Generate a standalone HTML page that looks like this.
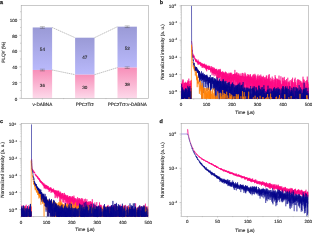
<!DOCTYPE html>
<html><head><meta charset="utf-8"><style>
html,body{margin:0;padding:0;background:#fff;width:312px;height:233px;overflow:hidden}
svg{display:block;will-change:transform}
text{font-family:"Liberation Sans",sans-serif;text-rendering:geometricPrecision;fill:#262626;stroke:#262626;stroke-width:0.12px}
</style></head><body>
<svg width="312" height="233" viewBox="0 0 312 233">
<defs><linearGradient id="gb" x1="0" y1="0" x2="0" y2="1"><stop offset="0" stop-color="#9a9ad6"/><stop offset="1" stop-color="#b9b9fb"/></linearGradient><linearGradient id="gp" x1="0" y1="0" x2="0" y2="1"><stop offset="0" stop-color="#f78fb9"/><stop offset="1" stop-color="#fdd9ea"/></linearGradient></defs>
<rect x="32.70" y="27.47" width="19.4" height="42.50" fill="url(#gb)"/>
<rect x="32.70" y="69.97" width="19.4" height="28.33" fill="url(#gp)"/>
<text x="42.40" y="51.22" font-size="4.6" text-anchor="middle" >54</text>
<text x="42.40" y="86.93" font-size="4.6" text-anchor="middle" >36</text>
<text x="42.40" y="106.30" font-size="4.6" text-anchor="middle" >v-DABNA</text>
<line x1="39.90" y1="26.67" x2="44.90" y2="26.67" stroke="#666" stroke-width="0.4"/>
<line x1="39.90" y1="28.37" x2="44.90" y2="28.37" stroke="#555" stroke-width="0.45"/>
<line x1="42.40" y1="26.67" x2="42.40" y2="28.37" stroke="#666" stroke-width="0.4"/>
<line x1="39.90" y1="69.17" x2="44.90" y2="69.17" stroke="#666" stroke-width="0.4"/>
<line x1="39.90" y1="70.87" x2="44.90" y2="70.87" stroke="#555" stroke-width="0.45"/>
<line x1="42.40" y1="69.17" x2="42.40" y2="70.87" stroke="#666" stroke-width="0.4"/>
<rect x="75.10" y="37.70" width="19.4" height="36.99" fill="url(#gb)"/>
<rect x="75.10" y="74.69" width="19.4" height="23.61" fill="url(#gp)"/>
<text x="84.80" y="58.70" font-size="4.6" text-anchor="middle" >47</text>
<text x="84.80" y="89.30" font-size="4.6" text-anchor="middle" >30</text>
<text x="84.80" y="106.30" font-size="4.6" text-anchor="middle" >PPCzTrz</text>
<rect x="117.50" y="26.68" width="19.4" height="40.92" fill="url(#gb)"/>
<rect x="117.50" y="67.61" width="19.4" height="30.69" fill="url(#gp)"/>
<text x="127.20" y="49.64" font-size="4.6" text-anchor="middle" >52</text>
<text x="127.20" y="85.75" font-size="4.6" text-anchor="middle" >39</text>
<text x="127.20" y="106.30" font-size="4.6" text-anchor="middle" >PPCzTrz:v-DABNA</text>
<line x1="124.70" y1="25.88" x2="129.70" y2="25.88" stroke="#666" stroke-width="0.4"/>
<line x1="124.70" y1="27.58" x2="129.70" y2="27.58" stroke="#555" stroke-width="0.45"/>
<line x1="127.20" y1="25.88" x2="127.20" y2="27.58" stroke="#666" stroke-width="0.4"/>
<line x1="124.70" y1="66.81" x2="129.70" y2="66.81" stroke="#666" stroke-width="0.4"/>
<line x1="124.70" y1="68.51" x2="129.70" y2="68.51" stroke="#555" stroke-width="0.45"/>
<line x1="127.20" y1="66.81" x2="127.20" y2="68.51" stroke="#666" stroke-width="0.4"/>
<path d="M52.10 27.47L75.10 37.70M52.10 69.97L75.10 74.69" stroke="#5a5a5a" stroke-width="0.38" stroke-dasharray="1.5 0.6" fill="none"/>
<path d="M94.50 37.70L117.50 26.68M94.50 74.69L117.50 67.61" stroke="#5a5a5a" stroke-width="0.38" stroke-dasharray="1.5 0.6" fill="none"/>
<rect x="21.2" y="5.5" width="127.30" height="92.80" fill="none" stroke="#a6a6a6" stroke-width="0.6"/>
<line x1="19.40" y1="98.30" x2="21.20" y2="98.30" stroke="#a6a6a6" stroke-width="0.6"/>
<text x="17.20" y="100.50" font-size="4.5" text-anchor="end" >0</text>
<line x1="20.20" y1="90.43" x2="21.20" y2="90.43" stroke="#a6a6a6" stroke-width="0.6"/>
<line x1="19.40" y1="82.56" x2="21.20" y2="82.56" stroke="#a6a6a6" stroke-width="0.6"/>
<text x="17.20" y="84.76" font-size="4.5" text-anchor="end" >20</text>
<line x1="20.20" y1="74.69" x2="21.20" y2="74.69" stroke="#a6a6a6" stroke-width="0.6"/>
<line x1="19.40" y1="66.82" x2="21.20" y2="66.82" stroke="#a6a6a6" stroke-width="0.6"/>
<text x="17.20" y="69.02" font-size="4.5" text-anchor="end" >40</text>
<line x1="20.20" y1="58.95" x2="21.20" y2="58.95" stroke="#a6a6a6" stroke-width="0.6"/>
<line x1="19.40" y1="51.08" x2="21.20" y2="51.08" stroke="#a6a6a6" stroke-width="0.6"/>
<text x="17.20" y="53.28" font-size="4.5" text-anchor="end" >60</text>
<line x1="20.20" y1="43.21" x2="21.20" y2="43.21" stroke="#a6a6a6" stroke-width="0.6"/>
<line x1="19.40" y1="35.34" x2="21.20" y2="35.34" stroke="#a6a6a6" stroke-width="0.6"/>
<text x="17.20" y="37.54" font-size="4.5" text-anchor="end" >80</text>
<line x1="20.20" y1="27.47" x2="21.20" y2="27.47" stroke="#a6a6a6" stroke-width="0.6"/>
<line x1="19.40" y1="19.60" x2="21.20" y2="19.60" stroke="#a6a6a6" stroke-width="0.6"/>
<text x="17.20" y="21.80" font-size="4.5" text-anchor="end" >100</text>
<line x1="20.20" y1="11.73" x2="21.20" y2="11.73" stroke="#a6a6a6" stroke-width="0.6"/>
<line x1="42.40" y1="98.30" x2="42.40" y2="99.50" stroke="#a6a6a6" stroke-width="0.6"/>
<line x1="84.80" y1="98.30" x2="84.80" y2="99.50" stroke="#a6a6a6" stroke-width="0.6"/>
<line x1="127.20" y1="98.30" x2="127.20" y2="99.50" stroke="#a6a6a6" stroke-width="0.6"/>
<line x1="63.60" y1="98.30" x2="63.60" y2="99.10" stroke="#a6a6a6" stroke-width="0.6"/>
<line x1="106.00" y1="98.30" x2="106.00" y2="99.10" stroke="#a6a6a6" stroke-width="0.6"/>
<text transform="translate(4.6,52.3) rotate(-90)" font-size="4.7" text-anchor="middle">PLQY (%)</text>
<text x="0" y="3.9" font-size="5.4" font-weight="bold" style="stroke-width:0.25px">a</text>
<rect x="181.2" y="5.6" width="127.40" height="93.20" fill="none" stroke="#a6a6a6" stroke-width="0.6"/>
<line x1="180.40" y1="98.64" x2="181.20" y2="98.64" stroke="#a6a6a6" stroke-width="0.4"/>
<line x1="180.40" y1="96.98" x2="181.20" y2="96.98" stroke="#a6a6a6" stroke-width="0.4"/>
<line x1="180.40" y1="95.62" x2="181.20" y2="95.62" stroke="#a6a6a6" stroke-width="0.4"/>
<line x1="180.40" y1="94.46" x2="181.20" y2="94.46" stroke="#a6a6a6" stroke-width="0.4"/>
<line x1="180.40" y1="93.47" x2="181.20" y2="93.47" stroke="#a6a6a6" stroke-width="0.4"/>
<line x1="180.40" y1="92.59" x2="181.20" y2="92.59" stroke="#a6a6a6" stroke-width="0.4"/>
<line x1="179.60" y1="91.80" x2="181.20" y2="91.80" stroke="#a6a6a6" stroke-width="0.6"/>
<text x="174.20" y="93.80" font-size="4.8" text-anchor="end" >10</text>
<text x="174.40" y="92.00" font-size="3.0" text-anchor="start" >-5</text>
<line x1="180.40" y1="86.62" x2="181.20" y2="86.62" stroke="#a6a6a6" stroke-width="0.4"/>
<line x1="180.40" y1="83.59" x2="181.20" y2="83.59" stroke="#a6a6a6" stroke-width="0.4"/>
<line x1="180.40" y1="81.44" x2="181.20" y2="81.44" stroke="#a6a6a6" stroke-width="0.4"/>
<line x1="180.40" y1="79.78" x2="181.20" y2="79.78" stroke="#a6a6a6" stroke-width="0.4"/>
<line x1="180.40" y1="78.42" x2="181.20" y2="78.42" stroke="#a6a6a6" stroke-width="0.4"/>
<line x1="180.40" y1="77.26" x2="181.20" y2="77.26" stroke="#a6a6a6" stroke-width="0.4"/>
<line x1="180.40" y1="76.27" x2="181.20" y2="76.27" stroke="#a6a6a6" stroke-width="0.4"/>
<line x1="180.40" y1="75.39" x2="181.20" y2="75.39" stroke="#a6a6a6" stroke-width="0.4"/>
<line x1="179.60" y1="74.60" x2="181.20" y2="74.60" stroke="#a6a6a6" stroke-width="0.6"/>
<text x="174.20" y="76.60" font-size="4.8" text-anchor="end" >10</text>
<text x="174.40" y="74.80" font-size="3.0" text-anchor="start" >-4</text>
<line x1="180.40" y1="69.42" x2="181.20" y2="69.42" stroke="#a6a6a6" stroke-width="0.4"/>
<line x1="180.40" y1="66.39" x2="181.20" y2="66.39" stroke="#a6a6a6" stroke-width="0.4"/>
<line x1="180.40" y1="64.24" x2="181.20" y2="64.24" stroke="#a6a6a6" stroke-width="0.4"/>
<line x1="180.40" y1="62.58" x2="181.20" y2="62.58" stroke="#a6a6a6" stroke-width="0.4"/>
<line x1="180.40" y1="61.22" x2="181.20" y2="61.22" stroke="#a6a6a6" stroke-width="0.4"/>
<line x1="180.40" y1="60.06" x2="181.20" y2="60.06" stroke="#a6a6a6" stroke-width="0.4"/>
<line x1="180.40" y1="59.07" x2="181.20" y2="59.07" stroke="#a6a6a6" stroke-width="0.4"/>
<line x1="180.40" y1="58.19" x2="181.20" y2="58.19" stroke="#a6a6a6" stroke-width="0.4"/>
<line x1="179.60" y1="57.40" x2="181.20" y2="57.40" stroke="#a6a6a6" stroke-width="0.6"/>
<text x="174.20" y="59.40" font-size="4.8" text-anchor="end" >10</text>
<text x="174.40" y="57.60" font-size="3.0" text-anchor="start" >-3</text>
<line x1="180.40" y1="52.22" x2="181.20" y2="52.22" stroke="#a6a6a6" stroke-width="0.4"/>
<line x1="180.40" y1="49.19" x2="181.20" y2="49.19" stroke="#a6a6a6" stroke-width="0.4"/>
<line x1="180.40" y1="47.04" x2="181.20" y2="47.04" stroke="#a6a6a6" stroke-width="0.4"/>
<line x1="180.40" y1="45.38" x2="181.20" y2="45.38" stroke="#a6a6a6" stroke-width="0.4"/>
<line x1="180.40" y1="44.02" x2="181.20" y2="44.02" stroke="#a6a6a6" stroke-width="0.4"/>
<line x1="180.40" y1="42.86" x2="181.20" y2="42.86" stroke="#a6a6a6" stroke-width="0.4"/>
<line x1="180.40" y1="41.87" x2="181.20" y2="41.87" stroke="#a6a6a6" stroke-width="0.4"/>
<line x1="180.40" y1="40.99" x2="181.20" y2="40.99" stroke="#a6a6a6" stroke-width="0.4"/>
<line x1="179.60" y1="40.20" x2="181.20" y2="40.20" stroke="#a6a6a6" stroke-width="0.6"/>
<text x="174.20" y="42.20" font-size="4.8" text-anchor="end" >10</text>
<text x="174.40" y="40.40" font-size="3.0" text-anchor="start" >-2</text>
<line x1="180.40" y1="35.02" x2="181.20" y2="35.02" stroke="#a6a6a6" stroke-width="0.4"/>
<line x1="180.40" y1="31.99" x2="181.20" y2="31.99" stroke="#a6a6a6" stroke-width="0.4"/>
<line x1="180.40" y1="29.84" x2="181.20" y2="29.84" stroke="#a6a6a6" stroke-width="0.4"/>
<line x1="180.40" y1="28.18" x2="181.20" y2="28.18" stroke="#a6a6a6" stroke-width="0.4"/>
<line x1="180.40" y1="26.82" x2="181.20" y2="26.82" stroke="#a6a6a6" stroke-width="0.4"/>
<line x1="180.40" y1="25.66" x2="181.20" y2="25.66" stroke="#a6a6a6" stroke-width="0.4"/>
<line x1="180.40" y1="24.67" x2="181.20" y2="24.67" stroke="#a6a6a6" stroke-width="0.4"/>
<line x1="180.40" y1="23.79" x2="181.20" y2="23.79" stroke="#a6a6a6" stroke-width="0.4"/>
<line x1="179.60" y1="23.00" x2="181.20" y2="23.00" stroke="#a6a6a6" stroke-width="0.6"/>
<text x="174.20" y="25.00" font-size="4.8" text-anchor="end" >10</text>
<text x="174.40" y="23.20" font-size="3.0" text-anchor="start" >-1</text>
<line x1="180.40" y1="17.82" x2="181.20" y2="17.82" stroke="#a6a6a6" stroke-width="0.4"/>
<line x1="180.40" y1="14.79" x2="181.20" y2="14.79" stroke="#a6a6a6" stroke-width="0.4"/>
<line x1="180.40" y1="12.64" x2="181.20" y2="12.64" stroke="#a6a6a6" stroke-width="0.4"/>
<line x1="180.40" y1="10.98" x2="181.20" y2="10.98" stroke="#a6a6a6" stroke-width="0.4"/>
<line x1="180.40" y1="9.62" x2="181.20" y2="9.62" stroke="#a6a6a6" stroke-width="0.4"/>
<line x1="180.40" y1="8.46" x2="181.20" y2="8.46" stroke="#a6a6a6" stroke-width="0.4"/>
<line x1="180.40" y1="7.47" x2="181.20" y2="7.47" stroke="#a6a6a6" stroke-width="0.4"/>
<line x1="180.40" y1="6.59" x2="181.20" y2="6.59" stroke="#a6a6a6" stroke-width="0.4"/>
<line x1="179.60" y1="5.80" x2="181.20" y2="5.80" stroke="#a6a6a6" stroke-width="0.6"/>
<text x="174.20" y="7.80" font-size="4.8" text-anchor="end" >10</text>
<text x="174.40" y="6.00" font-size="3.0" text-anchor="start" >0</text>
<line x1="181.00" y1="98.80" x2="181.00" y2="100.00" stroke="#a6a6a6" stroke-width="0.6"/>
<text x="181.00" y="105.90" font-size="4.5" text-anchor="middle" >0</text>
<line x1="206.52" y1="98.80" x2="206.52" y2="100.00" stroke="#a6a6a6" stroke-width="0.6"/>
<text x="206.52" y="105.90" font-size="4.5" text-anchor="middle" >100</text>
<line x1="232.04" y1="98.80" x2="232.04" y2="100.00" stroke="#a6a6a6" stroke-width="0.6"/>
<text x="232.04" y="105.90" font-size="4.5" text-anchor="middle" >200</text>
<line x1="257.56" y1="98.80" x2="257.56" y2="100.00" stroke="#a6a6a6" stroke-width="0.6"/>
<text x="257.56" y="105.90" font-size="4.5" text-anchor="middle" >300</text>
<line x1="283.08" y1="98.80" x2="283.08" y2="100.00" stroke="#a6a6a6" stroke-width="0.6"/>
<text x="283.08" y="105.90" font-size="4.5" text-anchor="middle" >400</text>
<line x1="308.60" y1="98.80" x2="308.60" y2="100.00" stroke="#a6a6a6" stroke-width="0.6"/>
<text x="308.60" y="105.90" font-size="4.5" text-anchor="middle" >500</text>
<line x1="193.76" y1="98.80" x2="193.76" y2="99.60" stroke="#a6a6a6" stroke-width="0.6"/>
<line x1="219.28" y1="98.80" x2="219.28" y2="99.60" stroke="#a6a6a6" stroke-width="0.6"/>
<line x1="244.80" y1="98.80" x2="244.80" y2="99.60" stroke="#a6a6a6" stroke-width="0.6"/>
<line x1="270.32" y1="98.80" x2="270.32" y2="99.60" stroke="#a6a6a6" stroke-width="0.6"/>
<line x1="295.84" y1="98.80" x2="295.84" y2="99.60" stroke="#a6a6a6" stroke-width="0.6"/>
<text transform="translate(164.4,51.95) rotate(-90)" font-size="4.7" text-anchor="middle">Normalized intensity (a. u.)</text>
<text x="245.00" y="113.80" font-size="4.6" text-anchor="middle" >Time (&#956;s)</text>
<text x="159.8" y="3.9" font-size="5.4" font-weight="bold" style="stroke-width:0.25px">b</text>
<clipPath id="k1"><rect x="181.2" y="5.6" width="127.40" height="93.20"/></clipPath>
<path clip-path="url(#k1)" d="M181.0 85.1 181.1 83.2 181.1 85.2 181.2 101.8 181.3 82.9 181.3 84.7 181.4 91.2 181.4 84.1 181.5 85.1 181.6 85.4 181.6 86.8 181.7 84.2 181.8 93.8 181.8 88.0 181.9 90.7 181.9 84.0 182.0 86.7 182.1 89.0 182.1 94.5 182.2 88.7 182.3 86.9 182.3 88.9 182.4 81.6 182.4 82.5 182.5 101.8 182.6 101.8 182.6 88.1 182.7 90.1 182.8 85.8 182.8 85.8 182.9 79.5 182.9 101.8 183.0 89.7 183.1 79.7 183.1 83.8 183.2 83.8 183.3 91.0 183.3 101.8 183.4 86.0 183.4 86.4 183.5 101.8 183.6 93.0 183.6 87.4 183.7 97.8 183.8 87.6 183.8 86.4 183.9 86.8 183.9 90.9 184.0 84.1 184.1 82.9 184.1 85.3 184.2 95.1 184.3 83.5 184.3 90.9 184.4 83.0 184.4 101.8 184.5 82.8 184.6 87.1 184.6 101.8 184.7 89.2 184.8 86.7 184.8 85.5 184.9 98.8 184.9 101.8 185.0 85.9 185.1 90.5 185.1 85.7 185.2 83.4 185.3 101.8 185.3 85.6 185.4 81.8 185.4 89.0 185.5 95.0 185.6 83.4 185.6 85.6 185.7 82.9 185.8 89.4 185.8 101.8 185.9 87.7 185.9 90.3 186.0 83.3 186.1 85.9 186.1 101.8 186.2 101.8 186.3 83.0 186.3 83.7 186.4 92.4 186.4 87.0 186.5 84.7 186.6 84.6 186.6 83.0 186.7 85.6 186.8 87.6 186.8 88.7 186.9 82.4 187.0 101.8 187.0 87.9 187.1 86.8 187.1 101.8 187.2 85.2 187.3 92.6 187.3 83.0 187.4 87.8 187.5 83.7 187.5 81.9 187.6 85.0 187.6 96.2 187.7 101.8 187.8 80.4 187.8 87.7 187.9 93.1 188.0 86.2 188.0 88.2 188.1 83.1 188.1 86.8 188.2 86.9 188.3 93.4 188.3 84.6 188.4 100.5 188.5 83.8 188.5 81.0 188.6 101.8 188.6 101.8 188.7 84.0 188.8 78.6 188.8 99.4 188.9 101.8 189.0 84.1 189.0 95.5 189.1 90.9 189.1 89.5 189.2 84.3 189.3 90.0 189.3 85.5 189.4 88.1 189.5 95.6 189.5 89.2 189.6 97.9 189.6 86.9 189.7 101.8 189.8 101.8 189.8 81.2 189.9 87.3 190.0 87.3 190.0 84.4 190.1 90.1 190.1 88.5 190.2 84.8 190.3 85.4 190.3 101.8 190.4 83.1 190.5 91.8 190.5 101.4 190.6 96.7 190.6 89.8 190.7 80.7 190.8 101.8 190.8 86.1 190.9 101.8 191.0 87.0 191.0 82.9 191.1 88.6 191.1 92.3 191.2 85.7 191.3 83.6 191.3 83.8 191.4 79.9 191.5 85.8 191.5 91.9 M191.6 40.8 191.6 41.7 191.7 42.5 191.8 43.3 191.8 44.1 191.9 45.5 192.0 45.6 192.0 46.9 192.1 48.0 192.2 48.2 192.2 48.8 192.3 49.9 192.3 50.7 192.4 51.5 192.5 50.4 192.5 51.6 192.6 52.9 192.7 53.2 192.7 53.1 192.8 54.4 192.8 53.9 192.9 54.6 193.0 54.2 193.0 54.5 193.1 56.9 193.2 55.3 193.2 56.4 193.3 54.9 193.3 55.5 193.4 55.4 193.5 56.5 193.5 54.9 193.6 54.9 193.7 56.8 193.7 56.1 193.8 56.8 193.8 56.5 193.9 57.5 194.0 55.6 194.0 57.5 194.1 57.1 194.2 56.7 194.2 57.6 194.3 57.4 194.3 57.8 194.4 57.6 194.5 58.5 194.5 58.0 194.6 58.0 194.7 58.2 194.7 58.0 194.8 58.4 194.8 57.8 194.9 58.6 195.0 58.6 195.0 59.1 195.1 59.1 195.2 59.8 195.2 58.6 195.3 60.0 195.3 59.8 195.4 59.0 195.5 59.1 195.5 59.8 195.6 61.4 195.7 59.4 195.7 59.6 195.8 61.2 195.8 59.5 195.9 60.8 196.0 61.3 196.0 60.3 196.1 60.6 196.2 60.4 196.2 62.1 196.3 59.2 196.3 61.2 196.4 62.2 196.5 60.3 196.5 61.1 196.6 60.6 196.7 61.2 196.7 61.0 196.8 60.8 196.8 61.8 196.9 60.6 197.0 61.6 197.0 62.0 197.1 61.2 197.2 61.0 197.2 61.6 197.3 62.3 197.3 61.0 197.4 63.3 197.5 62.6 197.5 61.6 197.6 63.1 197.7 61.7 197.7 61.8 197.8 61.1 197.9 62.8 197.9 62.6 198.0 61.7 198.0 64.8 198.1 59.6 198.2 62.8 198.2 62.9 198.3 61.5 198.4 62.3 198.4 64.3 198.5 61.8 198.5 61.7 198.6 63.0 198.7 62.8 198.7 62.2 198.8 63.6 198.9 62.3 198.9 62.6 199.0 63.5 199.0 64.4 199.1 63.1 199.2 63.9 199.2 62.1 199.3 62.9 199.4 62.4 199.4 63.0 199.5 63.0 199.5 64.1 199.6 62.7 199.7 61.7 199.7 63.8 199.8 64.1 199.9 63.7 199.9 64.1 200.0 64.4 200.0 63.5 200.1 64.0 200.2 62.3 200.2 63.7 200.3 63.4 200.4 62.8 200.4 64.2 200.5 62.5 200.5 64.6 200.6 64.8 200.7 64.4 200.7 64.1 200.8 65.7 200.9 64.1 200.9 66.2 201.0 62.7 201.0 64.2 201.1 64.9 201.2 65.3 201.2 64.7 201.3 64.5 201.4 65.6 201.4 65.4 201.5 64.6 201.5 65.0 201.6 63.4 201.7 63.3 201.7 64.5 201.8 64.0 201.9 66.3 201.9 63.9 202.0 64.7 202.0 64.1 202.1 63.0 202.2 68.0 202.2 64.5 202.3 66.2 202.4 64.2 202.4 66.6 202.5 65.5 202.5 64.7 202.6 64.3 202.7 64.9 202.7 66.0 202.8 65.7 202.9 64.1 202.9 65.1 203.0 67.5 203.0 64.2 203.1 64.7 203.2 64.2 203.2 65.7 203.3 64.4 203.4 66.7 203.4 64.7 203.5 66.0 203.6 64.6 203.6 64.3 203.7 66.4 203.7 65.6 203.8 65.5 203.9 64.2 203.9 64.8 204.0 67.3 204.1 65.1 204.1 64.8 204.2 63.5 204.2 68.2 204.3 66.5 204.4 64.3 204.4 67.8 204.5 67.6 204.6 65.3 204.6 64.8 204.7 66.9 204.7 65.4 204.8 65.9 204.9 64.4 204.9 66.1 205.0 65.0 205.1 67.5 205.1 66.5 205.2 66.4 205.2 64.9 205.3 65.6 205.4 67.4 205.4 65.6 205.5 65.5 205.6 66.6 205.6 66.9 205.7 66.8 205.7 69.3 205.8 66.4 205.9 66.3 205.9 68.0 206.0 65.8 206.1 68.9 206.1 67.6 206.2 67.5 206.2 64.5 206.3 69.5 206.4 66.2 206.4 65.8 206.5 66.5 206.6 65.5 206.6 68.6 206.7 71.3 206.7 66.1 206.8 69.1 206.9 67.7 206.9 69.1 207.0 65.9 207.1 66.2 207.1 68.5 207.2 66.2 207.2 67.2 207.3 67.7 207.4 67.4 207.4 67.8 207.5 66.7 207.6 67.2 207.6 68.2 207.7 66.3 207.7 68.7 207.8 67.3 207.9 67.2 207.9 65.9 208.0 68.6 208.1 65.6 208.1 67.6 208.2 68.2 208.2 69.1 208.3 67.2 208.4 68.0 208.4 70.0 208.5 70.1 208.6 69.1 208.6 69.3 208.7 66.7 208.8 66.4 208.8 67.1 208.9 67.8 208.9 69.1 209.0 68.3 209.1 67.2 209.1 65.7 209.2 67.2 209.3 69.0 209.3 68.5 209.4 69.4 209.4 70.0 209.5 69.0 209.6 68.4 209.6 66.3 209.7 68.7 209.8 66.9 209.8 66.4 209.9 68.8 209.9 66.7 210.0 67.9 210.1 69.7 210.1 68.6 210.2 69.0 210.3 69.5 210.3 69.4 210.4 68.9 210.4 68.5 210.5 70.8 210.6 69.2 210.6 72.4 210.7 68.8 210.8 68.3 210.8 69.1 210.9 68.9 210.9 68.4 211.0 70.6 211.1 69.9 211.1 68.6 211.2 68.0 211.3 68.9 211.3 66.1 211.4 69.8 211.4 68.1 211.5 67.7 211.6 69.9 211.6 71.3 211.7 72.2 211.8 69.5 211.8 68.1 211.9 69.4 211.9 69.6 212.0 70.6 212.1 69.0 212.1 75.3 212.2 69.6 212.3 70.0 212.3 73.0 212.4 66.9 212.4 73.1 212.5 72.4 212.6 72.7 212.6 68.4 212.7 72.0 212.8 69.1 212.8 69.3 212.9 69.8 212.9 73.2 213.0 71.6 213.1 67.8 213.1 73.3 213.2 72.2 213.3 70.8 213.3 69.1 213.4 70.1 213.4 69.3 213.5 72.9 213.6 69.0 213.6 69.6 213.7 74.6 213.8 68.2 213.8 67.3 213.9 72.4 213.9 70.7 214.0 68.5 214.1 74.5 214.1 76.3 214.2 74.0 214.3 72.1 214.3 72.2 214.4 69.9 214.5 70.5 214.5 74.0 214.6 70.1 214.6 68.1 214.7 69.1 214.8 69.4 214.8 71.2 214.9 69.5 215.0 73.5 215.0 69.9 215.1 71.5 215.1 69.4 215.2 70.5 215.3 74.0 215.3 71.2 215.4 69.3 215.5 74.3 215.5 72.8 215.6 73.3 215.6 75.6 215.7 69.9 215.8 69.3 215.8 70.2 215.9 71.2 216.0 71.8 216.0 71.3 216.1 73.5 216.1 70.1 216.2 69.9 216.3 70.1 216.3 73.1 216.4 71.8 216.5 72.3 216.5 68.9 216.6 71.6 216.6 77.9 216.7 71.3 216.8 68.9 216.8 70.8 216.9 70.5 217.0 72.1 217.0 78.7 217.1 77.9 217.1 75.7 217.2 72.6 217.3 71.7 217.3 71.0 217.4 73.2 217.5 70.5 217.5 73.1 217.6 74.3 217.6 70.8 217.7 74.9 217.8 85.6 217.8 75.5 217.9 72.4 218.0 93.5 218.0 73.5 218.1 73.5 218.1 77.0 218.2 77.3 218.3 73.9 218.3 74.2 218.4 70.4 218.5 72.1 218.5 78.0 218.6 75.3 218.6 71.5 218.7 69.5 218.8 72.2 218.8 72.3 218.9 69.6 219.0 73.2 219.0 73.9 219.1 77.7 219.1 74.5 219.2 69.3 219.3 77.8 219.3 73.3 219.4 77.9 219.5 73.0 219.5 71.5 219.6 74.0 219.6 71.8 219.7 71.9 219.8 72.5 219.8 70.2 219.9 71.8 220.0 74.4 220.0 75.5 220.1 76.1 220.2 72.6 220.2 74.6 220.3 68.9 220.3 70.1 220.4 74.4 220.5 74.7 220.5 70.5 220.6 81.7 220.7 75.2 220.7 71.9 220.8 76.9 220.8 75.4 220.9 75.1 221.0 72.6 221.0 73.8 221.1 73.2 221.2 72.8 221.2 74.2 221.3 71.8 221.3 76.6 221.4 79.8 221.5 82.1 221.5 81.1 221.6 76.2 221.7 72.2 221.7 74.1 221.8 76.5 221.8 78.4 221.9 76.3 222.0 75.9 222.0 76.5 222.1 80.5 222.2 76.3 222.2 72.4 222.3 87.8 222.3 75.6 222.4 87.3 222.5 74.5 222.5 77.6 222.6 87.2 222.7 74.8 222.7 71.2 222.8 74.9 222.8 72.4 222.9 75.5 223.0 89.4 223.0 74.0 223.1 76.7 223.2 81.9 223.2 73.4 223.3 74.7 223.3 77.3 223.4 73.3 223.5 78.8 223.5 73.9 223.6 79.3 223.7 74.2 223.7 80.2 223.8 72.2 223.8 75.1 223.9 72.4 224.0 79.0 224.0 77.6 224.1 73.7 224.2 101.8 224.2 80.5 224.3 73.3 224.3 74.7 224.4 73.5 224.5 77.2 224.5 74.5 224.6 79.0 224.7 82.8 224.7 85.9 224.8 78.2 224.8 78.2 224.9 78.6 225.0 101.8 225.0 91.1 225.1 78.2 225.2 75.4 225.2 78.4 225.3 79.9 225.3 101.8 225.4 71.6 225.5 81.2 225.5 72.2 225.6 72.4 225.7 75.5 225.7 78.5 225.8 75.9 225.9 81.6 225.9 75.6 226.0 76.4 226.0 74.8 226.1 73.8 226.2 72.2 226.2 77.8 226.3 73.6 226.4 79.7 226.4 80.2 226.5 78.9 226.5 80.8 226.6 73.8 226.7 73.9 226.7 73.2 226.8 76.6 226.9 75.7 226.9 78.8 227.0 82.0 227.0 75.2 227.1 75.7 227.2 81.7 227.2 74.9 227.3 88.0 227.4 77.3 227.4 79.1 227.5 78.7 227.5 81.7 227.6 74.0 227.7 75.0 227.7 73.5 227.8 76.3 227.9 83.4 227.9 78.1 228.0 82.6 228.0 75.4 228.1 73.5 228.2 75.8 228.2 79.2 228.3 78.2 228.4 76.2 228.4 85.1 228.5 76.4 228.5 76.2 228.6 79.1 228.7 78.5 228.7 76.4 228.8 80.5 228.9 80.6 228.9 74.6 229.0 76.2 229.0 72.7 229.1 81.6 229.2 90.5 229.2 74.3 229.3 74.3 229.4 80.3 229.4 85.9 229.5 77.3 229.5 90.3 229.6 78.4 229.7 101.8 229.7 78.0 229.8 101.8 229.9 78.1 229.9 73.1 230.0 78.2 230.0 74.9 230.1 80.0 230.2 81.4 230.2 86.8 230.3 74.2 230.4 77.5 230.4 73.0 230.5 83.7 230.5 78.2 230.6 77.1 230.7 73.4 230.7 72.6 230.8 80.2 230.9 83.5 230.9 91.7 231.0 73.7 231.1 77.8 231.1 80.3 231.2 77.7 231.2 101.8 231.3 91.9 231.4 74.7 231.4 76.2 231.5 77.0 231.6 82.7 231.6 75.6 231.7 72.8 231.7 84.6 231.8 77.5 231.9 79.4 231.9 76.4 232.0 77.6 232.1 78.2 232.1 82.0 232.2 77.7 232.2 80.4 232.3 78.3 232.4 77.9 232.4 75.6 232.5 80.3 232.6 79.1 232.6 74.5 232.7 78.6 232.7 78.8 232.8 75.0 232.9 76.8 232.9 77.4 233.0 77.0 233.1 85.3 233.1 76.2 233.2 74.0 233.2 75.9 233.3 89.8 233.4 76.8 233.4 82.5 233.5 78.8 233.6 77.4 233.6 85.0 233.7 74.0 233.7 78.2 233.8 75.3 233.9 75.8 233.9 74.0 234.0 74.3 234.1 88.7 234.1 77.8 234.2 101.8 234.2 79.9 234.3 75.6 234.4 75.1 234.4 74.1 234.5 79.6 234.6 76.8 234.6 77.6 234.7 74.2 234.7 73.5 234.8 79.6 234.9 69.9 234.9 78.1 235.0 79.7 235.1 76.0 235.1 75.6 235.2 76.2 235.2 81.2 235.3 73.8 235.4 77.9 235.4 73.7 235.5 74.0 235.6 86.5 235.6 83.6 235.7 83.8 235.7 77.2 235.8 78.0 235.9 77.2 235.9 82.4 236.0 76.7 236.1 74.0 236.1 87.5 236.2 79.0 236.2 77.3 236.3 78.8 236.4 79.1 236.4 73.3 236.5 74.4 236.6 75.5 236.6 82.2 236.7 72.4 236.8 77.0 236.8 81.1 236.9 79.8 236.9 80.6 237.0 72.6 237.1 77.6 237.1 78.1 237.2 101.8 237.3 75.9 237.3 84.8 237.4 85.5 237.4 76.3 237.5 83.2 237.6 75.6 237.6 74.9 237.7 101.8 237.8 79.0 237.8 93.2 237.9 78.7 237.9 75.5 238.0 88.8 238.1 73.4 238.1 79.9 238.2 86.4 238.3 79.1 238.3 75.9 238.4 89.3 238.4 78.6 238.5 89.3 238.6 74.8 238.6 78.0 238.7 80.7 238.8 75.3 238.8 88.2 238.9 80.5 238.9 73.4 239.0 79.2 239.1 74.5 239.1 78.0 239.2 82.5 239.3 79.9 239.3 78.4 239.4 80.7 239.4 83.5 239.5 83.2 239.6 92.6 239.6 78.4 239.7 77.3 239.8 76.2 239.8 101.8 239.9 76.0 239.9 79.0 240.0 91.6 240.1 78.5 240.1 76.1 240.2 77.0 240.3 76.3 240.3 75.7 240.4 75.8 240.4 79.1 240.5 101.8 240.6 83.3 240.6 77.6 240.7 81.4 240.8 76.5 240.8 76.2 240.9 78.8 240.9 73.5 241.0 85.3 241.1 75.8 241.1 81.5 241.2 83.6 241.3 76.9 241.3 82.5 241.4 76.1 241.4 87.8 241.5 79.0 241.6 84.3 241.6 80.3 241.7 81.0 241.8 87.4 241.8 76.8 241.9 89.2 241.9 85.7 242.0 76.1 242.1 75.8 242.1 76.8 242.2 77.9 242.3 72.9 242.3 88.8 242.4 83.7 242.5 86.0 242.5 76.1 242.6 78.1 242.6 75.5 242.7 75.9 242.8 80.4 242.8 84.4 242.9 86.2 243.0 73.1 243.0 76.0 243.1 77.1 243.1 81.1 243.2 80.4 243.3 81.2 243.3 81.1 243.4 101.8 243.5 79.7 243.5 81.5 243.6 78.3 243.6 78.6 243.7 76.4 243.8 79.6 243.8 76.6 243.9 101.8 244.0 88.0 244.0 74.2 244.1 89.9 244.1 81.0 244.2 76.9 244.3 85.5 244.3 76.9 244.4 95.7 244.5 101.8 244.5 92.6 244.6 101.8 244.6 79.7 244.7 81.3 244.8 78.3 244.8 87.5 244.9 72.6 245.0 80.2 245.0 79.9 245.1 77.9 245.1 81.0 245.2 83.5 245.3 79.4 245.3 76.4 245.4 77.2 245.5 76.3 245.5 83.1 245.6 84.9 245.6 73.7 245.7 81.1 245.8 77.9 245.8 77.0 245.9 75.1 246.0 94.6 246.0 82.6 246.1 82.3 246.1 81.5 246.2 101.8 246.3 80.4 246.3 101.8 246.4 78.6 246.5 77.7 246.5 77.5 246.6 91.1 246.6 76.4 246.7 86.1 246.8 91.7 246.8 87.5 246.9 86.0 247.0 79.2 247.0 76.9 247.1 101.8 247.1 83.3 247.2 76.6 247.3 79.2 247.3 78.0 247.4 101.8 247.5 76.5 247.5 101.8 247.6 79.2 247.7 75.4 247.7 74.1 247.8 78.0 247.8 76.7 247.9 83.9 248.0 83.0 248.0 75.9 248.1 80.2 248.2 80.9 248.2 100.0 248.3 79.5 248.3 77.6 248.4 85.8 248.5 83.3 248.5 74.9 248.6 79.4 248.7 81.9 248.7 90.8 248.8 84.3 248.8 81.7 248.9 75.5 249.0 84.3 249.0 74.5 249.1 87.6 249.2 82.4 249.2 77.0 249.3 81.7 249.3 86.5 249.4 81.1 249.5 78.5 249.5 101.8 249.6 81.8 249.7 81.0 249.7 82.9 249.8 77.5 249.8 84.1 249.9 82.6 250.0 80.3 250.0 77.5 250.1 81.8 250.2 75.3 250.2 87.9 250.3 75.9 250.3 87.3 250.4 81.6 250.5 79.0 250.5 74.1 250.6 77.1 250.7 83.2 250.7 75.9 250.8 82.0 250.8 86.9 250.9 78.8 251.0 80.4 251.0 77.0 251.1 84.6 251.2 79.1 251.2 78.1 251.3 79.6 251.3 81.1 251.4 86.2 251.5 77.3 251.5 80.3 251.6 78.7 251.7 83.2 251.7 81.0 251.8 91.6 251.8 80.7 251.9 77.8 252.0 80.7 252.0 77.5 252.1 79.6 252.2 76.0 252.2 82.4 252.3 101.8 252.3 79.2 252.4 82.3 252.5 91.0 252.5 78.4 252.6 80.0 252.7 79.2 252.7 83.5 252.8 80.4 252.8 80.1 252.9 75.1 253.0 86.9 253.0 81.5 253.1 79.7 253.2 101.8 253.2 101.8 253.3 74.3 253.4 101.8 253.4 78.9 253.5 89.6 253.5 88.3 253.6 101.8 253.7 90.7 253.7 78.1 253.8 101.8 253.9 78.9 253.9 80.1 254.0 74.7 254.0 85.3 254.1 76.7 254.2 77.9 254.2 83.8 254.3 101.8 254.4 76.0 254.4 101.8 254.5 85.5 254.5 78.0 254.6 77.2 254.7 90.5 254.7 82.2 254.8 83.8 254.9 77.0 254.9 73.8 255.0 101.8 255.0 77.9 255.1 101.8 255.2 82.1 255.2 100.2 255.3 74.9 255.4 81.3 255.4 89.2 255.5 86.2 255.5 87.1 255.6 81.2 255.7 83.4 255.7 79.1 255.8 76.2 255.9 78.9 255.9 101.8 256.0 101.8 256.0 90.0 256.1 77.7 256.2 85.0 256.2 88.8 256.3 81.7 256.4 101.8 256.4 101.8 256.5 79.9 256.5 84.8 256.6 86.3 256.7 80.8 256.7 87.9 256.8 89.4 256.9 86.5 256.9 79.5 257.0 82.3 257.0 101.8 257.1 85.1 257.2 79.4 257.2 75.5 257.3 101.8 257.4 80.9 257.4 84.8 257.5 78.8 257.5 80.4 257.6 76.6 257.7 80.1 257.7 88.0 257.8 87.9 257.9 80.7 257.9 80.7 258.0 74.4 258.0 76.1 258.1 101.8 258.2 81.0 258.2 101.8 258.3 101.8 258.4 79.3 258.4 80.1 258.5 101.8 258.5 76.3 258.6 101.0 258.7 101.8 258.7 79.7 258.8 81.9 258.9 84.5 258.9 83.8 259.0 81.9 259.1 84.4 259.1 84.7 259.2 101.8 259.2 101.8 259.3 80.0 259.4 91.8 259.4 80.4 259.5 77.7 259.6 86.6 259.6 81.7 259.7 75.4 259.7 79.7 259.8 76.0 259.9 76.8 259.9 79.5 260.0 84.5 260.1 96.6 260.1 101.8 260.2 80.8 260.2 80.9 260.3 85.2 260.4 79.2 260.4 90.6 260.5 78.3 260.6 83.6 260.6 84.1 260.7 83.9 260.7 84.7 260.8 74.6 260.9 101.8 260.9 82.7 261.0 77.9 261.1 79.9 261.1 86.8 261.2 76.4 261.2 101.8 261.3 101.8 261.4 80.7 261.4 101.8 261.5 101.8 261.6 79.3 261.6 79.9 261.7 80.0 261.7 89.6 261.8 83.0 261.9 101.8 261.9 76.6 262.0 79.8 262.1 80.0 262.1 101.8 262.2 79.8 262.2 77.3 262.3 78.2 262.4 79.9 262.4 84.5 262.5 88.0 262.6 80.8 262.6 82.0 262.7 82.9 262.7 87.7 262.8 76.8 262.9 101.8 262.9 84.9 263.0 92.3 263.1 79.0 263.1 77.6 263.2 78.3 263.2 80.2 263.3 101.8 263.4 75.8 263.4 81.4 263.5 85.8 263.6 84.7 263.6 88.5 263.7 82.0 263.7 82.7 263.8 88.9 263.9 101.8 263.9 85.3 264.0 81.8 264.1 81.5 264.1 86.5 264.2 82.0 264.3 79.3 264.3 91.1 264.4 77.7 264.4 101.8 264.5 101.8 264.6 101.8 264.6 101.8 264.7 101.8 264.8 78.5 264.8 78.6 264.9 84.5 264.9 77.0 265.0 83.5 265.1 92.2 265.1 83.5 265.2 86.8 265.3 80.7 265.3 101.8 265.4 79.6 265.4 91.7 265.5 80.2 265.6 101.8 265.6 91.0 265.7 84.9 265.8 80.1 265.8 101.8 265.9 77.3 265.9 82.2 266.0 93.7 266.1 78.8 266.1 84.9 266.2 79.1 266.3 75.6 266.3 80.8 266.4 94.1 266.4 91.7 266.5 81.8 266.6 83.6 266.6 101.8 266.7 100.5 266.8 81.4 266.8 75.6 266.9 101.8 266.9 81.1 267.0 88.5 267.1 80.9 267.1 80.5 267.2 85.6 267.3 101.8 267.3 101.8 267.4 101.8 267.4 79.0 267.5 88.7 267.6 95.8 267.6 89.8 267.7 101.8 267.8 83.8 267.8 78.7 267.9 79.4 267.9 101.8 268.0 78.6 268.1 101.8 268.1 101.8 268.2 101.8 268.3 101.8 268.3 86.6 268.4 101.8 268.4 101.8 268.5 90.0 268.6 76.9 268.6 101.8 268.7 82.9 268.8 85.9 268.8 75.1 268.9 101.8 268.9 79.8 269.0 101.8 269.1 100.5 269.1 87.9 269.2 74.1 269.3 101.8 269.3 101.8 269.4 79.0 269.4 101.8 269.5 90.2 269.6 87.2 269.6 86.0 269.7 89.1 269.8 84.6 269.8 83.7 269.9 81.0 270.0 94.5 270.0 101.8 270.1 101.8 270.1 82.5 270.2 87.7 270.3 82.7 270.3 82.8 270.4 77.8 270.5 85.2 270.5 81.6 270.6 101.8 270.6 101.8 270.7 92.1 270.8 101.8 270.8 82.0 270.9 101.8 271.0 86.7 271.0 101.8 271.1 101.8 271.1 93.1 271.2 91.4 271.3 101.8 271.3 86.4 271.4 80.7 271.5 82.4 271.5 101.8 271.6 101.8 271.6 101.8 271.7 82.5 271.8 78.8 271.8 101.3 271.9 101.8 272.0 85.7 272.0 82.1 272.1 101.8 272.1 86.4 272.2 76.6 272.3 81.6 272.3 83.1 272.4 84.2 272.5 80.4 272.5 101.8 272.6 101.8 272.6 84.2 272.7 101.8 272.8 85.4 272.8 101.8 272.9 82.0 273.0 81.6 273.0 87.6 273.1 86.4 273.1 78.4 273.2 101.8 273.3 101.8 273.3 101.8 273.4 97.9 273.5 101.8 273.5 87.9 273.6 101.8 273.6 101.8 273.7 101.8 273.8 80.0 273.8 89.4 273.9 92.2 274.0 88.1 274.0 89.7 274.1 82.2 274.1 83.4 274.2 101.8 274.3 101.8 274.3 101.8 274.4 101.8 274.5 79.3 274.5 101.8 274.6 101.8 274.6 101.8 274.7 101.8 274.8 85.3 274.8 101.8 274.9 83.7 275.0 84.8 275.0 79.9 275.1 76.9 275.1 75.2 275.2 79.6 275.3 101.8 275.3 99.2 275.4 86.2 275.5 77.2 275.5 82.9 275.6 80.2 275.7 92.0 275.7 83.5 275.8 82.7 275.8 101.8 275.9 82.4 276.0 80.9 276.0 91.9 276.1 81.2 276.2 78.6 276.2 88.4 276.3 89.3 276.3 96.1 276.4 101.8 276.5 87.4 276.5 101.4 276.6 96.4 276.7 101.8 276.7 101.8 276.8 101.8 276.8 85.7 276.9 101.8 277.0 101.8 277.0 78.7 277.1 80.8 277.2 101.8 277.2 83.7 277.3 101.8 277.3 78.8 277.4 101.8 277.5 88.6 277.5 79.7 277.6 101.8 277.7 80.1 277.7 101.8 277.8 86.8 277.8 96.8 277.9 91.4 278.0 87.7 278.0 91.1 278.1 101.8 278.2 82.2 278.2 83.1 278.3 80.2 278.3 79.8 278.4 101.8 278.5 80.2 278.5 80.2 278.6 101.8 278.7 81.4 278.7 79.5 278.8 101.8 278.8 101.8 278.9 101.4 279.0 75.6 279.0 87.1 279.1 101.8 279.2 96.3 279.2 101.8 279.3 101.8 279.3 88.9 279.4 101.8 279.5 86.0 279.5 79.8 279.6 94.7 279.7 101.8 279.7 81.2 279.8 101.8 279.8 101.8 279.9 101.8 280.0 93.8 280.0 85.8 280.1 92.3 280.2 84.6 280.2 82.7 280.3 85.0 280.3 101.8 280.4 97.9 280.5 80.6 280.5 101.8 280.6 97.4 280.7 101.8 280.7 94.9 280.8 101.8 280.8 101.8 280.9 76.3 281.0 82.1 281.0 101.8 281.1 92.1 281.2 83.8 281.2 101.8 281.3 84.3 281.4 101.8 281.4 101.8 281.5 92.8 281.5 101.8 281.6 101.8 281.7 90.8 281.7 87.5 281.8 85.4 281.9 101.8 281.9 86.7 282.0 88.1 282.0 101.8 282.1 101.8 282.2 85.5 282.2 101.8 282.3 82.0 282.4 77.6 282.4 101.8 282.5 101.8 282.5 91.7 282.6 84.0 282.7 101.8 282.7 80.8 282.8 82.1 282.9 84.2 282.9 101.8 283.0 82.6 283.0 82.9 283.1 101.8 283.2 77.8 283.2 101.8 283.3 86.9 283.4 101.8 283.4 86.8 283.5 81.5 283.5 101.8 283.6 101.8 283.7 101.8 283.7 101.8 283.8 101.8 283.9 97.0 283.9 95.1 284.0 81.1 284.0 101.8 284.1 87.9 284.2 101.8 284.2 80.9 284.3 76.9 284.4 88.7 284.4 79.7 284.5 101.8 284.5 101.8 284.6 101.8 284.7 101.8 284.7 101.8 284.8 101.8 284.9 82.2 284.9 85.2 285.0 87.4 285.0 101.8 285.1 101.8 285.2 94.8 285.2 92.4 285.3 90.3 285.4 88.7 285.4 101.8 285.5 101.8 285.5 101.8 285.6 101.8 285.7 80.0 285.7 101.8 285.8 85.8 285.9 81.0 285.9 89.7 286.0 101.8 286.0 101.8 286.1 101.8 286.2 90.3 286.2 82.8 286.3 87.1 286.4 85.3 286.4 85.7 286.5 79.0 286.6 101.8 286.6 93.5 286.7 86.0 286.7 82.3 286.8 101.8 286.9 101.8 286.9 101.8 287.0 101.8 287.1 84.9 287.1 92.6 287.2 101.8 287.2 101.8 287.3 101.8 287.4 101.8 287.4 88.9 287.5 101.8 287.6 101.8 287.6 101.8 287.7 101.8 287.7 80.5 287.8 77.7 287.9 101.8 287.9 84.5 288.0 81.8 288.1 82.4 288.1 101.8 288.2 101.8 288.2 101.8 288.3 101.8 288.4 93.0 288.4 85.9 288.5 101.8 288.6 101.8 288.6 92.0 288.7 82.7 288.7 82.0 288.8 85.8 288.9 101.8 288.9 101.8 289.0 83.0 289.1 101.8 289.1 101.8 289.2 81.2 289.2 96.8 289.3 101.8 289.4 101.8 289.4 87.4 289.5 101.8 289.6 83.3 289.6 82.6 289.7 101.8 289.7 101.8 289.8 101.8 289.9 101.8 289.9 91.0 290.0 101.8 290.1 86.1 290.1 101.8 290.2 101.8 290.2 80.1 290.3 101.8 290.4 101.8 290.4 101.8 290.5 101.8 290.6 101.8 290.6 101.8 290.7 101.8 290.7 101.8 290.8 91.5 290.9 87.0 290.9 89.9 291.0 101.8 291.1 91.0 291.1 101.8 291.2 101.8 291.2 101.8 291.3 87.4 291.4 101.8 291.4 80.7 291.5 87.8 291.6 101.8 291.6 101.8 291.7 83.6 291.7 101.8 291.8 87.3 291.9 101.8 291.9 79.2 292.0 101.0 292.1 81.6 292.1 82.6 292.2 101.8 292.3 101.8 292.3 81.8 292.4 101.8 292.4 101.8 292.5 83.3 292.6 77.7 292.6 101.8 292.7 82.2 292.8 101.8 292.8 82.4 292.9 101.8 292.9 82.5 293.0 88.7 293.1 101.8 293.1 93.9 293.2 101.8 293.3 101.8 293.3 101.8 293.4 101.8 293.4 101.8 293.5 89.9 293.6 88.6 293.6 89.4 293.7 101.8 293.8 99.6 293.8 101.8 293.9 82.4 293.9 101.8 294.0 101.8 294.1 101.8 294.1 101.8 294.2 101.8 294.3 101.8 294.3 84.2 294.4 101.8 294.4 84.9 294.5 79.3 294.6 82.6 294.6 101.8 294.7 86.0 294.8 89.2 294.8 88.4 294.9 101.8 294.9 86.2 295.0 101.8 295.1 82.5 295.1 83.9 295.2 77.7 295.3 101.8 295.3 101.8 295.4 84.0 295.4 85.3 295.5 101.8 295.6 82.2 295.6 86.9 295.7 101.8 295.8 101.8 295.8 101.8 295.9 101.8 295.9 94.8 296.0 101.8 296.1 101.8 296.1 88.0 296.2 101.8 296.3 101.8 296.3 101.8 296.4 101.8 296.4 101.8 296.5 95.9 296.6 101.8 296.6 97.9 296.7 101.8 296.8 85.0 296.8 93.8 296.9 101.8 296.9 93.8 297.0 101.8 297.1 80.3 297.1 89.3 297.2 101.8 297.3 94.1 297.3 101.8 297.4 83.2 297.4 91.3 297.5 88.9 297.6 101.8 297.6 86.0 297.7 79.2 297.8 87.5 297.8 101.8 297.9 95.7 298.0 101.8 298.0 95.0 298.1 101.8 298.1 100.9 298.2 101.8 298.3 101.8 298.3 88.1 298.4 101.8 298.5 101.8 298.5 101.8 298.6 80.1 298.6 79.6 298.7 85.6 298.8 79.9 298.8 88.0 298.9 88.6 299.0 101.8 299.0 101.8 299.1 96.9 299.1 101.8 299.2 101.8 299.3 86.6 299.3 101.8 299.4 101.8 299.5 101.8 299.5 101.8 299.6 101.8 299.6 101.8 299.7 83.2 299.8 79.9 299.8 101.8 299.9 87.4 300.0 88.0 300.0 101.8 300.1 98.2 300.1 82.0 300.2 85.6 300.3 81.0 300.3 101.8 300.4 101.8 300.5 92.7 300.5 91.5 300.6 101.8 300.6 101.8 300.7 101.8 300.8 101.8 300.8 90.0 300.9 101.8 301.0 81.2 301.0 101.8 301.1 101.8 301.1 88.8 301.2 101.8 301.3 91.1 301.3 101.8 301.4 88.3 301.5 86.3 301.5 82.8 301.6 101.8 301.6 101.8 301.7 101.8 301.8 101.8 301.8 88.3 301.9 98.1 302.0 101.8 302.0 83.3 302.1 82.4 302.1 101.8 302.2 88.6 302.3 83.1 302.3 85.9 302.4 101.8 302.5 101.8 302.5 101.8 302.6 101.8 302.6 101.8 302.7 101.8 302.8 89.3 302.8 101.8 302.9 101.8 303.0 76.7 303.0 101.8 303.1 86.9 303.2 93.5 303.2 95.4 303.3 101.8 303.3 89.3 303.4 101.8 303.5 86.2 303.5 79.5 303.6 96.6 303.7 86.7 303.7 101.8 303.8 99.5 303.8 81.6 303.9 101.8 304.0 101.8 304.0 95.9 304.1 101.8 304.2 101.8 304.2 101.8 304.3 79.7 304.3 101.8 304.4 101.8 304.5 101.8 304.5 83.2 304.6 101.8 304.7 82.8 304.7 97.4 304.8 101.8 304.8 101.8 304.9 83.4 305.0 89.2 305.0 91.3 305.1 101.8 305.2 101.8 305.2 101.8 305.3 85.2 305.3 94.2 305.4 101.8 305.5 101.8 305.5 99.7 305.6 101.8 305.7 81.1 305.7 86.7 305.8 101.8 305.8 101.8 305.9 101.8 306.0 101.8 306.0 101.8 306.1 91.3 306.2 88.1 306.2 91.1 306.3 101.8 306.3 88.5 306.4 101.8 306.5 101.8 306.5 86.3 306.6 93.6 306.7 101.8 306.7 101.8 306.8 101.8 306.8 80.4 306.9 101.8 307.0 101.8 307.0 80.3 307.1 84.2 307.2 82.7 307.2 101.8 307.3 86.9 307.3 76.6 307.4 101.8 307.5 91.0 307.5 101.8 307.6 101.8 307.7 91.6 307.7 82.3 307.8 101.8 307.8 101.8 307.9 101.8 308.0 95.6 308.0 82.2 308.1 87.1 308.2 101.8 308.2 88.7 308.3 83.9 308.3 93.4 308.4 101.8 308.5 87.5 308.5 101.8 308.6 101.8" fill="none" stroke="#ff0a84" stroke-width="0.6" stroke-linejoin="bevel"/>
<clipPath id="k2"><rect x="181.2" y="5.6" width="127.40" height="93.20"/></clipPath>
<path clip-path="url(#k2)" d="M181.0 87.1 181.1 101.8 181.1 94.1 181.2 101.8 181.3 101.8 181.3 100.9 181.4 101.8 181.4 101.2 181.5 101.8 181.6 84.2 181.6 95.6 181.7 101.8 181.8 101.8 181.8 101.8 181.9 101.8 181.9 101.8 182.0 93.6 182.1 101.3 182.1 91.0 182.2 100.6 182.3 97.5 182.3 88.7 182.4 93.2 182.4 101.8 182.5 100.3 182.6 93.3 182.6 87.4 182.7 101.8 182.8 101.4 182.8 90.8 182.9 101.8 182.9 101.8 183.0 91.4 183.1 93.0 183.1 96.8 183.2 92.5 183.3 101.8 183.3 90.7 183.4 101.8 183.4 101.8 183.5 95.1 183.6 92.3 183.6 101.8 183.7 101.8 183.8 97.5 183.8 98.5 183.9 89.2 183.9 92.1 184.0 95.9 184.1 90.3 184.1 100.7 184.2 101.8 184.3 93.0 184.3 93.0 184.4 100.9 184.4 101.8 184.5 95.5 184.6 101.8 184.6 92.4 184.7 93.6 184.8 101.8 184.8 97.1 184.9 101.8 184.9 92.0 185.0 101.8 185.1 101.8 185.1 92.3 185.2 90.1 185.3 101.8 185.3 101.8 185.4 94.7 185.4 101.8 185.5 88.5 185.6 101.8 185.6 94.5 185.7 101.8 185.8 89.2 185.8 98.1 185.9 101.8 185.9 101.8 186.0 88.2 186.1 92.0 186.1 92.0 186.2 90.2 186.3 94.6 186.3 101.8 186.4 101.8 186.4 101.8 186.5 89.3 186.6 101.8 186.6 101.8 186.7 101.8 186.8 95.6 186.8 93.0 186.9 101.8 187.0 101.8 187.0 97.9 187.1 89.9 187.1 92.0 187.2 95.7 187.3 101.8 187.3 95.0 187.4 101.4 187.5 91.7 187.5 101.8 187.6 96.4 187.6 99.2 187.7 93.2 187.8 95.6 187.8 85.8 187.9 88.8 188.0 88.8 188.0 101.8 188.1 101.8 188.1 101.8 188.2 93.3 188.3 101.8 188.3 90.1 188.4 90.5 188.5 101.8 188.5 101.8 188.6 101.8 188.6 97.3 188.7 92.7 188.8 87.1 188.8 100.6 188.9 91.9 189.0 96.2 189.0 88.0 189.1 92.1 189.1 89.3 189.2 101.8 189.3 100.5 189.3 101.8 189.4 88.8 189.5 92.6 189.5 101.8 189.6 101.8 189.6 93.6 189.7 101.8 189.8 101.8 189.8 93.6 189.9 86.0 190.0 101.4 190.0 101.8 190.1 101.8 190.1 101.8 190.2 93.4 190.3 91.5 190.3 97.7 190.4 94.7 190.5 96.6 190.5 96.4 190.6 101.8 190.6 101.8 190.7 96.6 190.8 101.8 190.8 101.8 190.9 101.8 191.0 101.8 191.0 91.5 191.1 101.8 191.1 99.9 191.2 91.7 191.3 92.6 191.3 88.2 191.4 101.8 191.5 91.5 191.5 101.8 M191.5 5.8 191.6 40.8 191.6 41.9 191.7 43.0 191.8 44.3 191.8 45.1 191.9 46.7 192.0 47.8 192.0 48.6 192.1 50.2 192.2 50.3 192.2 51.8 192.3 52.4 192.3 54.2 192.4 54.8 192.5 54.9 192.5 55.0 192.6 56.1 192.7 56.0 192.7 56.6 192.8 56.1 192.8 57.9 192.9 57.2 193.0 58.7 193.0 59.4 193.1 59.6 193.2 60.4 193.2 59.8 193.3 59.5 193.3 60.6 193.4 60.6 193.5 60.2 193.5 61.7 193.6 62.1 193.7 63.0 193.7 64.8 193.8 62.8 193.8 65.6 193.9 63.3 194.0 64.1 194.0 63.3 194.1 64.6 194.2 65.7 194.2 64.6 194.3 65.8 194.3 65.6 194.4 65.5 194.5 66.0 194.5 66.2 194.6 67.3 194.7 66.7 194.7 69.8 194.8 67.1 194.8 68.7 194.9 66.0 195.0 66.0 195.0 70.8 195.1 67.6 195.2 68.1 195.2 69.5 195.3 67.4 195.3 68.8 195.4 71.1 195.5 68.7 195.5 68.7 195.6 68.4 195.7 70.6 195.7 67.9 195.8 67.9 195.8 70.8 195.9 70.0 196.0 69.3 196.0 70.1 196.1 67.2 196.2 69.1 196.2 71.2 196.3 70.9 196.3 69.8 196.4 67.0 196.5 70.2 196.5 69.8 196.6 69.3 196.7 70.2 196.7 67.4 196.8 71.2 196.8 69.4 196.9 70.3 197.0 69.7 197.0 72.9 197.1 68.4 197.2 71.1 197.2 71.0 197.3 72.8 197.3 72.5 197.4 70.4 197.5 69.9 197.5 70.3 197.6 69.8 197.7 70.6 197.7 71.7 197.8 70.6 197.9 71.0 197.9 72.3 198.0 71.0 198.0 70.3 198.1 72.0 198.2 73.1 198.2 71.4 198.3 69.8 198.4 73.1 198.4 73.0 198.5 73.2 198.5 71.0 198.6 77.8 198.7 72.6 198.7 71.3 198.8 75.2 198.9 71.1 198.9 72.6 199.0 74.9 199.0 73.4 199.1 77.8 199.2 75.2 199.2 71.1 199.3 76.3 199.4 71.2 199.4 74.5 199.5 72.6 199.5 74.5 199.6 82.1 199.7 76.1 199.7 74.4 199.8 77.9 199.9 78.7 199.9 74.4 200.0 76.8 200.0 80.5 200.1 77.1 200.2 73.8 200.2 76.7 200.3 73.7 200.4 72.7 200.4 75.5 200.5 78.8 200.5 79.4 200.6 75.8 200.7 74.0 200.7 75.2 200.8 74.6 200.9 76.9 200.9 75.2 201.0 77.1 201.0 76.7 201.1 79.8 201.2 81.0 201.2 77.3 201.3 79.3 201.4 78.8 201.4 74.7 201.5 76.4 201.5 71.3 201.6 74.3 201.7 78.0 201.7 74.7 201.8 75.5 201.9 78.2 201.9 74.1 202.0 78.6 202.0 101.8 202.1 74.8 202.2 78.2 202.2 73.6 202.3 78.4 202.4 80.3 202.4 73.6 202.5 80.0 202.5 76.3 202.6 73.9 202.7 76.5 202.7 77.0 202.8 76.6 202.9 75.1 202.9 79.3 203.0 75.6 203.0 75.7 203.1 72.7 203.2 78.0 203.2 79.9 203.3 75.5 203.4 78.3 203.4 76.5 203.5 76.9 203.6 74.8 203.6 79.2 203.7 77.6 203.7 93.1 203.8 80.1 203.9 74.3 203.9 79.5 204.0 79.6 204.1 81.7 204.1 76.2 204.2 77.2 204.2 81.7 204.3 76.1 204.4 77.1 204.4 76.0 204.5 79.7 204.6 74.2 204.6 76.8 204.7 78.2 204.7 79.4 204.8 78.6 204.9 76.0 204.9 78.8 205.0 75.6 205.1 76.6 205.1 75.1 205.2 76.2 205.2 78.3 205.3 87.2 205.4 77.5 205.4 76.4 205.5 77.9 205.6 76.9 205.6 79.8 205.7 79.5 205.7 81.6 205.8 75.4 205.9 78.1 205.9 80.0 206.0 83.7 206.1 79.0 206.1 75.4 206.2 77.4 206.2 81.1 206.3 75.5 206.4 75.5 206.4 76.4 206.5 76.8 206.6 76.1 206.6 77.4 206.7 76.9 206.7 81.6 206.8 75.5 206.9 78.3 206.9 74.7 207.0 91.0 207.1 77.3 207.1 76.7 207.2 80.2 207.2 78.0 207.3 77.3 207.4 77.7 207.4 81.1 207.5 79.7 207.6 76.8 207.6 76.3 207.7 79.1 207.7 79.2 207.8 78.9 207.9 76.9 207.9 83.7 208.0 85.4 208.1 79.2 208.1 84.1 208.2 81.7 208.2 79.4 208.3 78.4 208.4 84.1 208.4 77.6 208.5 89.7 208.6 78.3 208.6 87.9 208.7 85.6 208.8 78.2 208.8 81.4 208.9 83.0 208.9 81.6 209.0 78.7 209.1 80.3 209.1 80.2 209.2 77.4 209.3 82.9 209.3 81.9 209.4 82.2 209.4 77.3 209.5 77.7 209.6 77.1 209.6 80.5 209.7 80.9 209.8 78.1 209.8 81.9 209.9 78.2 209.9 78.5 210.0 83.3 210.1 80.9 210.1 81.0 210.2 76.4 210.3 75.0 210.3 81.1 210.4 80.7 210.4 101.8 210.5 80.2 210.6 80.9 210.6 85.9 210.7 78.7 210.8 90.3 210.8 81.8 210.9 80.6 210.9 87.4 211.0 78.7 211.1 78.2 211.1 88.9 211.2 89.1 211.3 79.4 211.3 81.4 211.4 87.6 211.4 82.5 211.5 81.8 211.6 82.0 211.6 79.0 211.7 80.3 211.8 77.0 211.8 77.8 211.9 79.5 211.9 78.6 212.0 78.0 212.1 79.6 212.1 88.5 212.2 79.2 212.3 81.6 212.3 77.6 212.4 81.6 212.4 80.3 212.5 80.9 212.6 77.5 212.6 81.4 212.7 83.2 212.8 81.1 212.8 84.0 212.9 81.6 212.9 82.3 213.0 81.3 213.1 77.3 213.1 84.1 213.2 82.3 213.3 83.2 213.3 80.3 213.4 89.4 213.4 85.8 213.5 82.7 213.6 80.8 213.6 82.8 213.7 84.9 213.8 87.2 213.8 81.0 213.9 78.6 213.9 81.7 214.0 82.2 214.1 81.3 214.1 88.1 214.2 84.3 214.3 84.2 214.3 81.9 214.4 83.2 214.5 91.0 214.5 79.6 214.6 78.3 214.6 84.4 214.7 81.8 214.8 82.3 214.8 80.7 214.9 95.9 215.0 78.7 215.0 85.7 215.1 79.5 215.1 83.2 215.2 85.4 215.3 84.2 215.3 80.6 215.4 88.6 215.5 85.4 215.5 86.1 215.6 101.8 215.6 79.6 215.7 81.7 215.8 83.9 215.8 80.0 215.9 89.8 216.0 84.2 216.0 78.8 216.1 80.6 216.1 101.8 216.2 101.8 216.3 91.0 216.3 80.5 216.4 86.5 216.5 85.2 216.5 81.9 216.6 89.7 216.6 83.4 216.7 81.4 216.8 82.5 216.8 82.8 216.9 87.7 217.0 82.4 217.0 86.6 217.1 80.1 217.1 77.5 217.2 88.9 217.3 101.8 217.3 86.8 217.4 83.1 217.5 80.9 217.5 80.9 217.6 89.6 217.6 89.7 217.7 80.5 217.8 93.2 217.8 81.0 217.9 86.0 218.0 82.0 218.0 82.2 218.1 82.0 218.1 81.9 218.2 92.3 218.3 83.8 218.3 85.0 218.4 83.8 218.5 80.8 218.5 86.6 218.6 89.7 218.6 89.9 218.7 86.9 218.8 82.3 218.8 90.9 218.9 81.2 219.0 84.1 219.0 86.6 219.1 100.6 219.1 84.4 219.2 82.7 219.3 101.8 219.3 81.2 219.4 80.1 219.5 84.1 219.5 83.5 219.6 78.5 219.6 81.2 219.7 92.6 219.8 85.9 219.8 86.6 219.9 86.6 220.0 101.8 220.0 82.8 220.1 90.2 220.2 85.2 220.2 86.7 220.3 82.5 220.3 87.7 220.4 92.0 220.5 83.8 220.5 81.1 220.6 88.0 220.7 81.2 220.7 85.0 220.8 89.7 220.8 80.9 220.9 92.7 221.0 82.3 221.0 89.6 221.1 84.3 221.2 101.8 221.2 93.3 221.3 82.3 221.3 85.6 221.4 86.4 221.5 89.4 221.5 84.5 221.6 101.8 221.7 99.2 221.7 87.6 221.8 93.8 221.8 92.2 221.9 87.2 222.0 87.6 222.0 88.2 222.1 80.9 222.2 82.7 222.2 82.1 222.3 87.2 222.3 90.6 222.4 101.8 222.5 89.4 222.5 101.8 222.6 91.5 222.7 83.8 222.7 81.2 222.8 83.1 222.8 95.3 222.9 84.9 223.0 94.3 223.0 83.7 223.1 88.1 223.2 83.6 223.2 79.2 223.3 83.4 223.3 79.8 223.4 86.6 223.5 89.8 223.5 82.2 223.6 81.2 223.7 92.0 223.7 87.3 223.8 101.8 223.8 89.1 223.9 83.8 224.0 88.4 224.0 92.4 224.1 101.8 224.2 86.0 224.2 84.2 224.3 85.0 224.3 86.6 224.4 101.8 224.5 81.4 224.5 88.4 224.6 89.1 224.7 84.6 224.7 101.8 224.8 88.6 224.8 89.1 224.9 86.2 225.0 82.6 225.0 85.8 225.1 101.8 225.2 90.8 225.2 87.2 225.3 87.5 225.3 101.8 225.4 101.8 225.5 85.6 225.5 86.6 225.6 88.7 225.7 101.8 225.7 81.6 225.8 101.8 225.9 91.4 225.9 80.9 226.0 89.8 226.0 87.3 226.1 101.8 226.2 82.9 226.2 101.8 226.3 87.3 226.4 88.0 226.4 101.8 226.5 84.5 226.5 101.8 226.6 95.9 226.7 89.1 226.7 92.4 226.8 86.4 226.9 84.5 226.9 91.3 227.0 94.1 227.0 93.8 227.1 92.1 227.2 85.0 227.2 90.8 227.3 86.8 227.4 89.9 227.4 100.4 227.5 84.9 227.5 101.8 227.6 89.3 227.7 82.9 227.7 101.8 227.8 89.8 227.9 101.8 227.9 94.3 228.0 101.8 228.0 92.6 228.1 94.8 228.2 88.7 228.2 82.8 228.3 87.8 228.4 86.0 228.4 90.0 228.5 91.7 228.5 101.7 228.6 101.8 228.7 89.3 228.7 82.7 228.8 87.0 228.9 95.3 228.9 82.7 229.0 94.0 229.0 96.8 229.1 101.8 229.2 101.8 229.2 92.1 229.3 81.9 229.4 91.8 229.4 101.8 229.5 97.0 229.5 92.0 229.6 101.8 229.7 89.3 229.7 86.2 229.8 88.2 229.9 86.7 229.9 101.8 230.0 101.8 230.0 84.1 230.1 84.8 230.2 101.8 230.2 89.0 230.3 90.3 230.4 87.2 230.4 89.1 230.5 96.0 230.5 89.2 230.6 89.5 230.7 91.0 230.7 101.8 230.8 101.8 230.9 101.8 230.9 101.8 231.0 89.0 231.1 86.6 231.1 89.0 231.2 94.6 231.2 90.4 231.3 84.9 231.4 101.8 231.4 85.8 231.5 86.8 231.6 89.2 231.6 84.0 231.7 101.8 231.7 85.9 231.8 101.8 231.9 101.8 231.9 101.8 232.0 88.3 232.1 101.8 232.1 90.9 232.2 101.8 232.2 85.5 232.3 83.1 232.4 89.8 232.4 83.6 232.5 87.8 232.6 82.3 232.6 90.8 232.7 101.8 232.7 84.2 232.8 92.9 232.9 101.8 232.9 101.8 233.0 101.8 233.1 93.4 233.1 101.8 233.2 84.3 233.2 87.6 233.3 101.8 233.4 101.8 233.4 100.4 233.5 101.8 233.6 93.1 233.6 92.5 233.7 101.8 233.7 100.2 233.8 88.6 233.9 84.7 233.9 84.5 234.0 92.0 234.1 86.9 234.1 101.8 234.2 89.3 234.2 101.8 234.3 87.6 234.4 101.8 234.4 101.8 234.5 92.6 234.6 88.6 234.6 101.8 234.7 101.1 234.7 91.5 234.8 90.8 234.9 101.8 234.9 91.9 235.0 95.9 235.1 85.1 235.1 88.8 235.2 101.8 235.2 101.8 235.3 92.0 235.4 86.0 235.4 91.5 235.5 87.3 235.6 100.7 235.6 101.8 235.7 87.9 235.7 92.2 235.8 88.3 235.9 101.8 235.9 91.6 236.0 101.8 236.1 87.8 236.1 101.8 236.2 101.8 236.2 101.8 236.3 85.9 236.4 93.2 236.4 101.8 236.5 101.8 236.6 101.8 236.6 85.3 236.7 101.8 236.8 101.8 236.8 88.9 236.9 86.4 236.9 95.5 237.0 88.2 237.1 88.3 237.1 87.2 237.2 93.4 237.3 84.8 237.3 91.9 237.4 85.2 237.4 101.8 237.5 87.5 237.6 101.8 237.6 101.8 237.7 89.8 237.8 101.8 237.8 90.2 237.9 101.8 237.9 85.0 238.0 93.8 238.1 101.8 238.1 92.2 238.2 87.8 238.3 101.8 238.3 89.8 238.4 83.7 238.4 87.9 238.5 94.1 238.6 101.8 238.6 89.5 238.7 101.8 238.8 101.8 238.8 101.8 238.9 101.8 238.9 84.7 239.0 92.7 239.1 101.8 239.1 101.8 239.2 90.1 239.3 101.8 239.3 101.8 239.4 95.3 239.4 93.3 239.5 93.3 239.6 93.1 239.6 86.3 239.7 84.9 239.8 101.8 239.8 82.6 239.9 93.1 239.9 86.6 240.0 101.8 240.1 91.5 240.1 92.4 240.2 93.3 240.3 88.4 240.3 89.5 240.4 101.8 240.4 96.0 240.5 89.0 240.6 89.3 240.6 100.0 240.7 98.9 240.8 96.7 240.8 101.8 240.9 101.8 240.9 85.6 241.0 101.8 241.1 93.8 241.1 101.8 241.2 86.6 241.3 85.1 241.3 98.1 241.4 90.6 241.4 101.8 241.5 85.1 241.6 88.3 241.6 101.8 241.7 86.9 241.8 91.8 241.8 91.4 241.9 91.8 241.9 101.8 242.0 101.8 242.1 90.1 242.1 96.0 242.2 101.8 242.3 84.4 242.3 98.6 242.4 101.8 242.5 101.8 242.5 89.8 242.6 88.3 242.6 93.0 242.7 88.9 242.8 101.8 242.8 101.8 242.9 101.8 243.0 95.7 243.0 91.3 243.1 101.8 243.1 82.0 243.2 101.8 243.3 92.4 243.3 89.3 243.4 89.2 243.5 93.4 243.5 101.8 243.6 101.8 243.6 89.8 243.7 101.8 243.8 101.8 243.8 101.8 243.9 87.6 244.0 91.5 244.0 101.8 244.1 98.8 244.1 98.3 244.2 101.8 244.3 101.8 244.3 93.9 244.4 91.4 244.5 87.6 244.5 96.6 244.6 101.8 244.6 92.7 244.7 101.8 244.8 101.8 244.8 88.3 244.9 101.8 245.0 95.7 245.0 91.0 245.1 101.8 245.1 91.1 245.2 92.5 245.3 99.3 245.3 93.0 245.4 101.8 245.5 101.8 245.5 101.8 245.6 101.8 245.6 89.8 245.7 94.4 245.8 101.8 245.8 97.1 245.9 87.6 246.0 88.5 246.0 93.5 246.1 92.9 246.1 101.8 246.2 100.6 246.3 91.8 246.3 100.4 246.4 94.3 246.5 101.8 246.5 101.8 246.6 101.8 246.6 101.8 246.7 87.8 246.8 88.5 246.8 101.8 246.9 101.8 247.0 90.6 247.0 93.0 247.1 101.8 247.1 89.2 247.2 95.9 247.3 87.9 247.3 94.1 247.4 90.1 247.5 94.4 247.5 101.8 247.6 101.8 247.7 101.8 247.7 90.5 247.8 101.8 247.8 101.8 247.9 91.5 248.0 88.9 248.0 87.6 248.1 89.2 248.2 101.8 248.2 101.8 248.3 101.8 248.3 99.6 248.4 101.8 248.5 99.4 248.5 95.2 248.6 101.8 248.7 97.3 248.7 88.8 248.8 98.5 248.8 89.5 248.9 89.7 249.0 94.0 249.0 94.3 249.1 101.8 249.2 88.6 249.2 101.8 249.3 101.8 249.3 91.7 249.4 101.8 249.5 94.0 249.5 89.6 249.6 98.3 249.7 97.9 249.7 90.4 249.8 91.4 249.8 101.8 249.9 101.8 250.0 88.4 250.0 94.4 250.1 101.8 250.2 101.8 250.2 99.5 250.3 101.8 250.3 93.7 250.4 98.5 250.5 93.6 250.5 101.8 250.6 92.5 250.7 86.1 250.7 101.8 250.8 88.5 250.8 90.2 250.9 92.4 251.0 101.8 251.0 101.8 251.1 101.8 251.2 91.6 251.2 90.3 251.3 89.0 251.3 90.4 251.4 90.7 251.5 101.8 251.5 101.8 251.6 96.9 251.7 93.7 251.7 98.8 251.8 101.8 251.8 101.8 251.9 101.8 252.0 97.9 252.0 101.8 252.1 101.8 252.2 95.6 252.2 98.1 252.3 88.5 252.3 101.8 252.4 101.8 252.5 90.7 252.5 88.4 252.6 88.2 252.7 96.2 252.7 93.6 252.8 98.5 252.8 101.8 252.9 101.8 253.0 94.0 253.0 101.8 253.1 86.5 253.2 101.8 253.2 101.8 253.3 89.8 253.4 101.8 253.4 101.8 253.5 101.8 253.5 101.8 253.6 88.0 253.7 95.0 253.7 93.9 253.8 101.8 253.9 91.5 253.9 99.1 254.0 101.8 254.0 101.8 254.1 97.6 254.2 89.6 254.2 101.8 254.3 94.2 254.4 86.3 254.4 101.8 254.5 101.8 254.5 90.7 254.6 94.8 254.7 101.8 254.7 96.9 254.8 101.8 254.9 94.1 254.9 101.8 255.0 91.9 255.0 101.8 255.1 101.8 255.2 99.3 255.2 101.8 255.3 92.7 255.4 101.8 255.4 101.8 255.5 97.8 255.5 101.8 255.6 101.8 255.7 101.8 255.7 101.8 255.8 101.8 255.9 99.8 255.9 91.3 256.0 94.0 256.0 87.2 256.1 89.3 256.2 101.8 256.2 87.7 256.3 89.8 256.4 101.8 256.4 96.6 256.5 90.3 256.5 97.5 256.6 90.7 256.7 95.6 256.7 92.8 256.8 101.8 256.9 95.8 256.9 101.8 257.0 93.0 257.0 101.8 257.1 96.4 257.2 89.5 257.2 93.9 257.3 101.8 257.4 94.3 257.4 101.8 257.5 101.8 257.5 101.8 257.6 101.8 257.7 91.1 257.7 101.8 257.8 91.0 257.9 101.8 257.9 101.8 258.0 101.8 258.0 90.1 258.1 101.8 258.2 101.8 258.2 95.6 258.3 101.8 258.4 101.8 258.4 101.8 258.5 101.8 258.5 100.5 258.6 93.4 258.7 101.8 258.7 85.8 258.8 101.8 258.9 101.8 258.9 93.4 259.0 100.4 259.1 85.7 259.1 90.6 259.2 101.8 259.2 101.8 259.3 101.8 259.4 101.8 259.4 93.4 259.5 101.8 259.6 88.2 259.6 101.8 259.7 101.8 259.7 91.5 259.8 101.8 259.9 101.8 259.9 94.2 260.0 101.8 260.1 101.8 260.1 96.3 260.2 101.8 260.2 101.8 260.3 101.8 260.4 101.8 260.4 89.8 260.5 101.8 260.6 101.8 260.6 89.2 260.7 90.9 260.7 101.8 260.8 101.8 260.9 101.8 260.9 101.8 261.0 94.7 261.1 100.2 261.1 100.6 261.2 93.0 261.2 93.3 261.3 87.4 261.4 88.7 261.4 101.8 261.5 92.0 261.6 101.8 261.6 101.8 261.7 93.3 261.7 101.8 261.8 101.8 261.9 90.9 261.9 101.8 262.0 101.8 262.1 97.3 262.1 90.1 262.2 95.0 262.2 101.8 262.3 101.8 262.4 101.8 262.4 87.1 262.5 92.0 262.6 92.3 262.6 90.2 262.7 101.8 262.7 95.5 262.8 95.4 262.9 101.8 262.9 101.8 263.0 94.7 263.1 101.8 263.1 92.6 263.2 93.0 263.2 91.2 263.3 101.8 263.4 101.2 263.4 89.0 263.5 92.8 263.6 101.8 263.6 98.9 263.7 89.2 263.7 101.8 263.8 96.7 263.9 85.2 263.9 101.8 264.0 101.8 264.1 101.8 264.1 101.8 264.2 88.9 264.3 101.8 264.3 101.8 264.4 101.8 264.4 101.8 264.5 93.0 264.6 101.8 264.6 93.5 264.7 101.8 264.8 97.1 264.8 95.2 264.9 94.4 264.9 101.8 265.0 101.8 265.1 95.5 265.1 101.8 265.2 100.3 265.3 95.4 265.3 91.3 265.4 101.8 265.4 101.8 265.5 101.1 265.6 101.8 265.6 101.8 265.7 96.8 265.8 98.6 265.8 101.8 265.9 101.8 265.9 101.8 266.0 93.0 266.1 101.8 266.1 99.5 266.2 101.8 266.3 101.8 266.3 96.5 266.4 91.8 266.4 101.8 266.5 92.8 266.6 101.8 266.6 101.8 266.7 96.2 266.8 101.8 266.8 101.8 266.9 101.8 266.9 100.1 267.0 101.8 267.1 101.8 267.1 101.8 267.2 101.8 267.3 97.2 267.3 90.2 267.4 101.8 267.4 89.5 267.5 101.8 267.6 101.8 267.6 94.7 267.7 101.8 267.8 97.3 267.8 91.4 267.9 101.8 267.9 101.8 268.0 85.7 268.1 99.9 268.1 99.4 268.2 93.4 268.3 101.8 268.3 101.8 268.4 97.6 268.4 101.8 268.5 89.5 268.6 101.8 268.6 101.8 268.7 95.6 268.8 101.8 268.8 101.8 268.9 100.4 268.9 101.8 269.0 101.8 269.1 101.8 269.1 101.8 269.2 97.4 269.3 101.8 269.3 98.7 269.4 92.4 269.4 101.8 269.5 101.8 269.6 101.8 269.6 88.5 269.7 101.8 269.8 98.5 269.8 101.8 269.9 99.8 270.0 96.9 270.0 101.8 270.1 101.8 270.1 101.8 270.2 101.8 270.3 97.3 270.3 93.7 270.4 92.4 270.5 101.8 270.5 101.8 270.6 94.8 270.6 94.9 270.7 101.8 270.8 93.3 270.8 95.2 270.9 88.5 271.0 101.8 271.0 101.8 271.1 93.4 271.1 101.8 271.2 101.8 271.3 101.8 271.3 101.8 271.4 101.8 271.5 101.8 271.5 92.0 271.6 96.8 271.6 96.8 271.7 101.8 271.8 89.4 271.8 95.8 271.9 91.5 272.0 101.8 272.0 98.1 272.1 101.8 272.1 98.0 272.2 100.7 272.3 101.8 272.3 101.1 272.4 90.9 272.5 96.0 272.5 95.1 272.6 101.8 272.6 101.8 272.7 101.8 272.8 101.8 272.8 90.7 272.9 96.8 273.0 101.8 273.0 101.8 273.1 96.7 273.1 101.8 273.2 101.8 273.3 101.8 273.3 101.8 273.4 101.8 273.5 88.5 273.5 101.8 273.6 101.8 273.6 101.8 273.7 88.7 273.8 101.8 273.8 93.4 273.9 96.7 274.0 89.3 274.0 95.6 274.1 101.8 274.1 95.7 274.2 101.8 274.3 92.0 274.3 101.8 274.4 87.2 274.5 101.8 274.5 96.7 274.6 101.8 274.6 101.8 274.7 101.8 274.8 101.0 274.8 92.4 274.9 101.8 275.0 101.8 275.0 91.1 275.1 101.8 275.1 101.8 275.2 90.8 275.3 93.3 275.3 101.8 275.4 101.8 275.5 93.3 275.5 92.9 275.6 101.8 275.7 88.8 275.7 101.8 275.8 101.8 275.8 101.8 275.9 101.8 276.0 93.1 276.0 91.6 276.1 101.8 276.2 89.5 276.2 101.8 276.3 101.8 276.3 88.2 276.4 101.8 276.5 91.3 276.5 101.8 276.6 101.8 276.7 101.8 276.7 100.6 276.8 101.8 276.8 101.8 276.9 94.1 277.0 90.5 277.0 101.8 277.1 94.3 277.2 92.2 277.2 101.8 277.3 101.8 277.3 88.6 277.4 89.9 277.5 101.8 277.5 97.5 277.6 101.8 277.7 101.8 277.7 98.1 277.8 101.8 277.8 92.2 277.9 101.8 278.0 98.5 278.0 87.4 278.1 87.5 278.2 101.8 278.2 91.3 278.3 101.8 278.3 101.8 278.4 97.3 278.5 89.6 278.5 101.8 278.6 95.4 278.7 101.8 278.7 101.8 278.8 101.8 278.8 89.1 278.9 101.8 279.0 95.8 279.0 92.9 279.1 101.8 279.2 90.4 279.2 89.1 279.3 88.7 279.3 90.0 279.4 101.8 279.5 101.8 279.5 101.8 279.6 101.8 279.7 101.8 279.7 91.8 279.8 89.3 279.8 101.8 279.9 93.1 280.0 101.8 280.0 101.8 280.1 101.8 280.2 101.8 280.2 101.8 280.3 101.8 280.3 101.8 280.4 101.8 280.5 101.8 280.5 101.8 280.6 101.8 280.7 99.7 280.7 101.8 280.8 100.0 280.8 95.9 280.9 90.4 281.0 91.5 281.0 100.7 281.1 101.8 281.2 101.8 281.2 101.8 281.3 89.6 281.4 88.5 281.4 101.8 281.5 101.8 281.5 101.8 281.6 101.8 281.7 100.9 281.7 101.8 281.8 101.8 281.9 101.8 281.9 101.8 282.0 101.8 282.0 101.8 282.1 92.6 282.2 101.8 282.2 101.8 282.3 93.5 282.4 101.8 282.4 93.2 282.5 101.8 282.5 96.9 282.6 92.5 282.7 86.5 282.7 93.9 282.8 89.5 282.9 101.8 282.9 101.8 283.0 88.9 283.0 95.2 283.1 89.6 283.2 94.0 283.2 86.8 283.3 86.0 283.4 101.8 283.4 87.7 283.5 96.8 283.5 96.3 283.6 101.8 283.7 93.9 283.7 101.8 283.8 101.8 283.9 101.8 283.9 98.8 284.0 92.3 284.0 93.7 284.1 97.6 284.2 101.8 284.2 101.8 284.3 97.1 284.4 101.5 284.4 97.7 284.5 89.5 284.5 101.8 284.6 101.8 284.7 101.8 284.7 95.3 284.8 101.8 284.9 101.8 284.9 97.3 285.0 101.8 285.0 101.8 285.1 87.3 285.2 93.6 285.2 92.3 285.3 93.6 285.4 94.5 285.4 100.5 285.5 86.3 285.5 101.8 285.6 93.7 285.7 101.8 285.7 101.8 285.8 101.8 285.9 101.8 285.9 89.0 286.0 89.2 286.0 101.8 286.1 101.8 286.2 94.9 286.2 101.8 286.3 88.1 286.4 101.8 286.4 101.8 286.5 101.8 286.6 89.1 286.6 101.8 286.7 88.7 286.7 101.8 286.8 98.2 286.9 101.8 286.9 100.7 287.0 87.0 287.1 86.4 287.1 89.8 287.2 101.8 287.2 92.6 287.3 90.0 287.4 95.5 287.4 95.4 287.5 96.4 287.6 101.8 287.6 99.9 287.7 88.8 287.7 101.8 287.8 101.8 287.9 93.1 287.9 101.8 288.0 101.8 288.1 101.8 288.1 101.8 288.2 101.8 288.2 101.8 288.3 101.8 288.4 101.8 288.4 101.8 288.5 101.8 288.6 88.9 288.6 101.8 288.7 101.8 288.7 101.8 288.8 99.0 288.9 101.8 288.9 101.8 289.0 101.8 289.1 95.9 289.1 101.8 289.2 96.9 289.2 98.4 289.3 101.8 289.4 90.6 289.4 101.8 289.5 101.8 289.6 99.2 289.6 101.8 289.7 101.8 289.7 100.4 289.8 86.2 289.9 100.4 289.9 96.9 290.0 101.8 290.1 90.2 290.1 101.8 290.2 101.8 290.2 101.8 290.3 96.1 290.4 94.0 290.4 101.8 290.5 101.8 290.6 94.9 290.6 91.9 290.7 101.8 290.7 101.8 290.8 93.2 290.9 101.8 290.9 101.8 291.0 101.8 291.1 101.8 291.1 101.8 291.2 99.2 291.2 101.8 291.3 101.8 291.4 91.4 291.4 101.0 291.5 92.4 291.6 101.8 291.6 90.0 291.7 101.8 291.7 87.8 291.8 101.8 291.9 101.8 291.9 101.8 292.0 101.8 292.1 101.8 292.1 101.8 292.2 101.8 292.3 94.7 292.3 92.9 292.4 101.8 292.4 90.7 292.5 101.8 292.6 101.8 292.6 101.8 292.7 95.3 292.8 101.8 292.8 101.8 292.9 90.5 292.9 88.5 293.0 90.1 293.1 101.8 293.1 101.8 293.2 93.3 293.3 101.8 293.3 101.8 293.4 101.8 293.4 101.8 293.5 101.8 293.6 86.9 293.6 94.6 293.7 101.8 293.8 101.8 293.8 97.1 293.9 101.8 293.9 95.7 294.0 101.8 294.1 101.8 294.1 100.6 294.2 101.8 294.3 101.8 294.3 101.8 294.4 101.8 294.4 101.8 294.5 101.8 294.6 101.8 294.6 96.4 294.7 101.8 294.8 89.9 294.8 87.4 294.9 98.5 294.9 101.8 295.0 90.7 295.1 95.0 295.1 101.8 295.2 101.8 295.3 101.8 295.3 101.8 295.4 94.9 295.4 91.1 295.5 101.8 295.6 101.8 295.6 101.3 295.7 101.8 295.8 101.8 295.8 101.8 295.9 101.8 295.9 101.8 296.0 101.8 296.1 87.0 296.1 92.7 296.2 101.8 296.3 101.8 296.3 88.5 296.4 89.0 296.4 101.8 296.5 101.8 296.6 101.8 296.6 101.8 296.7 101.8 296.8 101.8 296.8 88.5 296.9 101.8 296.9 101.8 297.0 98.0 297.1 97.5 297.1 88.7 297.2 101.8 297.3 101.8 297.3 101.8 297.4 101.8 297.4 101.8 297.5 101.8 297.6 91.8 297.6 101.8 297.7 101.8 297.8 89.8 297.8 88.5 297.9 93.2 298.0 101.8 298.0 101.8 298.1 101.8 298.1 101.8 298.2 101.8 298.3 90.6 298.3 101.3 298.4 101.8 298.5 101.8 298.5 101.8 298.6 91.0 298.6 101.8 298.7 100.3 298.8 101.8 298.8 101.8 298.9 101.8 299.0 92.6 299.0 101.8 299.1 85.2 299.1 101.8 299.2 101.8 299.3 95.9 299.3 96.2 299.4 101.8 299.5 101.8 299.5 89.8 299.6 96.2 299.6 98.4 299.7 101.8 299.8 95.4 299.8 101.8 299.9 101.8 300.0 101.8 300.0 90.9 300.1 101.8 300.1 101.8 300.2 91.8 300.3 101.8 300.3 101.8 300.4 101.8 300.5 92.9 300.5 101.8 300.6 97.6 300.6 87.5 300.7 98.7 300.8 101.8 300.8 101.8 300.9 101.8 301.0 101.8 301.0 101.8 301.1 101.8 301.1 101.8 301.2 93.5 301.3 101.8 301.3 89.3 301.4 101.8 301.5 101.8 301.5 95.4 301.6 101.8 301.6 94.9 301.7 101.8 301.8 101.8 301.8 101.8 301.9 101.8 302.0 101.8 302.0 93.1 302.1 101.8 302.1 101.8 302.2 101.8 302.3 101.8 302.3 101.8 302.4 101.8 302.5 101.2 302.5 101.8 302.6 101.8 302.6 101.8 302.7 92.8 302.8 93.9 302.8 101.8 302.9 101.8 303.0 98.6 303.0 90.4 303.1 92.3 303.2 101.8 303.2 100.5 303.3 89.4 303.3 101.8 303.4 96.8 303.5 101.8 303.5 90.4 303.6 101.8 303.7 101.8 303.7 101.8 303.8 101.8 303.8 94.1 303.9 88.9 304.0 101.8 304.0 101.8 304.1 82.7 304.2 92.8 304.2 101.8 304.3 96.6 304.3 101.8 304.4 89.0 304.5 101.8 304.5 101.8 304.6 91.2 304.7 101.8 304.7 101.8 304.8 96.4 304.8 98.0 304.9 101.8 305.0 101.8 305.0 101.8 305.1 101.8 305.2 93.0 305.2 90.4 305.3 97.6 305.3 98.4 305.4 101.8 305.5 101.8 305.5 101.8 305.6 88.4 305.7 101.8 305.7 97.9 305.8 101.8 305.8 101.8 305.9 87.7 306.0 101.8 306.0 101.8 306.1 101.8 306.2 101.8 306.2 101.8 306.3 101.8 306.3 96.0 306.4 101.8 306.5 101.8 306.5 92.0 306.6 101.8 306.7 101.8 306.7 98.6 306.8 97.6 306.8 88.0 306.9 101.8 307.0 93.3 307.0 101.8 307.1 95.4 307.2 101.8 307.2 101.8 307.3 96.7 307.3 101.8 307.4 101.8 307.5 101.8 307.5 101.8 307.6 101.8 307.7 95.0 307.7 101.8 307.8 91.0 307.8 101.8 307.9 101.8 308.0 93.3 308.0 95.5 308.1 101.8 308.2 101.8 308.2 101.8 308.3 101.8 308.3 101.8 308.4 93.4 308.5 101.8 308.5 93.2 308.6 87.6" fill="none" stroke="#08088c" stroke-width="0.6" stroke-linejoin="bevel"/>
<clipPath id="k3"><rect x="181.2" y="5.6" width="127.40" height="93.20"/></clipPath>
<path clip-path="url(#k3)" d="M181.0 101.8 181.1 101.8 181.3 101.8 181.4 101.8 181.6 99.3 181.7 101.8 181.9 101.8 182.0 101.8 182.1 101.8 182.3 101.8 182.4 101.8 182.6 101.8 182.7 101.8 182.9 101.8 183.0 101.8 183.2 101.8 183.3 101.8 183.4 101.8 183.6 101.8 183.7 101.8 183.9 101.8 184.0 101.8 184.2 101.8 184.3 101.8 184.4 101.8 184.6 101.8 184.7 98.4 184.9 101.8 185.0 101.8 185.2 101.8 185.3 101.8 185.4 101.8 185.6 101.8 185.7 101.8 185.9 101.8 186.0 101.8 186.2 101.8 186.3 101.8 186.4 101.8 186.6 101.8 186.7 101.8 186.9 99.3 187.0 101.8 187.2 101.8 187.3 101.8 187.5 101.8 187.6 101.8 187.7 101.6 187.9 101.8 188.0 101.8 188.2 101.8 188.3 101.8 188.5 101.8 188.6 101.8 188.7 101.8 188.9 101.8 189.0 97.3 189.2 101.8 189.3 101.8 189.5 101.8 189.6 101.8 189.7 101.8 189.9 101.8 190.0 101.8 190.2 101.8 190.3 101.8 190.5 101.8 190.6 101.8 190.7 101.8 190.9 101.8 191.0 100.7 191.2 101.8 191.3 101.8 191.5 44.8 191.6 50.3 191.8 53.2 191.9 55.3 192.0 56.0 192.2 58.9 192.3 59.9 192.5 61.5 192.6 63.0 192.8 62.6 192.9 64.5 193.0 66.2 193.2 65.9 193.3 67.2 193.5 66.3 193.6 65.7 193.8 68.5 193.9 66.2 194.0 69.2 194.2 68.5 194.3 70.4 194.5 69.8 194.6 69.9 194.8 71.0 194.9 72.0 195.1 72.4 195.2 73.2 195.3 75.5 195.5 73.1 195.6 72.4 195.8 72.1 195.9 72.9 196.1 70.8 196.2 74.4 196.3 76.6 196.5 72.7 196.6 79.4 196.8 75.0 196.9 80.3 197.1 77.1 197.2 87.2 197.3 76.8 197.5 79.9 197.6 83.4 197.8 76.5 197.9 78.6 198.1 80.9 198.2 84.3 198.3 82.0 198.5 82.8 198.6 80.4 198.8 80.6 198.9 86.3 199.1 86.1 199.2 86.5 199.4 93.8 199.5 87.8 199.6 85.7 199.8 83.2 199.9 81.8 200.1 91.4 200.2 84.6 200.4 89.3 200.5 80.8 200.6 87.5 200.8 85.3 200.9 94.7 201.1 93.5 201.2 87.0 201.4 90.4 201.5 86.7 201.6 101.8 201.8 85.8 201.9 96.5 202.1 83.0 202.2 91.0 202.4 85.0 202.5 101.8 202.6 87.7 202.8 98.5 202.9 93.7 203.1 90.1 203.2 92.6 203.4 89.2 203.5 87.3 203.7 87.8 203.8 91.7 203.9 101.8 204.1 100.3 204.2 93.1 204.4 101.8 204.5 88.2 204.7 94.1 204.8 94.4 204.9 87.9 205.1 89.1 205.2 91.5 205.4 101.8 205.5 91.2 205.7 91.2 205.8 101.8 205.9 88.3 206.1 90.7 206.2 101.8 206.4 93.2 206.5 101.8 206.7 88.5 206.8 89.9 207.0 101.8 207.1 101.8 207.2 94.2 207.4 97.4 207.5 87.8 207.7 90.9 207.8 98.5 208.0 91.9 208.1 101.8 208.2 93.7 208.4 90.8 208.5 98.1 208.7 101.8 208.8 92.6 209.0 87.5 209.1 95.2 209.2 101.8 209.4 89.3 209.5 101.8 209.7 93.7 209.8 101.8 210.0 91.7 210.1 101.8 210.2 90.3 210.4 95.6 210.5 101.8 210.7 101.8 210.8 101.8 211.0 90.9 211.1 97.7 211.3 98.4 211.4 101.8 211.5 93.8 211.7 96.1 211.8 97.0 212.0 101.8 212.1 92.1 212.3 91.5 212.4 101.8 212.5 88.7 212.7 94.7 212.8 101.8 213.0 101.8 213.1 95.4 213.3 96.1 213.4 101.8 213.5 101.8 213.7 93.3 213.8 101.8 214.0 101.8 214.1 88.3 214.3 90.1 214.4 94.5 214.5 101.8 214.7 96.3 214.8 101.8 215.0 101.0 215.1 101.8 215.3 101.8 215.4 101.8 215.6 97.3 215.7 101.4 215.8 100.6 216.0 95.4 216.1 101.8 216.3 101.8 216.4 101.8 216.6 101.8 216.7 96.0 216.8 101.8 217.0 96.8 217.1 101.8 217.3 101.8 217.4 101.8 217.6 101.8 217.7 91.4 217.8 95.7 218.0 101.8 218.1 101.8 218.3 101.8 218.4 101.8 218.6 98.6 218.7 101.8 218.8 101.8 219.0 101.8 219.1 101.8 219.3 101.8 219.4 101.8 219.6 101.8 219.7 101.8 219.9 101.8 220.0 101.8 220.1 93.0 220.3 96.3 220.4 101.8 220.6 96.9 220.7 101.8 220.9 93.4 221.0 98.2 221.1 101.8 221.3 96.8 221.4 96.5 221.6 101.8 221.7 101.8 221.9 101.8 222.0 101.8 222.1 101.8 222.3 101.8 222.4 98.8 222.6 100.6 222.7 90.0 222.9 101.8 223.0 95.0 223.2 101.8 223.3 101.1 223.4 101.8 223.6 101.8 223.7 101.8 223.9 97.2 224.0 93.3 224.2 98.4 224.3 99.2 224.4 101.8 224.6 93.6 224.7 94.4 224.9 101.8 225.0 101.8 225.2 101.8 225.3 94.0 225.4 100.2 225.6 101.8 225.7 100.3 225.9 100.0 226.0 101.8 226.2 101.8 226.3 101.8 226.4 101.8 226.6 100.0 226.7 91.7 226.9 101.8 227.0 101.8 227.2 100.5 227.3 101.8 227.5 101.8 227.6 101.8 227.7 95.5 227.9 101.8 228.0 101.8 228.2 98.5 228.3 101.8 228.5 101.8 228.6 101.8 228.7 98.1 228.9 101.8 229.0 101.8 229.2 101.8 229.3 101.8 229.5 98.4 229.6 101.8 229.7 93.0 229.9 101.8 230.0 101.8 230.2 101.8 230.3 96.1 230.5 101.8 230.6 96.9 230.7 100.8 230.9 94.2 231.0 95.7 231.2 101.8 231.3 101.8 231.5 96.6 231.6 101.8 231.8 95.0 231.9 96.0 232.0 97.3 232.2 101.8 232.3 101.8 232.5 101.8 232.6 101.8 232.8 101.8 232.9 101.8 233.0 101.8 233.2 101.8 233.3 96.4 233.5 101.8 233.6 97.8 233.8 101.8 233.9 101.8 234.0 101.8 234.2 101.8 234.3 101.5 234.5 101.8 234.6 101.8 234.8 101.8 234.9 96.2 235.1 101.8 235.2 100.8 235.3 101.8 235.5 101.8 235.6 101.8 235.8 99.5 235.9 101.8 236.1 101.8 236.2 100.5 236.3 94.1 236.5 101.8 236.6 101.8 236.8 101.8 236.9 97.2 237.1 100.9 237.2 94.4 237.3 101.8 237.5 101.8 237.6 101.8 237.8 101.8 237.9 101.8 238.1 96.5 238.2 99.0 238.3 101.8 238.5 94.4 238.6 101.8 238.8 101.8 238.9 101.8 239.1 101.8 239.2 101.8 239.4 101.8 239.5 101.8 239.6 101.8 239.8 101.8 239.9 101.2 240.1 100.7 240.2 101.8 240.4 101.8 240.5 101.8 240.6 101.8 240.8 101.8 240.9 96.3 241.1 101.8 241.2 101.8 241.4 101.8 241.5 101.8 241.6 101.8 241.8 101.8 241.9 101.8 242.1 101.8 242.2 101.8 242.4 101.8 242.5 91.2 242.6 101.8 242.8 101.8 242.9 101.8 243.1 101.8 243.2 96.8 243.4 101.8 243.5 96.7 243.7 97.6 243.8 101.8 243.9 98.3 244.1 101.8 244.2 92.1 244.4 101.8 244.5 101.8 244.7 101.8 244.8 101.8 244.9 101.8 245.1 101.8 245.2 101.8 245.4 101.8 245.5 101.8 245.7 96.4 245.8 101.8 245.9 101.8 246.1 101.8 246.2 101.8 246.4 101.8 246.5 101.8 246.7 100.6 246.8 101.8 247.0 101.8 247.1 101.5 247.2 101.8 247.4 101.8 247.5 101.8 247.7 101.8 247.8 101.5 248.0 101.8 248.1 101.8 248.2 101.8 248.4 96.3 248.5 101.8 248.7 91.7 248.8 101.8 249.0 99.9 249.1 101.8 249.2 101.8 249.4 100.1 249.5 101.8 249.7 101.8 249.8 101.8 250.0 101.8 250.1 101.8 250.2 98.9 250.4 100.2 250.5 101.8 250.7 101.8 250.8 101.8 251.0 101.8 251.1 101.8 251.3 101.4 251.4 101.8 251.5 101.8 251.7 101.8 251.8 101.8 252.0 101.8 252.1 101.8 252.3 101.8 252.4 101.8 252.5 101.8 252.7 101.8 252.8 101.8 253.0 101.8 253.1 101.8 253.3 97.3 253.4 101.8 253.5 101.4 253.7 100.8 253.8 101.8 254.0 101.8 254.1 101.8 254.3 101.8 254.4 101.8 254.5 100.3 254.7 101.8 254.8 101.8 255.0 101.8 255.1 95.7 255.3 101.3 255.4 101.8 255.6 101.8 255.7 101.8 255.8 101.8 256.0 101.8 256.1 101.8 256.3 98.7 256.4 101.2 256.6 101.8 256.7 101.8 256.8 101.8 257.0 101.8 257.1 101.8 257.3 101.8 257.4 97.2 257.6 101.8 257.7 98.3 257.8 98.3 258.0 101.8 258.1 101.8 258.3 101.7 258.4 101.4 258.6 101.8 258.7 101.8 258.9 101.8 259.0 101.8 259.1 101.8 259.3 101.8 259.4 101.8 259.6 101.8 259.7 101.8 259.9 101.8 260.0 101.8 260.1 95.8 260.3 101.8 260.4 101.8 260.6 101.8 260.7 101.8 260.9 101.8 261.0 101.8 261.1 101.8 261.3 101.8 261.4 101.8 261.6 101.8 261.7 101.8 261.9 101.8 262.0 98.9 262.1 101.8 262.3 101.8 262.4 101.8 262.6 101.8 262.7 97.1 262.9 101.8 263.0 101.8 263.2 98.3 263.3 97.4 263.4 101.8 263.6 101.8 263.7 101.8 263.9 101.8 264.0 101.8 264.2 101.8 264.3 101.8 264.4 101.8 264.6 101.8 264.7 101.8 264.9 101.8 265.0 101.8 265.2 101.8 265.3 99.0 265.4 98.1 265.6 101.8 265.7 101.8 265.9 101.8 266.0 101.8 266.2 101.8 266.3 97.9 266.4 101.8 266.6 101.8 266.7 97.3 266.9 101.8 267.0 101.8 267.2 101.8 267.3 101.8 267.5 101.8 267.6 94.0 267.7 101.8 267.9 101.8 268.0 101.8 268.2 101.8 268.3 101.8 268.5 97.5 268.6 101.8 268.7 101.8 268.9 101.8 269.0 101.8 269.2 101.8 269.3 101.8 269.5 101.8 269.6 101.8 269.7 101.8 269.9 101.8 270.0 101.8 270.2 96.6 270.3 101.8 270.5 96.8 270.6 93.6 270.8 101.8 270.9 101.8 271.0 101.7 271.2 101.8 271.3 101.8 271.5 101.8 271.6 97.3 271.8 101.8 271.9 101.8 272.0 101.8 272.2 101.8 272.3 101.8 272.5 101.8 272.6 101.8 272.8 101.8 272.9 101.8 273.0 101.8 273.2 99.3 273.3 101.8 273.5 101.8 273.6 101.8 273.8 101.6 273.9 101.8 274.0 101.8 274.2 101.8 274.3 101.8 274.5 101.8 274.6 101.8 274.8 101.8 274.9 101.8 275.1 101.8 275.2 101.8 275.3 101.8 275.5 101.8 275.6 101.8 275.8 101.8 275.9 97.1 276.1 101.7 276.2 101.8 276.3 101.8 276.5 96.7 276.6 98.2 276.8 101.8 276.9 100.0 277.1 101.8 277.2 101.8 277.3 101.8 277.5 101.8 277.6 101.8 277.8 101.8 277.9 100.1 278.1 101.8 278.2 101.8 278.3 97.8 278.5 101.8 278.6 101.8 278.8 101.8 278.9 101.8 279.1 99.2 279.2 101.8 279.4 101.8 279.5 95.0 279.6 101.8 279.8 101.8 279.9 101.8 280.1 101.8 280.2 101.8 280.4 101.8 280.5 101.8 280.6 101.8 280.8 101.8 280.9 101.8 281.1 101.8 281.2 101.8 281.4 101.8 281.5 99.2 281.6 98.0 281.8 101.8 281.9 101.8 282.1 101.8 282.2 101.8 282.4 101.8 282.5 101.8 282.6 101.8 282.8 101.8 282.9 100.5 283.1 99.7 283.2 101.8 283.4 101.8 283.5 101.8 283.7 101.8 283.8 101.8 283.9 101.8 284.1 101.8 284.2 101.8 284.4 101.8 284.5 101.8 284.7 100.0 284.8 94.3 284.9 101.8 285.1 101.8 285.2 101.8 285.4 101.8 285.5 101.8 285.7 101.8 285.8 101.8 285.9 101.8 286.1 101.8 286.2 101.8 286.4 101.8 286.5 100.7 286.7 101.8 286.8 101.8 287.0 101.8 287.1 101.8 287.2 101.8 287.4 101.8 287.5 101.8 287.7 101.8 287.8 101.8 288.0 99.2 288.1 100.0 288.2 101.8 288.4 101.8 288.5 101.8 288.7 100.7 288.8 97.3 289.0 101.8 289.1 101.8 289.2 101.0 289.4 101.8 289.5 101.8 289.7 101.8 289.8 101.8 290.0 101.8 290.1 101.3 290.2 99.5 290.4 101.8 290.5 101.8 290.7 101.8 290.8 101.8 291.0 101.8 291.1 96.0 291.3 101.8 291.4 101.8 291.5 101.7 291.7 100.9 291.8 101.8 292.0 101.8 292.1 101.8 292.3 101.8 292.4 99.9 292.5 101.8 292.7 101.8 292.8 101.8 293.0 101.8 293.1 101.8 293.3 101.8 293.4 101.8 293.5 101.8 293.7 101.8 293.8 101.8 294.0 101.8 294.1 101.8 294.3 101.8 294.4 99.5 294.5 101.8 294.7 101.8 294.8 101.8 295.0 101.8 295.1 101.8 295.3 101.8 295.4 101.8 295.6 101.8 295.7 101.8 295.8 101.8 296.0 101.8 296.1 98.7 296.3 101.8 296.4 101.8 296.6 101.8 296.7 101.8 296.8 101.1 297.0 101.8 297.1 101.8 297.3 101.8 297.4 101.8 297.6 101.8 297.7 101.8 297.8 101.8 298.0 101.8 298.1 101.8 298.3 101.8 298.4 101.8 298.6 101.8 298.7 101.8 298.9 101.8 299.0 101.8 299.1 101.8 299.3 101.8 299.4 101.8 299.6 101.8 299.7 101.8 299.9 99.7 300.0 93.8 300.1 101.8 300.3 99.6 300.4 101.8 300.6 101.8 300.7 101.8 300.9 101.8 301.0 99.2 301.1 101.8 301.3 101.8 301.4 101.8 301.6 101.8 301.7 99.5 301.9 101.8 302.0 101.8 302.1 100.2 302.3 101.8 302.4 101.8 302.6 101.8 302.7 101.8 302.9 101.8 303.0 101.8 303.2 101.7 303.3 101.8 303.4 101.8 303.6 101.8 303.7 101.8 303.9 99.4 304.0 101.8 304.2 101.8 304.3 101.8 304.4 101.8 304.6 101.8 304.7 101.8 304.9 101.1 305.0 101.8 305.2 101.8 305.3 101.8 305.4 101.8 305.6 101.8 305.7 101.8 305.9 101.8 306.0 101.8 306.2 101.8 306.3 101.8 306.4 101.8 306.6 101.8 306.7 95.4 306.9 101.8 307.0 95.2 307.2 97.8 307.3 101.8 307.5 98.2 307.6 101.8 307.7 101.8 307.9 101.8 308.0 101.8 308.2 101.8 308.3 101.8 308.5 101.8 308.6 101.8" fill="none" stroke="#ff8205" stroke-width="0.6" stroke-linejoin="bevel"/>
<rect x="21.2" y="123.5" width="127.00" height="92.90" fill="none" stroke="#a6a6a6" stroke-width="0.6"/>
<line x1="20.40" y1="216.38" x2="21.20" y2="216.38" stroke="#a6a6a6" stroke-width="0.4"/>
<line x1="20.40" y1="214.73" x2="21.20" y2="214.73" stroke="#a6a6a6" stroke-width="0.4"/>
<line x1="20.40" y1="213.38" x2="21.20" y2="213.38" stroke="#a6a6a6" stroke-width="0.4"/>
<line x1="20.40" y1="212.24" x2="21.20" y2="212.24" stroke="#a6a6a6" stroke-width="0.4"/>
<line x1="20.40" y1="211.25" x2="21.20" y2="211.25" stroke="#a6a6a6" stroke-width="0.4"/>
<line x1="20.40" y1="210.38" x2="21.20" y2="210.38" stroke="#a6a6a6" stroke-width="0.4"/>
<line x1="19.60" y1="209.60" x2="21.20" y2="209.60" stroke="#a6a6a6" stroke-width="0.6"/>
<text x="14.20" y="211.60" font-size="4.8" text-anchor="end" >10</text>
<text x="14.40" y="209.80" font-size="3.0" text-anchor="start" >-5</text>
<line x1="20.40" y1="204.47" x2="21.20" y2="204.47" stroke="#a6a6a6" stroke-width="0.4"/>
<line x1="20.40" y1="201.47" x2="21.20" y2="201.47" stroke="#a6a6a6" stroke-width="0.4"/>
<line x1="20.40" y1="199.34" x2="21.20" y2="199.34" stroke="#a6a6a6" stroke-width="0.4"/>
<line x1="20.40" y1="197.69" x2="21.20" y2="197.69" stroke="#a6a6a6" stroke-width="0.4"/>
<line x1="20.40" y1="196.34" x2="21.20" y2="196.34" stroke="#a6a6a6" stroke-width="0.4"/>
<line x1="20.40" y1="195.20" x2="21.20" y2="195.20" stroke="#a6a6a6" stroke-width="0.4"/>
<line x1="20.40" y1="194.21" x2="21.20" y2="194.21" stroke="#a6a6a6" stroke-width="0.4"/>
<line x1="20.40" y1="193.34" x2="21.20" y2="193.34" stroke="#a6a6a6" stroke-width="0.4"/>
<line x1="19.60" y1="192.56" x2="21.20" y2="192.56" stroke="#a6a6a6" stroke-width="0.6"/>
<text x="14.20" y="194.56" font-size="4.8" text-anchor="end" >10</text>
<text x="14.40" y="192.76" font-size="3.0" text-anchor="start" >-4</text>
<line x1="20.40" y1="187.43" x2="21.20" y2="187.43" stroke="#a6a6a6" stroke-width="0.4"/>
<line x1="20.40" y1="184.43" x2="21.20" y2="184.43" stroke="#a6a6a6" stroke-width="0.4"/>
<line x1="20.40" y1="182.30" x2="21.20" y2="182.30" stroke="#a6a6a6" stroke-width="0.4"/>
<line x1="20.40" y1="180.65" x2="21.20" y2="180.65" stroke="#a6a6a6" stroke-width="0.4"/>
<line x1="20.40" y1="179.30" x2="21.20" y2="179.30" stroke="#a6a6a6" stroke-width="0.4"/>
<line x1="20.40" y1="178.16" x2="21.20" y2="178.16" stroke="#a6a6a6" stroke-width="0.4"/>
<line x1="20.40" y1="177.17" x2="21.20" y2="177.17" stroke="#a6a6a6" stroke-width="0.4"/>
<line x1="20.40" y1="176.30" x2="21.20" y2="176.30" stroke="#a6a6a6" stroke-width="0.4"/>
<line x1="19.60" y1="175.52" x2="21.20" y2="175.52" stroke="#a6a6a6" stroke-width="0.6"/>
<text x="14.20" y="177.52" font-size="4.8" text-anchor="end" >10</text>
<text x="14.40" y="175.72" font-size="3.0" text-anchor="start" >-3</text>
<line x1="20.40" y1="170.39" x2="21.20" y2="170.39" stroke="#a6a6a6" stroke-width="0.4"/>
<line x1="20.40" y1="167.39" x2="21.20" y2="167.39" stroke="#a6a6a6" stroke-width="0.4"/>
<line x1="20.40" y1="165.26" x2="21.20" y2="165.26" stroke="#a6a6a6" stroke-width="0.4"/>
<line x1="20.40" y1="163.61" x2="21.20" y2="163.61" stroke="#a6a6a6" stroke-width="0.4"/>
<line x1="20.40" y1="162.26" x2="21.20" y2="162.26" stroke="#a6a6a6" stroke-width="0.4"/>
<line x1="20.40" y1="161.12" x2="21.20" y2="161.12" stroke="#a6a6a6" stroke-width="0.4"/>
<line x1="20.40" y1="160.13" x2="21.20" y2="160.13" stroke="#a6a6a6" stroke-width="0.4"/>
<line x1="20.40" y1="159.26" x2="21.20" y2="159.26" stroke="#a6a6a6" stroke-width="0.4"/>
<line x1="19.60" y1="158.48" x2="21.20" y2="158.48" stroke="#a6a6a6" stroke-width="0.6"/>
<text x="14.20" y="160.48" font-size="4.8" text-anchor="end" >10</text>
<text x="14.40" y="158.68" font-size="3.0" text-anchor="start" >-2</text>
<line x1="20.40" y1="153.35" x2="21.20" y2="153.35" stroke="#a6a6a6" stroke-width="0.4"/>
<line x1="20.40" y1="150.35" x2="21.20" y2="150.35" stroke="#a6a6a6" stroke-width="0.4"/>
<line x1="20.40" y1="148.22" x2="21.20" y2="148.22" stroke="#a6a6a6" stroke-width="0.4"/>
<line x1="20.40" y1="146.57" x2="21.20" y2="146.57" stroke="#a6a6a6" stroke-width="0.4"/>
<line x1="20.40" y1="145.22" x2="21.20" y2="145.22" stroke="#a6a6a6" stroke-width="0.4"/>
<line x1="20.40" y1="144.08" x2="21.20" y2="144.08" stroke="#a6a6a6" stroke-width="0.4"/>
<line x1="20.40" y1="143.09" x2="21.20" y2="143.09" stroke="#a6a6a6" stroke-width="0.4"/>
<line x1="20.40" y1="142.22" x2="21.20" y2="142.22" stroke="#a6a6a6" stroke-width="0.4"/>
<line x1="19.60" y1="141.44" x2="21.20" y2="141.44" stroke="#a6a6a6" stroke-width="0.6"/>
<text x="14.20" y="143.44" font-size="4.8" text-anchor="end" >10</text>
<text x="14.40" y="141.64" font-size="3.0" text-anchor="start" >-1</text>
<line x1="20.40" y1="136.31" x2="21.20" y2="136.31" stroke="#a6a6a6" stroke-width="0.4"/>
<line x1="20.40" y1="133.31" x2="21.20" y2="133.31" stroke="#a6a6a6" stroke-width="0.4"/>
<line x1="20.40" y1="131.18" x2="21.20" y2="131.18" stroke="#a6a6a6" stroke-width="0.4"/>
<line x1="20.40" y1="129.53" x2="21.20" y2="129.53" stroke="#a6a6a6" stroke-width="0.4"/>
<line x1="20.40" y1="128.18" x2="21.20" y2="128.18" stroke="#a6a6a6" stroke-width="0.4"/>
<line x1="20.40" y1="127.04" x2="21.20" y2="127.04" stroke="#a6a6a6" stroke-width="0.4"/>
<line x1="20.40" y1="126.05" x2="21.20" y2="126.05" stroke="#a6a6a6" stroke-width="0.4"/>
<line x1="20.40" y1="125.18" x2="21.20" y2="125.18" stroke="#a6a6a6" stroke-width="0.4"/>
<line x1="19.60" y1="124.40" x2="21.20" y2="124.40" stroke="#a6a6a6" stroke-width="0.6"/>
<text x="14.20" y="126.40" font-size="4.8" text-anchor="end" >10</text>
<text x="14.40" y="124.60" font-size="3.0" text-anchor="start" >0</text>
<line x1="21.00" y1="216.40" x2="21.00" y2="217.60" stroke="#a6a6a6" stroke-width="0.6"/>
<text x="21.00" y="223.50" font-size="4.5" text-anchor="middle" >0</text>
<line x1="46.44" y1="216.40" x2="46.44" y2="217.60" stroke="#a6a6a6" stroke-width="0.6"/>
<text x="46.44" y="223.50" font-size="4.5" text-anchor="middle" >100</text>
<line x1="71.88" y1="216.40" x2="71.88" y2="217.60" stroke="#a6a6a6" stroke-width="0.6"/>
<text x="71.88" y="223.50" font-size="4.5" text-anchor="middle" >200</text>
<line x1="97.32" y1="216.40" x2="97.32" y2="217.60" stroke="#a6a6a6" stroke-width="0.6"/>
<text x="97.32" y="223.50" font-size="4.5" text-anchor="middle" >300</text>
<line x1="122.76" y1="216.40" x2="122.76" y2="217.60" stroke="#a6a6a6" stroke-width="0.6"/>
<text x="122.76" y="223.50" font-size="4.5" text-anchor="middle" >400</text>
<line x1="148.20" y1="216.40" x2="148.20" y2="217.60" stroke="#a6a6a6" stroke-width="0.6"/>
<text x="148.20" y="223.50" font-size="4.5" text-anchor="middle" >500</text>
<line x1="33.72" y1="216.40" x2="33.72" y2="217.20" stroke="#a6a6a6" stroke-width="0.6"/>
<line x1="59.16" y1="216.40" x2="59.16" y2="217.20" stroke="#a6a6a6" stroke-width="0.6"/>
<line x1="84.60" y1="216.40" x2="84.60" y2="217.20" stroke="#a6a6a6" stroke-width="0.6"/>
<line x1="110.04" y1="216.40" x2="110.04" y2="217.20" stroke="#a6a6a6" stroke-width="0.6"/>
<line x1="135.48" y1="216.40" x2="135.48" y2="217.20" stroke="#a6a6a6" stroke-width="0.6"/>
<text transform="translate(4.3,169.75) rotate(-90)" font-size="4.7" text-anchor="middle">Normalized intensity (a. u.)</text>
<text x="85.00" y="231.40" font-size="4.6" text-anchor="middle" >Time (&#956;s)</text>
<text x="0" y="122.8" font-size="5.4" font-weight="bold" style="stroke-width:0.25px">c</text>
<clipPath id="k4"><rect x="21.2" y="123.5" width="127.00" height="92.90"/></clipPath>
<path clip-path="url(#k4)" d="M21.0 219.4 21.1 219.4 21.1 207.5 21.2 214.3 21.3 219.4 21.3 219.4 21.4 219.4 21.4 219.4 21.5 219.4 21.6 219.4 21.6 219.4 21.7 207.9 21.8 219.4 21.8 216.2 21.9 219.4 21.9 205.2 22.0 219.4 22.1 210.5 22.1 219.4 22.2 219.4 22.3 219.4 22.3 219.4 22.4 218.4 22.4 219.4 22.5 208.3 22.6 219.4 22.6 219.4 22.7 219.4 22.8 213.1 22.8 219.4 22.9 219.4 22.9 219.4 23.0 219.4 23.1 211.4 23.1 219.4 23.2 211.2 23.3 211.5 23.3 219.4 23.4 219.4 23.4 219.4 23.5 213.4 23.6 212.4 23.6 219.4 23.7 219.4 23.8 219.4 23.8 219.4 23.9 219.4 23.9 219.4 24.0 205.9 24.1 219.4 24.1 219.4 24.2 217.0 24.3 219.4 24.3 219.4 24.4 219.4 24.4 213.1 24.5 219.4 24.6 208.9 24.6 219.4 24.7 219.4 24.8 212.5 24.8 214.3 24.9 210.8 24.9 219.4 25.0 219.4 25.1 219.4 25.1 219.4 25.2 209.8 25.3 219.4 25.3 219.4 25.4 205.9 25.4 219.4 25.5 219.4 25.6 206.7 25.6 219.4 25.7 210.8 25.8 219.4 25.8 219.4 25.9 219.4 26.0 219.4 26.0 219.4 26.1 219.4 26.1 212.9 26.2 204.7 26.3 219.4 26.3 211.2 26.4 219.4 26.5 219.4 26.5 219.4 26.6 219.4 26.6 219.4 26.7 219.4 26.8 219.4 26.8 219.4 26.9 209.6 27.0 219.4 27.0 219.4 27.1 210.3 27.1 216.1 27.2 219.4 27.3 219.4 27.3 219.4 27.4 210.7 27.5 213.0 27.5 218.7 27.6 212.9 27.6 219.4 27.7 216.2 27.8 219.4 27.8 209.0 27.9 219.4 28.0 219.4 28.0 215.0 28.1 219.4 28.1 219.4 28.2 210.0 28.3 219.4 28.3 219.4 28.4 217.3 28.5 219.4 28.5 207.5 28.6 219.4 28.6 219.4 28.7 205.2 28.8 205.6 28.8 219.4 28.9 214.7 29.0 210.6 29.0 207.4 29.1 219.4 29.1 219.4 29.2 209.7 29.3 219.4 29.3 213.3 29.4 214.9 29.5 219.4 29.5 219.4 29.6 219.4 29.6 219.4 29.7 209.1 29.8 219.4 29.8 209.7 29.9 211.2 30.0 219.4 30.0 219.4 30.1 219.4 30.1 219.4 30.2 219.4 30.3 219.4 30.3 214.9 30.4 213.0 30.5 219.4 30.5 212.7 30.6 219.4 30.6 219.4 30.7 218.6 30.8 219.4 30.8 219.4 30.9 219.4 31.0 219.4 31.0 219.4 31.1 219.4 31.2 211.5 31.2 219.4 31.3 206.5 31.3 219.4 31.4 219.4 31.5 219.4 M31.5 158.6 31.6 160.1 31.7 161.4 31.7 162.8 31.8 163.6 31.8 164.9 31.9 166.3 32.0 167.6 32.0 168.3 32.1 168.6 32.2 169.3 32.2 168.8 32.3 169.1 32.3 169.3 32.4 169.1 32.5 169.5 32.5 170.5 32.6 169.2 32.7 169.5 32.7 169.9 32.8 170.1 32.8 170.0 32.9 170.6 33.0 170.2 33.0 170.5 33.1 170.6 33.2 170.9 33.2 171.0 33.3 170.5 33.3 170.5 33.4 170.9 33.5 171.2 33.5 171.6 33.6 171.1 33.7 170.9 33.7 172.1 33.8 171.3 33.8 172.6 33.9 172.0 34.0 171.9 34.0 172.6 34.1 172.8 34.2 172.2 34.2 172.1 34.3 172.7 34.3 172.2 34.4 173.0 34.5 172.2 34.5 172.9 34.6 173.0 34.7 172.9 34.7 173.1 34.8 172.7 34.8 172.7 34.9 173.4 35.0 173.8 35.0 174.3 35.1 174.2 35.2 174.0 35.2 174.1 35.3 174.2 35.3 174.3 35.4 174.2 35.5 175.1 35.5 175.1 35.6 174.3 35.7 174.5 35.7 175.2 35.8 174.5 35.9 175.5 35.9 175.4 36.0 176.2 36.0 175.1 36.1 175.6 36.2 175.2 36.2 175.5 36.3 175.8 36.4 175.9 36.4 175.5 36.5 176.2 36.5 176.3 36.6 176.2 36.7 176.0 36.7 176.0 36.8 175.6 36.9 176.6 36.9 176.1 37.0 177.1 37.0 176.5 37.1 176.8 37.2 176.2 37.2 176.7 37.3 177.3 37.4 176.9 37.4 177.1 37.5 177.5 37.5 177.6 37.6 178.0 37.7 176.3 37.7 177.6 37.8 177.2 37.9 178.4 37.9 178.5 38.0 178.0 38.0 178.1 38.1 177.7 38.2 178.8 38.2 178.0 38.3 177.6 38.4 178.9 38.4 178.0 38.5 179.1 38.5 178.5 38.6 178.5 38.7 177.9 38.7 179.3 38.8 178.9 38.9 178.5 38.9 179.8 39.0 179.2 39.0 179.8 39.1 179.8 39.2 179.1 39.2 179.1 39.3 178.2 39.4 178.9 39.4 179.0 39.5 179.9 39.5 180.1 39.6 179.9 39.7 181.6 39.7 179.2 39.8 180.6 39.9 181.0 39.9 180.7 40.0 179.9 40.0 179.8 40.1 180.9 40.2 180.4 40.2 180.8 40.3 181.5 40.4 180.8 40.4 181.0 40.5 182.2 40.5 180.5 40.6 182.4 40.7 181.2 40.7 182.1 40.8 182.0 40.9 182.0 40.9 181.2 41.0 182.6 41.1 181.9 41.1 180.9 41.2 182.4 41.2 182.0 41.3 181.6 41.4 182.6 41.4 181.9 41.5 182.8 41.6 181.9 41.6 182.4 41.7 183.3 41.7 181.7 41.8 182.8 41.9 183.0 41.9 183.6 42.0 183.3 42.1 183.1 42.1 183.0 42.2 182.4 42.2 184.3 42.3 183.6 42.4 182.6 42.4 183.4 42.5 183.3 42.6 182.5 42.6 183.5 42.7 183.4 42.7 183.9 42.8 182.7 42.9 183.2 42.9 184.7 43.0 183.8 43.1 185.3 43.1 183.5 43.2 183.9 43.2 184.6 43.3 184.8 43.4 186.2 43.4 184.0 43.5 184.7 43.6 184.9 43.6 184.1 43.7 185.3 43.7 185.3 43.8 185.5 43.9 186.2 43.9 183.1 44.0 185.2 44.1 185.3 44.1 184.3 44.2 188.5 44.2 185.2 44.3 185.2 44.4 186.2 44.4 184.9 44.5 187.4 44.6 185.4 44.6 184.7 44.7 187.8 44.7 187.0 44.8 185.7 44.9 185.7 44.9 186.3 45.0 185.4 45.1 185.6 45.1 187.2 45.2 186.0 45.2 187.3 45.3 188.3 45.4 188.8 45.4 185.2 45.5 186.3 45.6 184.6 45.6 187.8 45.7 186.7 45.8 186.1 45.8 186.6 45.9 186.0 45.9 186.4 46.0 187.2 46.1 189.3 46.1 187.6 46.2 185.1 46.3 186.0 46.3 185.5 46.4 187.4 46.4 187.0 46.5 187.8 46.6 186.5 46.6 186.9 46.7 186.6 46.8 185.4 46.8 188.0 46.9 186.4 46.9 188.8 47.0 186.2 47.1 187.7 47.1 187.4 47.2 187.2 47.3 185.9 47.3 187.5 47.4 188.0 47.4 188.9 47.5 187.3 47.6 188.6 47.6 188.2 47.7 187.7 47.8 187.1 47.8 188.6 47.9 187.1 47.9 186.2 48.0 189.7 48.1 186.6 48.1 186.0 48.2 188.7 48.3 187.5 48.3 189.8 48.4 187.8 48.4 188.6 48.5 187.9 48.6 189.4 48.6 189.3 48.7 188.9 48.8 189.3 48.8 189.2 48.9 188.8 48.9 190.0 49.0 188.8 49.1 188.1 49.1 192.0 49.2 188.5 49.3 189.7 49.3 190.3 49.4 190.6 49.4 190.0 49.5 189.9 49.6 188.6 49.6 190.7 49.7 187.9 49.8 190.1 49.8 188.4 49.9 188.0 49.9 190.8 50.0 188.1 50.1 187.0 50.1 189.8 50.2 188.6 50.3 189.5 50.3 189.3 50.4 189.6 50.5 190.0 50.5 188.6 50.6 188.5 50.6 189.5 50.7 187.9 50.8 188.3 50.8 188.8 50.9 190.5 51.0 187.6 51.0 188.2 51.1 193.0 51.1 191.2 51.2 190.4 51.3 188.7 51.3 188.5 51.4 190.2 51.5 189.6 51.5 189.1 51.6 191.8 51.6 189.3 51.7 190.4 51.8 189.9 51.8 190.2 51.9 191.8 52.0 191.6 52.0 190.2 52.1 190.1 52.1 190.6 52.2 189.1 52.3 190.8 52.3 192.2 52.4 190.9 52.5 190.7 52.5 190.7 52.6 189.2 52.6 190.0 52.7 189.4 52.8 189.9 52.8 190.9 52.9 189.5 53.0 191.1 53.0 190.5 53.1 192.3 53.1 190.7 53.2 191.4 53.3 190.5 53.3 188.9 53.4 188.4 53.5 189.8 53.5 191.1 53.6 190.1 53.6 190.9 53.7 192.1 53.8 191.3 53.8 191.6 53.9 192.2 54.0 189.6 54.0 192.2 54.1 192.1 54.1 190.5 54.2 192.5 54.3 193.3 54.3 192.9 54.4 190.9 54.5 191.1 54.5 191.3 54.6 192.4 54.6 193.2 54.7 190.6 54.8 194.2 54.8 192.2 54.9 194.1 55.0 192.5 55.0 192.2 55.1 190.4 55.1 198.1 55.2 190.3 55.3 193.5 55.3 191.7 55.4 191.1 55.5 193.4 55.5 192.4 55.6 191.6 55.7 192.5 55.7 193.5 55.8 192.1 55.8 192.2 55.9 195.1 56.0 190.7 56.0 192.2 56.1 197.6 56.2 194.0 56.2 190.4 56.3 190.6 56.3 192.3 56.4 195.9 56.5 193.1 56.5 191.3 56.6 192.2 56.7 193.4 56.7 194.1 56.8 191.7 56.8 193.3 56.9 192.5 57.0 192.3 57.0 190.9 57.1 192.8 57.2 192.7 57.2 196.7 57.3 191.6 57.3 192.0 57.4 193.3 57.5 198.3 57.5 194.3 57.6 193.3 57.7 190.6 57.7 192.6 57.8 192.3 57.8 192.3 57.9 191.7 58.0 195.8 58.0 195.2 58.1 195.9 58.2 194.2 58.2 194.4 58.3 193.6 58.3 195.8 58.4 193.7 58.5 195.5 58.5 191.0 58.6 194.9 58.7 190.6 58.7 191.7 58.8 196.4 58.8 192.6 58.9 193.2 59.0 197.4 59.0 193.2 59.1 194.4 59.2 193.7 59.2 195.9 59.3 194.4 59.3 193.7 59.4 194.7 59.5 195.6 59.5 194.7 59.6 196.4 59.7 193.9 59.7 201.5 59.8 192.3 59.8 194.5 59.9 193.8 60.0 193.3 60.0 197.3 60.1 191.5 60.2 197.1 60.2 194.0 60.3 194.2 60.4 192.8 60.4 194.9 60.5 198.1 60.5 194.4 60.6 202.0 60.7 195.4 60.7 195.9 60.8 192.6 60.9 195.6 60.9 196.0 61.0 196.7 61.0 197.0 61.1 196.3 61.2 194.2 61.2 198.3 61.3 195.7 61.4 198.8 61.4 195.7 61.5 195.1 61.5 198.3 61.6 196.7 61.7 195.3 61.7 194.2 61.8 193.9 61.9 195.8 61.9 197.9 62.0 199.8 62.0 194.3 62.1 193.4 62.2 195.1 62.2 193.2 62.3 196.8 62.4 196.7 62.4 193.3 62.5 198.3 62.5 194.9 62.6 195.3 62.7 195.7 62.7 193.2 62.8 198.1 62.9 197.0 62.9 202.5 63.0 198.7 63.0 197.3 63.1 197.1 63.2 196.7 63.2 195.7 63.3 197.9 63.4 202.3 63.4 196.1 63.5 195.6 63.5 199.4 63.6 198.4 63.7 193.5 63.7 194.7 63.8 194.6 63.9 195.3 63.9 196.3 64.0 197.9 64.0 195.6 64.1 197.2 64.2 197.8 64.2 196.8 64.3 197.0 64.4 195.2 64.4 199.3 64.5 192.9 64.5 199.6 64.6 198.0 64.7 195.2 64.7 199.2 64.8 198.2 64.9 197.1 64.9 213.2 65.0 198.4 65.1 199.7 65.1 197.8 65.2 196.2 65.2 196.0 65.3 194.6 65.4 194.7 65.4 195.4 65.5 197.5 65.6 195.4 65.6 200.2 65.7 197.7 65.7 194.8 65.8 196.0 65.9 201.8 65.9 199.1 66.0 195.8 66.1 196.4 66.1 195.6 66.2 203.8 66.2 201.6 66.3 198.4 66.4 200.6 66.4 197.9 66.5 197.9 66.6 197.1 66.6 198.3 66.7 196.8 66.7 196.4 66.8 197.7 66.9 201.8 66.9 195.5 67.0 197.6 67.1 197.2 67.1 197.8 67.2 203.7 67.2 197.0 67.3 200.1 67.4 202.1 67.4 195.7 67.5 199.2 67.6 197.7 67.6 196.5 67.7 195.3 67.7 205.4 67.8 200.6 67.9 197.0 67.9 200.5 68.0 219.4 68.1 198.3 68.1 198.1 68.2 196.9 68.2 198.2 68.3 200.0 68.4 198.2 68.4 198.9 68.5 200.2 68.6 198.2 68.6 198.0 68.7 202.1 68.7 196.7 68.8 197.1 68.9 197.2 68.9 219.4 69.0 198.7 69.1 199.4 69.1 202.3 69.2 197.7 69.2 204.7 69.3 196.5 69.4 198.2 69.4 200.7 69.5 196.2 69.6 198.1 69.6 198.4 69.7 203.9 69.7 198.0 69.8 196.3 69.9 196.9 69.9 204.0 70.0 196.4 70.1 196.0 70.1 197.5 70.2 200.6 70.3 205.5 70.3 202.6 70.4 201.4 70.4 198.9 70.5 198.3 70.6 202.1 70.6 206.7 70.7 201.0 70.8 204.9 70.8 196.8 70.9 204.5 70.9 198.6 71.0 197.9 71.1 203.4 71.1 197.6 71.2 200.4 71.3 202.7 71.3 203.4 71.4 199.8 71.4 197.5 71.5 210.2 71.6 198.6 71.6 200.7 71.7 202.9 71.8 200.6 71.8 200.3 71.9 200.5 71.9 198.3 72.0 203.7 72.1 196.1 72.1 198.1 72.2 202.4 72.3 211.5 72.3 200.5 72.4 201.8 72.4 198.6 72.5 198.6 72.6 196.3 72.6 201.0 72.7 198.5 72.8 202.0 72.8 201.8 72.9 197.0 72.9 201.1 73.0 201.0 73.1 201.8 73.1 199.8 73.2 199.1 73.3 201.1 73.3 205.5 73.4 199.8 73.4 203.9 73.5 202.0 73.6 200.2 73.6 200.1 73.7 219.4 73.8 196.9 73.8 198.8 73.9 196.6 73.9 195.6 74.0 204.7 74.1 203.0 74.1 200.3 74.2 198.6 74.3 202.9 74.3 202.2 74.4 198.4 74.4 204.8 74.5 200.6 74.6 198.4 74.6 202.2 74.7 199.2 74.8 201.8 74.8 210.3 74.9 203.5 75.0 202.2 75.0 202.7 75.1 201.5 75.1 200.4 75.2 200.8 75.3 201.1 75.3 203.4 75.4 202.6 75.5 203.2 75.5 204.2 75.6 198.3 75.6 217.7 75.7 201.2 75.8 212.8 75.8 204.5 75.9 199.7 76.0 203.2 76.0 198.4 76.1 206.7 76.1 203.4 76.2 205.1 76.3 202.3 76.3 203.7 76.4 204.0 76.5 202.2 76.5 199.3 76.6 202.1 76.6 202.5 76.7 203.9 76.8 206.1 76.8 212.8 76.9 208.6 77.0 202.8 77.0 219.4 77.1 200.8 77.1 204.9 77.2 208.2 77.3 205.7 77.3 200.9 77.4 201.9 77.5 202.2 77.5 198.3 77.6 197.2 77.6 211.5 77.7 200.3 77.8 206.9 77.8 212.5 77.9 205.4 78.0 199.9 78.0 204.3 78.1 205.1 78.1 199.0 78.2 201.2 78.3 203.2 78.3 198.1 78.4 201.2 78.5 206.2 78.5 208.6 78.6 204.6 78.6 202.2 78.7 200.0 78.8 200.2 78.8 202.4 78.9 209.4 79.0 200.1 79.0 202.6 79.1 208.8 79.1 210.2 79.2 202.2 79.3 201.9 79.3 200.5 79.4 210.4 79.5 198.1 79.5 219.4 79.6 203.4 79.6 199.4 79.7 200.1 79.8 208.5 79.8 201.3 79.9 199.7 80.0 201.0 80.0 209.1 80.1 198.8 80.2 219.3 80.2 203.5 80.3 210.2 80.3 205.7 80.4 205.3 80.5 202.1 80.5 213.0 80.6 203.1 80.7 199.9 80.7 203.7 80.8 202.1 80.8 202.5 80.9 208.3 81.0 206.0 81.0 204.0 81.1 202.5 81.2 198.5 81.2 199.4 81.3 206.7 81.3 206.6 81.4 211.2 81.5 219.4 81.5 200.2 81.6 202.5 81.7 219.4 81.7 204.6 81.8 198.1 81.8 202.8 81.9 202.7 82.0 203.9 82.0 209.4 82.1 214.1 82.2 210.1 82.2 204.2 82.3 206.1 82.3 202.2 82.4 199.5 82.5 202.6 82.5 201.9 82.6 206.8 82.7 217.2 82.7 198.7 82.8 202.3 82.8 201.0 82.9 207.1 83.0 219.4 83.0 200.7 83.1 219.4 83.2 206.1 83.2 208.4 83.3 204.3 83.3 202.2 83.4 202.2 83.5 219.4 83.5 201.8 83.6 219.4 83.7 202.8 83.7 208.1 83.8 216.0 83.8 208.9 83.9 219.4 84.0 205.8 84.0 202.1 84.1 202.6 84.2 205.6 84.2 201.7 84.3 203.7 84.3 199.2 84.4 203.7 84.5 209.9 84.5 207.7 84.6 211.6 84.7 207.7 84.7 206.9 84.8 203.2 84.9 202.9 84.9 205.9 85.0 204.3 85.0 211.8 85.1 210.0 85.2 219.4 85.2 212.5 85.3 209.7 85.4 198.7 85.4 219.4 85.5 206.2 85.5 208.6 85.6 219.4 85.7 205.3 85.7 206.6 85.8 219.4 85.9 219.4 85.9 207.1 86.0 219.4 86.0 203.8 86.1 208.6 86.2 204.4 86.2 208.9 86.3 201.2 86.4 203.8 86.4 201.2 86.5 206.3 86.5 218.4 86.6 219.4 86.7 210.7 86.7 205.6 86.8 212.1 86.9 199.2 86.9 207.5 87.0 204.9 87.0 206.7 87.1 219.4 87.2 202.7 87.2 204.2 87.3 203.4 87.4 217.1 87.4 207.2 87.5 207.6 87.5 202.5 87.6 219.4 87.7 204.2 87.7 202.2 87.8 210.4 87.9 215.2 87.9 202.1 88.0 206.2 88.0 202.7 88.1 204.0 88.2 202.9 88.2 208.7 88.3 219.4 88.4 204.7 88.4 213.7 88.5 204.6 88.5 211.9 88.6 201.4 88.7 209.4 88.7 203.9 88.8 203.0 88.9 208.3 88.9 206.1 89.0 208.0 89.0 219.1 89.1 202.0 89.2 219.1 89.2 219.4 89.3 212.3 89.4 207.3 89.4 207.8 89.5 210.8 89.6 212.0 89.6 219.4 89.7 205.1 89.7 201.5 89.8 216.2 89.9 219.4 89.9 204.7 90.0 209.8 90.1 219.4 90.1 217.4 90.2 219.4 90.2 219.4 90.3 201.0 90.4 204.0 90.4 210.1 90.5 208.8 90.6 202.2 90.6 219.4 90.7 205.1 90.7 216.2 90.8 204.8 90.9 207.7 90.9 218.9 91.0 204.0 91.1 206.1 91.1 201.7 91.2 213.3 91.2 208.5 91.3 218.4 91.4 203.6 91.4 219.4 91.5 209.8 91.6 203.4 91.6 206.6 91.7 207.9 91.7 208.1 91.8 207.7 91.9 206.1 91.9 213.1 92.0 219.4 92.1 203.6 92.1 219.4 92.2 202.1 92.2 208.3 92.3 199.2 92.4 204.2 92.4 207.7 92.5 205.3 92.6 219.4 92.6 209.4 92.7 214.9 92.7 210.7 92.8 219.4 92.9 219.4 92.9 206.5 93.0 210.8 93.1 217.3 93.1 212.3 93.2 219.4 93.2 218.6 93.3 206.9 93.4 214.4 93.4 206.9 93.5 219.4 93.6 219.4 93.6 219.4 93.7 213.7 93.7 219.4 93.8 218.0 93.9 219.4 93.9 206.1 94.0 206.6 94.1 205.5 94.1 219.4 94.2 209.6 94.2 204.8 94.3 211.0 94.4 213.6 94.4 219.4 94.5 206.9 94.6 211.2 94.6 206.1 94.7 215.1 94.8 202.5 94.8 213.5 94.9 219.4 94.9 211.2 95.0 209.1 95.1 205.1 95.1 219.4 95.2 219.4 95.3 218.0 95.3 219.4 95.4 219.4 95.4 207.9 95.5 205.4 95.6 219.4 95.6 219.4 95.7 216.1 95.8 219.4 95.8 207.7 95.9 219.4 95.9 208.8 96.0 219.4 96.1 219.4 96.1 219.4 96.2 219.4 96.3 210.2 96.3 207.6 96.4 212.8 96.4 212.1 96.5 219.4 96.6 206.4 96.6 219.4 96.7 205.6 96.8 202.1 96.8 214.0 96.9 209.1 96.9 209.2 97.0 219.4 97.1 219.4 97.1 219.4 97.2 213.3 97.3 208.0 97.3 213.8 97.4 206.7 97.4 219.4 97.5 219.4 97.6 215.1 97.6 216.5 97.7 219.4 97.8 207.2 97.8 219.4 97.9 219.4 97.9 213.0 98.0 219.4 98.1 209.7 98.1 211.5 98.2 210.9 98.3 216.1 98.3 219.4 98.4 219.4 98.4 212.3 98.5 205.9 98.6 208.7 98.6 211.8 98.7 207.6 98.8 206.1 98.8 219.4 98.9 217.0 98.9 206.5 99.0 219.4 99.1 219.4 99.1 209.9 99.2 219.4 99.3 206.7 99.3 219.4 99.4 210.1 99.5 202.4 99.5 207.0 99.6 219.4 99.6 219.4 99.7 219.4 99.8 217.6 99.8 219.4 99.9 210.6 100.0 204.8 100.0 205.4 100.1 219.4 100.1 219.4 100.2 219.4 100.3 219.4 100.3 205.0 100.4 219.4 100.5 219.4 100.5 212.7 100.6 213.0 100.6 205.7 100.7 205.7 100.8 219.4 100.8 219.4 100.9 210.2 101.0 209.4 101.0 204.8 101.1 219.4 101.1 219.4 101.2 205.8 101.3 205.5 101.3 206.9 101.4 219.4 101.5 207.0 101.5 219.4 101.6 219.4 101.6 219.4 101.7 217.2 101.8 209.8 101.8 208.1 101.9 219.4 102.0 214.8 102.0 212.5 102.1 219.4 102.1 219.4 102.2 218.9 102.3 213.1 102.3 219.4 102.4 219.4 102.5 219.4 102.5 214.4 102.6 219.4 102.6 219.4 102.7 211.5 102.8 219.4 102.8 219.4 102.9 208.2 103.0 209.2 103.0 213.2 103.1 219.4 103.1 208.4 103.2 219.4 103.3 219.4 103.3 219.4 103.4 205.4 103.5 219.4 103.5 212.1 103.6 207.2 103.6 217.1 103.7 219.4 103.8 219.4 103.8 212.2 103.9 219.4 104.0 214.7 104.0 212.5 104.1 219.4 104.1 211.1 104.2 212.4 104.3 219.4 104.3 219.4 104.4 218.7 104.5 219.4 104.5 219.4 104.6 219.4 104.7 218.9 104.7 211.0 104.8 211.8 104.8 219.4 104.9 212.5 105.0 212.1 105.0 219.4 105.1 212.9 105.2 219.4 105.2 219.4 105.3 216.6 105.3 219.4 105.4 219.4 105.5 217.0 105.5 219.4 105.6 219.4 105.7 211.6 105.7 219.4 105.8 219.4 105.8 218.6 105.9 213.4 106.0 219.4 106.0 219.4 106.1 213.4 106.2 206.4 106.2 219.4 106.3 210.2 106.3 219.4 106.4 219.4 106.5 219.4 106.5 219.4 106.6 219.4 106.7 219.4 106.7 219.4 106.8 219.4 106.8 216.3 106.9 217.2 107.0 216.0 107.0 219.4 107.1 219.4 107.2 219.4 107.2 219.4 107.3 219.4 107.3 208.5 107.4 219.4 107.5 219.4 107.5 205.8 107.6 219.4 107.7 219.4 107.7 217.3 107.8 218.7 107.8 219.4 107.9 219.4 108.0 216.7 108.0 215.2 108.1 204.9 108.2 211.9 108.2 219.4 108.3 215.8 108.3 211.9 108.4 219.4 108.5 219.4 108.5 207.5 108.6 213.4 108.7 213.1 108.7 219.4 108.8 213.9 108.8 219.4 108.9 208.1 109.0 219.4 109.0 211.8 109.1 207.2 109.2 219.4 109.2 208.3 109.3 216.1 109.4 208.3 109.4 219.4 109.5 219.4 109.5 207.6 109.6 213.5 109.7 219.0 109.7 219.4 109.8 207.5 109.9 219.4 109.9 219.4 110.0 219.4 110.0 219.4 110.1 211.9 110.2 219.4 110.2 219.4 110.3 219.4 110.4 206.8 110.4 206.3 110.5 219.4 110.5 219.4 110.6 215.7 110.7 219.4 110.7 216.0 110.8 215.6 110.9 217.3 110.9 206.5 111.0 205.6 111.0 213.6 111.1 219.4 111.2 209.2 111.2 208.5 111.3 219.4 111.4 219.4 111.4 219.4 111.5 219.4 111.5 219.4 111.6 206.3 111.7 219.4 111.7 210.4 111.8 219.4 111.9 209.4 111.9 215.2 112.0 210.0 112.0 219.4 112.1 215.6 112.2 219.4 112.2 210.9 112.3 211.3 112.4 217.5 112.4 219.4 112.5 219.4 112.5 216.2 112.6 219.4 112.7 219.4 112.7 219.4 112.8 219.4 112.9 209.2 112.9 219.4 113.0 207.9 113.0 211.5 113.1 219.4 113.2 219.4 113.2 219.4 113.3 219.4 113.4 218.4 113.4 209.8 113.5 215.0 113.5 219.4 113.6 219.4 113.7 207.1 113.7 219.4 113.8 206.1 113.9 205.0 113.9 219.4 114.0 215.6 114.1 206.1 114.1 219.4 114.2 213.9 114.2 209.1 114.3 219.4 114.4 214.5 114.4 218.0 114.5 219.4 114.6 206.7 114.6 219.4 114.7 204.2 114.7 211.2 114.8 219.4 114.9 215.7 114.9 219.4 115.0 210.5 115.1 211.6 115.1 219.4 115.2 219.4 115.2 213.3 115.3 219.3 115.4 219.4 115.4 208.8 115.5 207.5 115.6 219.4 115.6 207.0 115.7 219.4 115.7 219.4 115.8 219.4 115.9 219.4 115.9 217.5 116.0 219.4 116.1 219.4 116.1 206.3 116.2 213.9 116.2 207.1 116.3 210.4 116.4 219.4 116.4 206.0 116.5 210.5 116.6 212.0 116.6 219.4 116.7 219.4 116.7 219.4 116.8 219.4 116.9 219.0 116.9 219.4 117.0 219.4 117.1 219.4 117.1 219.4 117.2 219.4 117.2 216.0 117.3 219.4 117.4 219.4 117.4 219.4 117.5 219.4 117.6 219.4 117.6 209.2 117.7 219.4 117.7 219.4 117.8 212.8 117.9 211.1 117.9 212.5 118.0 219.4 118.1 210.2 118.1 219.4 118.2 219.2 118.2 219.4 118.3 214.2 118.4 213.9 118.4 207.4 118.5 217.0 118.6 219.4 118.6 212.4 118.7 219.4 118.7 209.3 118.8 218.6 118.9 211.5 118.9 219.4 119.0 209.8 119.1 212.5 119.1 219.4 119.2 219.4 119.3 219.4 119.3 219.4 119.4 219.4 119.4 213.9 119.5 213.8 119.6 208.0 119.6 219.4 119.7 219.4 119.8 219.4 119.8 206.3 119.9 219.4 119.9 219.4 120.0 205.7 120.1 207.7 120.1 219.4 120.2 204.6 120.3 214.5 120.3 219.4 120.4 217.2 120.4 212.7 120.5 212.8 120.6 219.4 120.6 206.1 120.7 219.4 120.8 219.4 120.8 207.8 120.9 215.5 120.9 219.4 121.0 219.4 121.1 213.5 121.1 208.0 121.2 219.4 121.3 215.1 121.3 219.4 121.4 219.4 121.4 219.4 121.5 217.5 121.6 210.5 121.6 219.4 121.7 209.8 121.8 218.9 121.8 208.7 121.9 219.3 121.9 219.4 122.0 219.4 122.1 219.4 122.1 216.6 122.2 219.4 122.3 219.4 122.3 219.4 122.4 219.4 122.4 212.5 122.5 215.5 122.6 210.7 122.6 219.2 122.7 217.2 122.8 206.0 122.8 219.4 122.9 216.6 122.9 207.1 123.0 205.4 123.1 213.3 123.1 219.4 123.2 219.4 123.3 219.4 123.3 219.1 123.4 219.4 123.4 214.0 123.5 213.3 123.6 219.4 123.6 219.4 123.7 219.4 123.8 214.8 123.8 206.9 123.9 219.4 124.0 209.7 124.0 219.4 124.1 209.5 124.1 206.0 124.2 214.2 124.3 219.4 124.3 219.4 124.4 215.9 124.5 219.4 124.5 219.4 124.6 219.4 124.6 219.4 124.7 219.4 124.8 211.2 124.8 216.9 124.9 212.1 125.0 219.4 125.0 219.4 125.1 219.4 125.1 219.4 125.2 219.4 125.3 219.4 125.3 207.3 125.4 219.4 125.5 219.4 125.5 219.4 125.6 204.9 125.6 212.4 125.7 219.4 125.8 219.4 125.8 219.4 125.9 219.4 126.0 219.4 126.0 219.4 126.1 219.4 126.1 219.4 126.2 219.4 126.3 219.4 126.3 211.9 126.4 209.9 126.5 219.4 126.5 218.5 126.6 212.7 126.6 210.2 126.7 219.4 126.8 219.4 126.8 213.5 126.9 211.3 127.0 219.4 127.0 213.7 127.1 207.2 127.1 219.4 127.2 219.4 127.3 219.4 127.3 216.4 127.4 210.6 127.5 219.4 127.5 206.4 127.6 219.4 127.6 217.5 127.7 219.4 127.8 208.1 127.8 219.4 127.9 207.0 128.0 219.4 128.0 219.4 128.1 219.4 128.1 219.4 128.2 206.8 128.3 219.4 128.3 219.4 128.4 205.4 128.5 219.4 128.5 219.4 128.6 219.4 128.7 219.4 128.7 216.3 128.8 209.1 128.8 219.4 128.9 219.4 129.0 217.7 129.0 219.4 129.1 219.4 129.2 215.2 129.2 219.4 129.3 219.4 129.3 210.4 129.4 219.4 129.5 219.4 129.5 219.4 129.6 219.4 129.7 207.8 129.7 219.4 129.8 212.8 129.8 214.2 129.9 217.2 130.0 215.9 130.0 219.4 130.1 219.4 130.2 208.2 130.2 219.4 130.3 219.4 130.3 219.4 130.4 219.4 130.5 218.6 130.5 209.7 130.6 219.4 130.7 219.4 130.7 219.4 130.8 211.4 130.8 211.4 130.9 211.0 131.0 206.5 131.0 219.4 131.1 211.9 131.2 219.4 131.2 212.5 131.3 211.7 131.3 212.4 131.4 211.7 131.5 219.4 131.5 219.4 131.6 211.9 131.7 219.4 131.7 212.3 131.8 219.4 131.8 216.3 131.9 217.0 132.0 219.4 132.0 219.4 132.1 210.7 132.2 219.4 132.2 214.0 132.3 219.4 132.3 219.4 132.4 219.4 132.5 219.4 132.5 208.7 132.6 213.7 132.7 219.4 132.7 219.4 132.8 219.4 132.8 215.1 132.9 219.4 133.0 219.4 133.0 212.4 133.1 219.4 133.2 219.4 133.2 219.4 133.3 219.4 133.3 208.4 133.4 219.4 133.5 219.4 133.5 213.6 133.6 219.4 133.7 219.4 133.7 219.4 133.8 219.4 133.9 213.2 133.9 209.0 134.0 216.7 134.0 208.3 134.1 219.4 134.2 219.4 134.2 212.3 134.3 219.4 134.4 219.4 134.4 219.4 134.5 219.4 134.5 219.4 134.6 219.4 134.7 219.4 134.7 219.4 134.8 213.6 134.9 219.4 134.9 213.6 135.0 219.4 135.0 218.6 135.1 219.4 135.2 219.4 135.2 209.8 135.3 213.9 135.4 219.4 135.4 219.4 135.5 207.0 135.5 219.4 135.6 203.5 135.7 215.6 135.7 215.3 135.8 219.4 135.9 219.4 135.9 219.4 136.0 211.1 136.0 219.4 136.1 219.4 136.2 219.4 136.2 219.4 136.3 219.4 136.4 219.4 136.4 219.4 136.5 219.4 136.5 219.4 136.6 219.4 136.7 219.4 136.7 219.4 136.8 217.1 136.9 219.4 136.9 219.4 137.0 213.9 137.0 219.4 137.1 209.0 137.2 219.4 137.2 219.4 137.3 219.4 137.4 207.2 137.4 208.3 137.5 219.4 137.5 211.2 137.6 219.4 137.7 209.8 137.7 219.4 137.8 219.4 137.9 219.4 137.9 219.4 138.0 219.4 138.0 219.4 138.1 219.4 138.2 208.4 138.2 219.4 138.3 219.4 138.4 211.7 138.4 210.4 138.5 209.2 138.6 219.4 138.6 219.4 138.7 219.4 138.7 219.4 138.8 213.5 138.9 219.4 138.9 219.4 139.0 213.4 139.1 214.1 139.1 219.4 139.2 213.5 139.2 212.1 139.3 219.4 139.4 219.4 139.4 216.5 139.5 219.4 139.6 219.4 139.6 219.4 139.7 205.8 139.7 219.4 139.8 212.2 139.9 219.4 139.9 218.6 140.0 212.3 140.1 219.4 140.1 219.4 140.2 207.4 140.2 219.4 140.3 212.0 140.4 219.4 140.4 207.9 140.5 219.4 140.6 219.4 140.6 219.4 140.7 219.4 140.7 219.4 140.8 208.0 140.9 206.0 140.9 206.8 141.0 212.7 141.1 219.4 141.1 219.4 141.2 219.4 141.2 219.4 141.3 214.4 141.4 219.4 141.4 219.4 141.5 219.4 141.6 214.1 141.6 219.4 141.7 219.4 141.7 219.4 141.8 219.4 141.9 219.4 141.9 219.4 142.0 219.4 142.1 213.3 142.1 212.7 142.2 219.4 142.2 219.4 142.3 208.1 142.4 219.4 142.4 213.2 142.5 219.4 142.6 217.2 142.6 207.6 142.7 219.4 142.7 210.1 142.8 214.9 142.9 219.4 142.9 219.4 143.0 219.4 143.1 209.7 143.1 210.7 143.2 219.4 143.2 216.3 143.3 219.4 143.4 219.4 143.4 205.7 143.5 219.4 143.6 217.8 143.6 219.4 143.7 219.4 143.8 219.4 143.8 219.4 143.9 219.4 143.9 219.4 144.0 219.4 144.1 219.4 144.1 205.8 144.2 219.4 144.3 219.4 144.3 219.4 144.4 215.2 144.4 219.4 144.5 219.4 144.6 211.2 144.6 218.8 144.7 208.3 144.8 212.6 144.8 219.4 144.9 219.4 144.9 219.4 145.0 219.4 145.1 210.0 145.1 219.4 145.2 219.4 145.3 219.4 145.3 213.0 145.4 203.7 145.4 219.4 145.5 219.4 145.6 219.4 145.6 219.4 145.7 211.6 145.8 219.4 145.8 219.4 145.9 209.0 145.9 207.0 146.0 212.7 146.1 219.4 146.1 219.4 146.2 209.3 146.3 219.4 146.3 219.4 146.4 219.4 146.4 206.4 146.5 219.4 146.6 219.4 146.6 219.4 146.7 219.4 146.8 219.4 146.8 210.4 146.9 219.4 146.9 208.5 147.0 219.4 147.1 216.6 147.1 211.5 147.2 219.4 147.3 219.4 147.3 219.4 147.4 219.4 147.4 219.4 147.5 219.4 147.6 219.4 147.6 219.4 147.7 214.5 147.8 208.3 147.8 208.9 147.9 219.4 147.9 219.4 148.0 206.3 148.1 209.6 148.1 214.8 148.2 219.4" fill="none" stroke="#ff0a84" stroke-width="0.6" stroke-linejoin="bevel"/>
<clipPath id="k5"><rect x="21.2" y="123.5" width="127.00" height="92.90"/></clipPath>
<path clip-path="url(#k5)" d="M21.0 219.4 21.1 219.4 21.1 219.4 21.2 219.4 21.3 212.4 21.3 219.4 21.4 219.4 21.4 219.4 21.5 215.5 21.6 209.7 21.6 219.4 21.7 219.4 21.8 219.4 21.8 209.9 21.9 219.4 21.9 219.4 22.0 219.4 22.1 219.4 22.1 219.4 22.2 219.4 22.3 219.4 22.3 217.7 22.4 219.4 22.4 219.4 22.5 219.4 22.6 214.7 22.6 219.4 22.7 219.4 22.8 219.4 22.8 219.4 22.9 219.4 22.9 219.4 23.0 219.4 23.1 219.4 23.1 219.4 23.2 219.4 23.3 219.4 23.3 219.4 23.4 219.4 23.4 219.4 23.5 212.2 23.6 215.8 23.6 219.4 23.7 219.4 23.8 219.4 23.8 219.4 23.9 219.4 23.9 219.4 24.0 219.4 24.1 219.4 24.1 213.7 24.2 219.4 24.3 215.6 24.3 219.4 24.4 219.4 24.4 219.4 24.5 210.6 24.6 217.5 24.6 206.8 24.7 216.6 24.8 214.6 24.8 214.6 24.9 219.4 24.9 219.4 25.0 211.1 25.1 219.4 25.1 219.4 25.2 219.4 25.3 217.0 25.3 219.4 25.4 219.4 25.4 219.4 25.5 219.4 25.6 219.4 25.6 214.2 25.7 219.4 25.8 219.4 25.8 219.4 25.9 213.6 26.0 219.4 26.0 219.4 26.1 219.4 26.1 219.4 26.2 219.4 26.3 219.4 26.3 217.0 26.4 219.4 26.5 219.4 26.5 219.4 26.6 219.4 26.6 219.4 26.7 211.2 26.8 219.4 26.8 219.4 26.9 219.4 27.0 219.4 27.0 219.4 27.1 219.4 27.1 219.4 27.2 219.4 27.3 219.4 27.3 219.4 27.4 219.4 27.5 219.4 27.5 219.4 27.6 208.6 27.6 218.8 27.7 219.4 27.8 209.3 27.8 219.4 27.9 219.4 28.0 214.1 28.0 219.4 28.1 219.4 28.1 219.4 28.2 219.4 28.3 219.4 28.3 212.9 28.4 219.4 28.5 219.4 28.5 208.7 28.6 219.4 28.6 219.4 28.7 219.4 28.8 219.4 28.8 219.4 28.9 219.4 29.0 219.4 29.0 219.4 29.1 219.4 29.1 215.8 29.2 219.4 29.3 214.4 29.3 219.1 29.4 218.7 29.5 208.9 29.5 216.9 29.6 219.4 29.6 215.9 29.7 219.4 29.8 219.4 29.8 215.1 29.9 216.8 30.0 210.1 30.0 219.4 30.1 219.4 30.1 208.4 30.2 212.7 30.3 219.4 30.3 211.0 30.4 219.4 30.5 219.4 30.5 219.4 30.6 219.4 30.6 209.9 30.7 219.4 30.8 219.4 30.8 219.4 30.9 219.4 31.0 219.4 31.0 219.4 31.1 212.8 31.2 214.9 31.2 160.5 31.3 161.4 31.3 162.1 31.4 163.2 31.5 164.1 31.5 165.2 31.6 165.3 31.7 166.4 31.7 167.8 31.8 168.2 31.8 169.0 31.9 171.0 32.0 171.3 32.0 172.2 32.1 172.7 32.2 173.9 32.2 174.8 32.3 175.6 32.3 175.1 32.4 175.3 32.5 176.8 32.5 177.3 32.6 176.1 32.7 178.0 32.7 178.2 32.8 178.2 32.8 178.3 32.9 178.4 33.0 179.0 33.0 180.0 33.1 179.6 33.2 180.1 33.2 179.5 33.3 180.9 33.3 182.1 33.4 182.2 33.5 181.0 33.5 182.6 33.6 184.1 33.7 183.3 33.7 183.2 33.8 182.5 33.8 184.3 33.9 183.2 34.0 183.3 34.0 184.6 34.1 184.3 34.2 183.1 34.2 183.3 34.3 184.1 34.3 184.6 34.4 184.2 34.5 185.3 34.5 185.4 34.6 186.3 34.7 185.7 34.7 185.9 34.8 184.0 34.8 186.4 34.9 185.3 35.0 185.4 35.0 186.9 35.1 185.9 35.2 189.4 35.2 187.1 35.3 186.6 35.3 190.3 35.4 188.9 35.5 186.9 35.5 188.3 35.6 189.4 35.7 188.8 35.7 189.1 35.8 188.0 35.9 188.4 35.9 189.4 36.0 190.0 36.0 189.5 36.1 188.2 36.2 189.4 36.2 189.2 36.3 190.2 36.4 191.8 36.4 191.1 36.5 189.6 36.5 190.3 36.6 191.6 36.7 192.8 36.7 190.5 36.8 191.2 36.9 191.3 36.9 191.3 37.0 190.7 37.0 190.7 37.1 190.1 37.2 190.2 37.2 189.8 37.3 190.5 37.4 192.0 37.4 191.7 37.5 191.1 37.5 192.2 37.6 191.2 37.7 190.6 37.7 193.2 37.8 195.0 37.9 190.8 37.9 192.3 38.0 191.5 38.0 194.6 38.1 190.5 38.2 191.7 38.2 193.0 38.3 193.4 38.4 192.8 38.4 193.3 38.5 193.5 38.5 195.1 38.6 191.7 38.7 193.5 38.7 193.4 38.8 193.4 38.9 198.5 38.9 193.0 39.0 194.4 39.0 194.4 39.1 193.9 39.2 195.8 39.2 193.0 39.3 195.5 39.4 196.0 39.4 196.0 39.5 194.3 39.5 193.5 39.6 195.8 39.7 197.8 39.7 193.3 39.8 197.0 39.9 193.3 39.9 195.3 40.0 196.5 40.0 196.5 40.1 194.7 40.2 194.1 40.2 196.0 40.3 194.2 40.4 192.8 40.4 196.3 40.5 198.4 40.5 198.3 40.6 199.2 40.7 197.5 40.7 197.8 40.8 199.4 40.9 195.6 40.9 204.7 41.0 199.7 41.1 193.6 41.1 195.1 41.2 196.0 41.2 196.1 41.3 194.2 41.4 196.1 41.4 197.0 41.5 200.2 41.6 197.5 41.6 199.0 41.7 199.1 41.7 199.2 41.8 197.7 41.9 198.4 41.9 196.1 42.0 201.3 42.1 198.3 42.1 194.8 42.2 197.9 42.2 195.9 42.3 196.1 42.4 195.8 42.4 196.9 42.5 202.2 42.6 199.1 42.6 199.4 42.7 203.2 42.7 199.8 42.8 202.3 42.9 204.0 42.9 198.4 43.0 199.0 43.1 200.8 43.1 201.7 43.2 200.5 43.2 200.2 43.3 200.3 43.4 199.5 43.4 200.5 43.5 198.6 43.6 198.4 43.6 198.8 43.7 201.5 43.7 201.5 43.8 198.8 43.9 200.4 43.9 200.1 44.0 213.7 44.1 218.7 44.1 199.4 44.2 199.5 44.2 197.4 44.3 198.7 44.4 199.9 44.4 200.5 44.5 205.8 44.6 198.7 44.6 202.6 44.7 199.6 44.7 200.4 44.8 200.3 44.9 198.9 44.9 202.6 45.0 202.3 45.1 204.1 45.1 202.4 45.2 197.8 45.2 202.5 45.3 198.7 45.4 199.5 45.4 199.8 45.5 199.7 45.6 205.5 45.6 200.8 45.7 198.3 45.8 204.4 45.8 202.2 45.9 204.5 45.9 201.3 46.0 206.5 46.1 198.5 46.1 203.6 46.2 209.9 46.3 198.4 46.3 200.0 46.4 201.1 46.4 201.2 46.5 204.0 46.6 203.6 46.6 200.9 46.7 200.5 46.8 200.5 46.8 202.4 46.9 204.8 46.9 203.9 47.0 200.3 47.1 199.6 47.1 204.6 47.2 205.3 47.3 200.2 47.3 201.5 47.4 201.6 47.4 210.7 47.5 205.2 47.6 205.9 47.6 203.2 47.7 216.0 47.8 200.5 47.8 203.1 47.9 202.8 47.9 210.6 48.0 204.4 48.1 200.6 48.1 215.7 48.2 203.5 48.3 202.3 48.3 207.8 48.4 202.1 48.4 206.1 48.5 201.2 48.6 203.1 48.6 204.2 48.7 199.7 48.8 202.4 48.8 201.3 48.9 212.7 48.9 208.5 49.0 202.6 49.1 202.4 49.1 205.6 49.2 202.8 49.3 211.8 49.3 204.7 49.4 212.9 49.4 204.3 49.5 207.9 49.6 208.8 49.6 205.4 49.7 200.5 49.8 211.8 49.8 208.7 49.9 202.3 49.9 207.8 50.0 200.7 50.1 204.9 50.1 205.5 50.2 204.5 50.3 200.8 50.3 203.6 50.4 204.0 50.5 205.0 50.5 219.4 50.6 211.3 50.6 201.5 50.7 203.2 50.8 204.2 50.8 203.8 50.9 209.0 51.0 204.8 51.0 211.7 51.1 204.7 51.1 210.3 51.2 207.3 51.3 204.5 51.3 207.9 51.4 203.9 51.5 204.6 51.5 205.0 51.6 202.1 51.6 219.4 51.7 219.4 51.8 204.2 51.8 203.2 51.9 200.7 52.0 203.8 52.0 203.6 52.1 212.4 52.1 203.9 52.2 204.1 52.3 214.5 52.3 212.7 52.4 207.3 52.5 205.6 52.5 219.4 52.6 206.5 52.6 205.9 52.7 207.8 52.8 205.8 52.8 205.1 52.9 214.5 53.0 205.3 53.0 208.3 53.1 213.9 53.1 206.2 53.2 202.2 53.3 219.4 53.3 219.4 53.4 219.4 53.5 201.1 53.5 208.6 53.6 207.6 53.6 212.6 53.7 214.4 53.8 219.4 53.8 206.6 53.9 206.2 54.0 219.4 54.0 216.1 54.1 212.5 54.1 207.6 54.2 206.4 54.3 203.4 54.3 202.8 54.4 203.6 54.5 202.9 54.5 219.1 54.6 211.2 54.6 203.5 54.7 206.4 54.8 207.7 54.8 219.4 54.9 219.4 55.0 204.8 55.0 206.3 55.1 209.6 55.1 210.4 55.2 219.4 55.3 206.3 55.3 204.0 55.4 202.4 55.5 207.8 55.5 209.2 55.6 219.1 55.7 203.5 55.7 202.3 55.8 212.4 55.8 206.8 55.9 207.8 56.0 212.2 56.0 219.4 56.1 210.6 56.2 205.6 56.2 219.4 56.3 215.4 56.3 219.4 56.4 203.5 56.5 206.2 56.5 208.3 56.6 210.2 56.7 213.3 56.7 209.0 56.8 210.5 56.8 210.1 56.9 208.8 57.0 208.0 57.0 203.0 57.1 219.4 57.2 207.4 57.2 213.5 57.3 219.4 57.3 219.4 57.4 206.1 57.5 219.4 57.5 215.4 57.6 206.7 57.7 219.4 57.7 208.9 57.8 209.5 57.8 205.5 57.9 204.8 58.0 217.7 58.0 205.2 58.1 209.8 58.2 208.6 58.2 210.6 58.3 205.7 58.3 219.4 58.4 207.9 58.5 204.4 58.5 211.3 58.6 202.2 58.7 216.2 58.7 208.3 58.8 213.2 58.8 214.7 58.9 219.4 59.0 213.9 59.0 209.9 59.1 217.7 59.2 205.6 59.2 203.6 59.3 219.4 59.3 205.8 59.4 208.7 59.5 208.4 59.5 201.5 59.6 204.6 59.7 208.0 59.7 208.8 59.8 219.4 59.8 206.1 59.9 217.2 60.0 208.8 60.0 209.3 60.1 205.5 60.2 202.5 60.2 205.4 60.3 204.5 60.4 211.6 60.4 207.5 60.5 206.2 60.5 219.4 60.6 202.5 60.7 217.1 60.7 219.4 60.8 203.6 60.9 202.4 60.9 217.1 61.0 215.7 61.0 200.4 61.1 209.5 61.2 219.4 61.2 215.9 61.3 202.7 61.4 206.9 61.4 206.5 61.5 204.8 61.5 206.8 61.6 212.9 61.7 219.4 61.7 207.9 61.8 219.4 61.9 210.8 61.9 203.4 62.0 207.5 62.0 210.0 62.1 210.0 62.2 206.7 62.2 206.0 62.3 219.4 62.4 209.4 62.4 203.6 62.5 206.7 62.5 219.4 62.6 217.7 62.7 219.4 62.7 219.4 62.8 203.9 62.9 211.1 62.9 219.4 63.0 216.3 63.0 211.5 63.1 211.5 63.2 213.7 63.2 219.4 63.3 207.3 63.4 204.2 63.4 216.4 63.5 216.1 63.5 205.3 63.6 219.4 63.7 216.9 63.7 214.2 63.8 209.8 63.9 213.2 63.9 219.4 64.0 209.1 64.0 219.4 64.1 219.4 64.2 219.4 64.2 207.1 64.3 219.4 64.4 208.4 64.4 207.4 64.5 206.9 64.5 212.5 64.6 216.8 64.7 210.6 64.7 217.6 64.8 219.4 64.9 205.3 64.9 219.4 65.0 203.8 65.1 208.3 65.1 215.7 65.2 208.7 65.2 205.5 65.3 219.4 65.4 219.4 65.4 219.4 65.5 210.3 65.6 208.9 65.6 211.2 65.7 219.4 65.7 217.1 65.8 205.7 65.9 205.9 65.9 210.6 66.0 219.4 66.1 207.9 66.1 209.7 66.2 209.9 66.2 204.1 66.3 207.1 66.4 219.4 66.4 219.4 66.5 205.2 66.6 210.3 66.6 206.9 66.7 212.6 66.7 219.4 66.8 209.6 66.9 204.5 66.9 209.3 67.0 219.4 67.1 214.1 67.1 216.3 67.2 210.2 67.2 206.2 67.3 203.4 67.4 209.8 67.4 215.2 67.5 210.8 67.6 211.2 67.6 215.2 67.7 211.2 67.7 211.3 67.8 219.4 67.9 208.2 67.9 214.6 68.0 219.4 68.1 208.5 68.1 216.2 68.2 204.1 68.2 208.6 68.3 211.0 68.4 219.4 68.4 215.4 68.5 207.1 68.6 219.4 68.6 207.5 68.7 219.4 68.7 210.4 68.8 207.3 68.9 209.6 68.9 211.8 69.0 206.6 69.1 219.4 69.1 219.4 69.2 211.1 69.2 205.9 69.3 209.2 69.4 213.6 69.4 209.9 69.5 209.2 69.6 219.4 69.6 219.4 69.7 219.4 69.7 219.4 69.8 219.0 69.9 219.4 69.9 219.4 70.0 209.3 70.1 211.4 70.1 212.3 70.2 204.6 70.3 217.0 70.3 215.9 70.4 205.8 70.4 219.4 70.5 219.4 70.6 205.7 70.6 209.9 70.7 208.5 70.8 208.3 70.8 207.2 70.9 217.3 70.9 212.8 71.0 219.4 71.1 211.1 71.1 210.5 71.2 217.0 71.3 208.2 71.3 201.7 71.4 219.4 71.4 207.5 71.5 207.1 71.6 206.6 71.6 219.4 71.7 206.1 71.8 208.3 71.8 213.2 71.9 215.4 71.9 210.4 72.0 207.1 72.1 207.3 72.1 203.1 72.2 215.5 72.3 208.4 72.3 216.5 72.4 207.7 72.4 211.2 72.5 219.3 72.6 219.4 72.6 219.4 72.7 210.5 72.8 205.3 72.8 207.8 72.9 219.4 72.9 217.6 73.0 212.0 73.1 213.5 73.1 212.0 73.2 208.0 73.3 211.2 73.3 219.4 73.4 219.4 73.4 216.8 73.5 219.4 73.6 214.8 73.6 210.9 73.7 219.4 73.8 215.0 73.8 217.9 73.9 204.6 73.9 210.4 74.0 219.4 74.1 210.6 74.1 210.9 74.2 216.6 74.3 219.4 74.3 209.9 74.4 209.6 74.4 211.0 74.5 219.4 74.6 218.0 74.6 219.4 74.7 219.4 74.8 219.4 74.8 219.4 74.9 219.4 75.0 203.5 75.0 210.9 75.1 219.4 75.1 219.4 75.2 219.4 75.3 219.4 75.3 219.4 75.4 209.8 75.5 219.4 75.5 211.6 75.6 202.3 75.6 213.0 75.7 214.4 75.8 212.4 75.8 219.4 75.9 219.4 76.0 219.1 76.0 207.9 76.1 219.4 76.1 219.4 76.2 219.4 76.3 219.4 76.3 215.7 76.4 211.5 76.5 211.5 76.5 207.7 76.6 218.8 76.6 209.3 76.7 212.5 76.8 209.9 76.8 219.4 76.9 207.4 77.0 219.4 77.0 219.4 77.1 209.4 77.1 219.4 77.2 205.5 77.3 213.6 77.3 219.4 77.4 213.7 77.5 219.4 77.5 206.2 77.6 206.0 77.6 209.7 77.7 219.4 77.8 214.4 77.8 208.2 77.9 219.4 78.0 219.4 78.0 209.2 78.1 209.8 78.1 218.9 78.2 219.4 78.3 219.4 78.3 207.8 78.4 217.2 78.5 219.4 78.5 219.4 78.6 219.4 78.6 206.0 78.7 210.2 78.8 219.4 78.8 205.5 78.9 207.3 79.0 219.4 79.0 219.4 79.1 208.9 79.1 219.4 79.2 217.9 79.3 219.4 79.3 207.7 79.4 206.9 79.5 209.8 79.5 218.4 79.6 213.5 79.6 210.9 79.7 219.4 79.8 207.8 79.8 219.4 79.9 213.6 80.0 214.8 80.0 209.4 80.1 208.7 80.2 204.7 80.2 219.4 80.3 219.4 80.3 215.0 80.4 219.4 80.5 209.7 80.5 219.4 80.6 215.0 80.7 209.3 80.7 209.0 80.8 214.3 80.8 207.3 80.9 207.8 81.0 219.4 81.0 213.0 81.1 214.7 81.2 219.4 81.2 219.4 81.3 216.2 81.3 212.9 81.4 213.8 81.5 207.6 81.5 209.2 81.6 219.4 81.7 219.4 81.7 210.0 81.8 219.4 81.8 215.0 81.9 212.3 82.0 209.1 82.0 212.1 82.1 207.4 82.2 219.4 82.2 211.1 82.3 219.4 82.3 215.0 82.4 215.7 82.5 219.4 82.5 219.4 82.6 209.6 82.7 213.5 82.7 215.7 82.8 219.4 82.8 219.4 82.9 212.8 83.0 217.3 83.0 208.7 83.1 216.1 83.2 219.4 83.2 211.8 83.3 219.4 83.3 215.1 83.4 219.4 83.5 219.4 83.5 212.3 83.6 219.4 83.7 218.5 83.7 212.1 83.8 217.2 83.8 206.5 83.9 219.4 84.0 219.4 84.0 219.4 84.1 219.4 84.2 219.4 84.2 212.7 84.3 219.4 84.3 208.1 84.4 219.4 84.5 219.4 84.5 209.7 84.6 215.1 84.7 207.3 84.7 219.4 84.8 213.6 84.9 211.8 84.9 212.7 85.0 209.2 85.0 209.8 85.1 218.3 85.2 219.4 85.2 210.1 85.3 218.0 85.4 210.2 85.4 208.3 85.5 215.9 85.5 219.4 85.6 219.4 85.7 211.1 85.7 219.4 85.8 209.0 85.9 217.8 85.9 216.5 86.0 219.4 86.0 219.4 86.1 209.4 86.2 219.4 86.2 219.4 86.3 219.4 86.4 211.2 86.4 219.4 86.5 219.4 86.5 210.5 86.6 208.1 86.7 219.4 86.7 210.3 86.8 219.4 86.9 211.5 86.9 215.3 87.0 219.4 87.0 219.4 87.1 219.4 87.2 215.8 87.2 214.7 87.3 217.7 87.4 211.6 87.4 212.1 87.5 219.4 87.5 219.4 87.6 219.4 87.7 210.2 87.7 219.4 87.8 210.3 87.9 218.3 87.9 205.3 88.0 219.4 88.0 219.4 88.1 219.4 88.2 217.6 88.2 205.2 88.3 219.4 88.4 219.4 88.4 219.4 88.5 212.5 88.5 219.4 88.6 211.7 88.7 212.0 88.7 219.4 88.8 219.4 88.9 219.4 88.9 219.4 89.0 219.4 89.0 209.4 89.1 207.8 89.2 219.4 89.2 219.4 89.3 219.4 89.4 219.4 89.4 215.8 89.5 216.6 89.6 218.8 89.6 211.7 89.7 219.4 89.7 219.4 89.8 208.0 89.9 219.4 89.9 219.4 90.0 219.4 90.1 219.4 90.1 219.4 90.2 219.4 90.2 219.4 90.3 219.4 90.4 213.8 90.4 219.4 90.5 219.3 90.6 219.4 90.6 219.4 90.7 219.4 90.7 211.5 90.8 216.1 90.9 210.6 90.9 211.2 91.0 210.5 91.1 219.4 91.1 209.9 91.2 212.7 91.2 206.6 91.3 214.1 91.4 216.9 91.4 219.4 91.5 219.3 91.6 219.4 91.6 219.4 91.7 219.4 91.7 211.3 91.8 219.4 91.9 219.4 91.9 207.5 92.0 219.4 92.1 212.3 92.1 219.4 92.2 219.4 92.2 215.5 92.3 212.1 92.4 219.4 92.4 219.4 92.5 208.8 92.6 219.2 92.6 212.7 92.7 211.9 92.7 213.0 92.8 219.4 92.9 219.4 92.9 219.4 93.0 219.4 93.1 219.4 93.1 219.4 93.2 207.5 93.2 213.6 93.3 219.4 93.4 219.4 93.4 213.4 93.5 208.9 93.6 219.4 93.6 216.2 93.7 219.4 93.7 219.4 93.8 219.4 93.9 219.4 93.9 219.4 94.0 219.4 94.1 209.6 94.1 211.4 94.2 219.4 94.2 218.3 94.3 219.4 94.4 219.4 94.4 219.4 94.5 219.4 94.6 219.4 94.6 219.4 94.7 219.4 94.8 219.4 94.8 219.4 94.9 219.4 94.9 207.6 95.0 219.4 95.1 219.4 95.1 216.5 95.2 211.6 95.3 207.8 95.3 211.9 95.4 219.4 95.4 219.4 95.5 211.5 95.6 218.9 95.6 213.2 95.7 219.4 95.8 208.8 95.8 209.5 95.9 211.1 95.9 219.4 96.0 219.4 96.1 219.4 96.1 217.9 96.2 214.3 96.3 219.4 96.3 219.4 96.4 211.0 96.4 212.1 96.5 219.4 96.6 214.5 96.6 219.4 96.7 219.4 96.8 211.2 96.8 211.1 96.9 219.4 96.9 219.4 97.0 219.4 97.1 219.4 97.1 210.1 97.2 207.8 97.3 219.4 97.3 211.6 97.4 219.4 97.4 219.4 97.5 212.4 97.6 218.2 97.6 219.4 97.7 219.4 97.8 219.4 97.8 219.4 97.9 219.4 97.9 219.4 98.0 219.4 98.1 219.4 98.1 219.4 98.2 215.8 98.3 219.4 98.3 219.4 98.4 219.4 98.4 212.6 98.5 219.4 98.6 219.4 98.6 219.4 98.7 219.0 98.8 215.5 98.8 210.8 98.9 219.4 98.9 210.0 99.0 219.4 99.1 219.4 99.1 219.4 99.2 216.0 99.3 211.9 99.3 219.4 99.4 219.4 99.5 219.4 99.5 219.4 99.6 219.4 99.6 219.4 99.7 219.4 99.8 219.4 99.8 219.4 99.9 217.1 100.0 212.6 100.0 219.4 100.1 218.9 100.1 219.4 100.2 219.4 100.3 219.4 100.3 213.1 100.4 215.6 100.5 209.9 100.5 219.4 100.6 219.4 100.6 219.4 100.7 219.4 100.8 219.4 100.8 214.9 100.9 219.4 101.0 215.2 101.0 219.4 101.1 215.7 101.1 219.4 101.2 219.4 101.3 219.4 101.3 218.4 101.4 219.4 101.5 219.4 101.5 219.4 101.6 219.4 101.6 219.4 101.7 219.4 101.8 219.4 101.8 219.2 101.9 219.4 102.0 212.4 102.0 211.4 102.1 206.6 102.1 219.4 102.2 219.4 102.3 212.1 102.3 219.4 102.4 219.4 102.5 219.4 102.5 211.9 102.6 211.0 102.6 219.4 102.7 219.4 102.8 219.4 102.8 219.4 102.9 219.3 103.0 219.4 103.0 208.7 103.1 219.4 103.1 219.4 103.2 219.4 103.3 211.9 103.3 219.4 103.4 218.4 103.5 219.4 103.5 219.4 103.6 211.4 103.6 216.6 103.7 210.3 103.8 219.4 103.8 215.3 103.9 219.4 104.0 216.0 104.0 219.4 104.1 208.9 104.1 219.4 104.2 208.9 104.3 219.4 104.3 213.4 104.4 219.4 104.5 217.4 104.5 209.8 104.6 219.4 104.7 219.4 104.7 219.4 104.8 215.2 104.8 219.4 104.9 212.6 105.0 211.9 105.0 219.4 105.1 219.4 105.2 213.7 105.2 219.4 105.3 219.4 105.3 219.4 105.4 216.1 105.5 211.7 105.5 219.4 105.6 219.4 105.7 212.9 105.7 216.3 105.8 219.4 105.8 210.6 105.9 219.4 106.0 219.4 106.0 219.4 106.1 219.4 106.2 219.4 106.2 219.4 106.3 206.3 106.3 215.3 106.4 218.8 106.5 209.1 106.5 212.4 106.6 219.4 106.7 219.4 106.7 214.4 106.8 219.4 106.8 219.4 106.9 219.4 107.0 218.6 107.0 219.4 107.1 219.4 107.2 219.4 107.2 219.4 107.3 210.7 107.3 219.4 107.4 219.4 107.5 213.2 107.5 219.4 107.6 208.6 107.7 219.4 107.7 219.4 107.8 219.4 107.8 219.4 107.9 219.4 108.0 219.4 108.0 219.4 108.1 219.4 108.2 219.4 108.2 218.5 108.3 218.4 108.3 219.4 108.4 219.4 108.5 219.4 108.5 219.4 108.6 219.4 108.7 219.4 108.7 219.4 108.8 219.4 108.8 219.4 108.9 208.0 109.0 219.4 109.0 219.4 109.1 212.2 109.2 219.4 109.2 219.4 109.3 212.1 109.4 219.4 109.4 219.4 109.5 219.4 109.5 213.6 109.6 219.4 109.7 219.4 109.7 219.4 109.8 219.4 109.9 219.4 109.9 219.4 110.0 218.7 110.0 215.5 110.1 219.4 110.2 219.4 110.2 212.0 110.3 219.4 110.4 219.4 110.4 213.8 110.5 219.4 110.5 211.2 110.6 208.4 110.7 209.8 110.7 218.8 110.8 213.2 110.9 219.4 110.9 219.4 111.0 218.6 111.0 219.4 111.1 219.4 111.2 219.4 111.2 219.4 111.3 219.4 111.4 219.4 111.4 207.9 111.5 215.5 111.5 219.4 111.6 214.0 111.7 216.4 111.7 219.4 111.8 219.4 111.9 219.4 111.9 219.4 112.0 209.6 112.0 219.4 112.1 219.4 112.2 215.1 112.2 219.4 112.3 219.2 112.4 219.4 112.4 219.4 112.5 217.9 112.5 216.8 112.6 219.4 112.7 219.4 112.7 217.5 112.8 219.4 112.9 219.4 112.9 219.4 113.0 210.5 113.0 219.4 113.1 219.4 113.2 219.4 113.2 212.5 113.3 218.6 113.4 219.4 113.4 219.4 113.5 209.5 113.5 219.4 113.6 208.7 113.7 219.4 113.7 219.4 113.8 212.4 113.9 218.1 113.9 215.9 114.0 219.4 114.1 219.4 114.1 213.5 114.2 219.4 114.2 219.4 114.3 213.9 114.4 219.4 114.4 211.4 114.5 219.4 114.6 219.4 114.6 219.4 114.7 219.4 114.7 212.0 114.8 219.4 114.9 219.4 114.9 210.4 115.0 219.4 115.1 214.0 115.1 219.4 115.2 215.1 115.2 219.4 115.3 212.1 115.4 219.4 115.4 218.8 115.5 219.4 115.6 212.0 115.6 219.4 115.7 219.4 115.7 219.4 115.8 219.4 115.9 219.4 115.9 211.1 116.0 207.7 116.1 219.4 116.1 219.4 116.2 219.4 116.2 219.4 116.3 219.4 116.4 219.4 116.4 212.7 116.5 219.4 116.6 219.4 116.6 219.4 116.7 219.4 116.7 219.4 116.8 205.8 116.9 219.4 116.9 219.4 117.0 219.4 117.1 213.0 117.1 219.4 117.2 219.4 117.2 206.7 117.3 210.6 117.4 219.4 117.4 219.4 117.5 213.3 117.6 214.6 117.6 219.4 117.7 209.0 117.7 208.7 117.8 219.4 117.9 219.4 117.9 219.4 118.0 216.2 118.1 212.7 118.1 219.4 118.2 219.4 118.2 219.4 118.3 217.5 118.4 219.4 118.4 219.4 118.5 219.4 118.6 211.8 118.6 219.4 118.7 219.4 118.7 219.4 118.8 213.9 118.9 219.4 118.9 219.4 119.0 219.4 119.1 219.4 119.1 219.4 119.2 215.5 119.3 219.4 119.3 219.4 119.4 218.4 119.4 219.4 119.5 219.4 119.6 219.4 119.6 215.3 119.7 219.4 119.8 219.4 119.8 219.4 119.9 219.4 119.9 219.4 120.0 207.7 120.1 219.4 120.1 217.4 120.2 219.4 120.3 212.7 120.3 219.4 120.4 212.0 120.4 219.4 120.5 216.3 120.6 218.6 120.6 219.4 120.7 219.4 120.8 219.4 120.8 219.4 120.9 219.4 120.9 219.4 121.0 219.4 121.1 215.2 121.1 215.0 121.2 218.5 121.3 219.4 121.3 219.4 121.4 218.8 121.4 219.4 121.5 219.4 121.6 219.4 121.6 219.4 121.7 219.4 121.8 219.4 121.8 219.4 121.9 211.4 121.9 219.4 122.0 213.6 122.1 210.1 122.1 219.4 122.2 219.4 122.3 218.9 122.3 219.4 122.4 218.0 122.4 215.9 122.5 219.4 122.6 214.7 122.6 209.2 122.7 213.6 122.8 219.4 122.8 219.4 122.9 219.4 122.9 210.0 123.0 219.4 123.1 219.4 123.1 219.4 123.2 218.1 123.3 219.4 123.3 219.4 123.4 219.4 123.4 215.4 123.5 213.4 123.6 219.4 123.6 219.4 123.7 219.4 123.8 219.4 123.8 212.6 123.9 219.4 124.0 219.4 124.0 219.4 124.1 206.9 124.1 210.4 124.2 211.4 124.3 219.4 124.3 215.9 124.4 205.5 124.5 219.4 124.5 215.1 124.6 216.6 124.6 219.4 124.7 219.4 124.8 219.4 124.8 215.9 124.9 219.4 125.0 208.6 125.0 214.4 125.1 219.4 125.1 219.4 125.2 219.4 125.3 217.4 125.3 219.4 125.4 209.2 125.5 219.4 125.5 219.4 125.6 219.4 125.6 219.4 125.7 219.4 125.8 215.6 125.8 212.4 125.9 219.4 126.0 217.8 126.0 210.3 126.1 215.9 126.1 219.4 126.2 215.9 126.3 219.4 126.3 217.9 126.4 219.4 126.5 219.4 126.5 216.1 126.6 219.4 126.6 214.8 126.7 219.4 126.8 212.0 126.8 211.8 126.9 219.4 127.0 219.4 127.0 219.4 127.1 219.4 127.1 214.0 127.2 219.4 127.3 219.4 127.3 219.4 127.4 208.3 127.5 219.4 127.5 219.4 127.6 219.4 127.6 219.4 127.7 211.8 127.8 219.4 127.8 219.4 127.9 219.4 128.0 218.2 128.0 219.4 128.1 212.6 128.1 215.6 128.2 219.4 128.3 206.6 128.3 219.4 128.4 219.4 128.5 212.8 128.5 219.4 128.6 219.4 128.7 219.4 128.7 215.6 128.8 219.4 128.8 219.4 128.9 219.4 129.0 219.4 129.0 219.4 129.1 212.1 129.2 219.4 129.2 217.3 129.3 219.4 129.3 212.7 129.4 219.4 129.5 218.3 129.5 215.7 129.6 219.4 129.7 219.4 129.7 217.7 129.8 219.4 129.8 219.4 129.9 219.4 130.0 219.4 130.0 219.4 130.1 208.0 130.2 219.4 130.2 213.8 130.3 219.4 130.3 219.4 130.4 219.4 130.5 219.4 130.5 215.1 130.6 207.6 130.7 219.4 130.7 211.2 130.8 219.4 130.8 215.4 130.9 219.4 131.0 219.4 131.0 219.4 131.1 219.4 131.2 219.4 131.2 219.4 131.3 219.4 131.3 219.4 131.4 208.8 131.5 209.2 131.5 218.0 131.6 219.4 131.7 216.7 131.7 214.6 131.8 219.4 131.8 219.4 131.9 219.4 132.0 219.4 132.0 208.4 132.1 219.4 132.2 219.4 132.2 219.4 132.3 218.3 132.3 215.0 132.4 219.4 132.5 219.4 132.5 219.4 132.6 219.4 132.7 211.7 132.7 219.4 132.8 213.7 132.8 209.0 132.9 219.4 133.0 219.4 133.0 219.4 133.1 215.0 133.2 219.4 133.2 219.4 133.3 219.4 133.3 214.0 133.4 216.7 133.5 219.4 133.5 209.7 133.6 219.4 133.7 219.4 133.7 217.4 133.8 211.1 133.9 219.4 133.9 219.4 134.0 219.4 134.0 219.4 134.1 213.4 134.2 219.4 134.2 219.4 134.3 219.4 134.4 219.4 134.4 219.4 134.5 219.4 134.5 219.4 134.6 219.4 134.7 219.4 134.7 219.4 134.8 211.5 134.9 211.8 134.9 218.0 135.0 219.4 135.0 210.2 135.1 219.4 135.2 218.7 135.2 212.0 135.3 219.4 135.4 210.2 135.4 219.4 135.5 219.4 135.5 219.4 135.6 219.4 135.7 219.4 135.7 214.6 135.8 219.4 135.9 212.0 135.9 219.4 136.0 211.7 136.0 214.7 136.1 216.3 136.2 208.9 136.2 219.4 136.3 219.4 136.4 212.0 136.4 219.4 136.5 212.0 136.5 215.3 136.6 219.4 136.7 219.4 136.7 219.4 136.8 208.4 136.9 219.4 136.9 219.4 137.0 213.9 137.0 217.9 137.1 219.4 137.2 219.4 137.2 219.4 137.3 219.4 137.4 219.4 137.4 216.5 137.5 212.4 137.5 211.8 137.6 219.4 137.7 219.4 137.7 217.6 137.8 219.4 137.9 219.4 137.9 210.7 138.0 219.4 138.0 219.4 138.1 219.4 138.2 219.4 138.2 219.4 138.3 219.4 138.4 219.4 138.4 216.7 138.5 219.4 138.6 206.6 138.6 219.4 138.7 219.4 138.7 219.4 138.8 219.1 138.9 219.4 138.9 219.4 139.0 219.4 139.1 219.4 139.1 214.7 139.2 210.6 139.2 219.4 139.3 219.4 139.4 219.4 139.4 219.4 139.5 219.4 139.6 219.4 139.6 219.4 139.7 219.4 139.7 219.4 139.8 219.4 139.9 219.4 139.9 219.4 140.0 216.6 140.1 219.4 140.1 219.4 140.2 219.4 140.2 219.4 140.3 213.7 140.4 219.4 140.4 219.4 140.5 219.4 140.6 216.2 140.6 219.4 140.7 219.4 140.7 214.0 140.8 219.4 140.9 219.4 140.9 216.7 141.0 213.2 141.1 219.4 141.1 219.4 141.2 211.8 141.2 219.4 141.3 218.8 141.4 219.4 141.4 219.4 141.5 219.4 141.6 219.4 141.6 219.4 141.7 212.2 141.7 219.4 141.8 219.4 141.9 212.0 141.9 219.4 142.0 219.4 142.1 210.7 142.1 219.4 142.2 219.4 142.2 219.4 142.3 219.4 142.4 215.0 142.4 219.4 142.5 219.4 142.6 219.4 142.6 212.0 142.7 213.0 142.7 219.4 142.8 219.4 142.9 219.4 142.9 219.4 143.0 219.4 143.1 219.4 143.1 219.4 143.2 209.0 143.2 219.4 143.3 219.4 143.4 219.4 143.4 219.4 143.5 212.6 143.6 217.9 143.6 210.7 143.7 211.4 143.8 217.8 143.8 219.4 143.9 219.4 143.9 219.4 144.0 219.4 144.1 219.4 144.1 219.4 144.2 219.4 144.3 219.4 144.3 217.5 144.4 206.2 144.4 219.4 144.5 219.4 144.6 208.1 144.6 219.4 144.7 219.4 144.8 219.4 144.8 219.4 144.9 219.4 144.9 219.4 145.0 217.1 145.1 206.4 145.1 219.4 145.2 219.4 145.3 219.4 145.3 219.4 145.4 219.4 145.4 210.1 145.5 219.4 145.6 219.4 145.6 219.4 145.7 219.4 145.8 219.4 145.8 210.1 145.9 219.4 145.9 219.4 146.0 209.6 146.1 219.4 146.1 219.4 146.2 209.6 146.3 219.4 146.3 213.6 146.4 219.4 146.4 219.4 146.5 219.4 146.6 210.6 146.6 219.4 146.7 219.4 146.8 215.5 146.8 219.4 146.9 219.4 146.9 215.0 147.0 219.4 147.1 219.4 147.1 212.7 147.2 214.6 147.3 219.4 147.3 215.4 147.4 219.4 147.4 219.4 147.5 219.4 147.6 219.4 147.6 207.8 147.7 219.4 147.8 219.4 147.8 219.4 147.9 219.4 147.9 219.4 148.0 219.4 148.1 219.4 148.1 218.6 148.2 216.4" fill="none" stroke="#ff8205" stroke-width="0.55" stroke-linejoin="bevel"/>
<clipPath id="k6"><rect x="21.2" y="123.5" width="127.00" height="92.90"/></clipPath>
<path clip-path="url(#k6)" d="M21.0 210.2 21.1 206.3 21.1 219.4 21.2 219.4 21.3 210.4 21.3 208.3 21.4 213.7 21.4 207.6 21.5 219.4 21.6 214.9 21.6 219.4 21.7 219.4 21.8 219.4 21.8 217.7 21.9 219.4 21.9 208.8 22.0 208.6 22.1 206.2 22.1 219.4 22.2 208.1 22.3 219.4 22.3 219.4 22.4 219.4 22.4 219.4 22.5 219.4 22.6 219.4 22.6 218.2 22.7 219.4 22.8 209.1 22.8 217.4 22.9 219.3 22.9 219.4 23.0 211.4 23.1 219.4 23.1 209.9 23.2 219.4 23.3 219.4 23.3 219.4 23.4 214.3 23.4 219.4 23.5 219.4 23.6 205.4 23.6 219.4 23.7 219.4 23.8 217.4 23.8 206.4 23.9 219.4 23.9 213.1 24.0 219.4 24.1 219.4 24.1 212.3 24.2 210.4 24.3 219.4 24.3 219.4 24.4 219.4 24.4 219.4 24.5 219.4 24.6 214.0 24.6 219.4 24.7 219.4 24.8 210.8 24.8 219.4 24.9 214.6 24.9 207.8 25.0 219.4 25.1 212.7 25.1 219.4 25.2 216.7 25.3 219.4 25.3 219.4 25.4 219.4 25.4 219.4 25.5 219.4 25.6 219.4 25.6 219.4 25.7 215.0 25.8 219.4 25.8 219.4 25.9 219.4 26.0 208.8 26.0 219.4 26.1 219.4 26.1 209.3 26.2 219.4 26.3 219.4 26.3 219.4 26.4 219.4 26.5 211.9 26.5 219.4 26.6 219.4 26.6 213.5 26.7 210.3 26.8 219.4 26.8 207.9 26.9 219.4 27.0 219.4 27.0 219.4 27.1 219.4 27.1 219.4 27.2 216.6 27.3 215.7 27.3 219.0 27.4 219.4 27.5 206.1 27.5 219.4 27.6 219.4 27.6 219.4 27.7 219.4 27.8 219.4 27.8 219.4 27.9 219.4 28.0 219.4 28.0 211.7 28.1 208.6 28.1 209.0 28.2 219.4 28.3 219.4 28.3 219.4 28.4 219.4 28.5 219.4 28.5 217.1 28.6 219.4 28.6 210.3 28.7 211.9 28.8 209.0 28.8 219.4 28.9 219.4 29.0 217.2 29.0 219.4 29.1 217.3 29.1 219.4 29.2 219.4 29.3 211.2 29.3 214.9 29.4 216.1 29.5 219.4 29.5 206.5 29.6 219.4 29.6 209.8 29.7 218.8 29.8 208.8 29.8 219.4 29.9 219.4 30.0 219.4 30.0 219.4 30.1 219.4 30.1 219.4 30.2 219.4 30.3 219.4 30.3 204.2 30.4 219.4 30.5 219.4 30.5 203.9 30.6 219.4 30.6 212.5 30.7 213.6 30.8 219.4 30.8 219.4 30.9 219.4 31.0 219.4 31.0 216.9 31.1 219.4 31.2 219.4 31.2 219.4 31.3 211.4 31.3 219.4 31.4 219.4 31.5 219.4 M31.5 124.4 31.5 158.7 31.6 159.7 31.7 161.3 31.7 162.6 31.8 163.8 31.8 165.2 31.9 166.3 32.0 167.6 32.0 168.8 32.1 169.3 32.2 169.4 32.2 169.5 32.3 170.1 32.3 170.0 32.4 170.5 32.5 171.2 32.5 171.0 32.6 172.2 32.7 171.8 32.7 171.9 32.8 173.0 32.8 173.3 32.9 173.2 33.0 173.4 33.0 174.1 33.1 174.5 33.2 174.6 33.2 175.2 33.3 176.2 33.3 176.1 33.4 176.3 33.5 177.4 33.5 176.8 33.6 177.7 33.7 177.4 33.7 178.8 33.8 178.9 33.8 179.6 33.9 178.4 34.0 178.8 34.0 179.0 34.1 179.3 34.2 180.0 34.2 180.3 34.3 182.3 34.3 181.3 34.4 182.2 34.5 182.4 34.5 183.2 34.6 181.6 34.7 182.5 34.7 183.8 34.8 182.5 34.8 183.0 34.9 183.9 35.0 183.4 35.0 183.9 35.1 185.4 35.2 184.8 35.2 183.4 35.3 183.6 35.3 183.8 35.4 185.1 35.5 184.7 35.5 184.3 35.6 184.0 35.7 185.3 35.7 185.7 35.8 184.0 35.9 184.9 35.9 185.4 36.0 185.9 36.0 185.9 36.1 184.2 36.2 184.8 36.2 186.1 36.3 187.0 36.4 184.6 36.4 184.8 36.5 185.2 36.5 185.6 36.6 188.4 36.7 187.9 36.7 186.2 36.8 187.1 36.9 186.7 36.9 187.6 37.0 187.9 37.0 186.8 37.1 187.8 37.2 187.6 37.2 187.4 37.3 187.6 37.4 186.8 37.4 186.7 37.5 189.6 37.5 188.4 37.6 188.9 37.7 187.6 37.7 189.6 37.8 187.7 37.9 187.8 37.9 188.0 38.0 189.9 38.0 189.1 38.1 190.2 38.2 188.6 38.2 188.1 38.3 191.1 38.4 190.2 38.4 189.5 38.5 190.0 38.5 187.9 38.6 189.7 38.7 189.4 38.7 191.2 38.8 188.2 38.9 189.7 38.9 189.1 39.0 190.0 39.0 193.3 39.1 192.5 39.2 192.1 39.2 189.8 39.3 191.2 39.4 190.1 39.4 190.3 39.5 190.4 39.5 189.7 39.6 190.7 39.7 193.5 39.7 192.0 39.8 189.3 39.9 192.8 39.9 189.7 40.0 189.5 40.0 192.3 40.1 191.1 40.2 193.9 40.2 190.8 40.3 193.0 40.4 194.0 40.4 192.6 40.5 192.8 40.5 193.1 40.6 192.0 40.7 192.6 40.7 193.5 40.8 191.2 40.9 189.7 40.9 192.6 41.0 193.9 41.1 194.5 41.1 192.1 41.2 193.4 41.2 193.1 41.3 197.3 41.4 195.4 41.4 195.6 41.5 192.2 41.6 194.1 41.6 199.6 41.7 193.1 41.7 192.3 41.8 192.2 41.9 201.7 41.9 194.1 42.0 193.2 42.1 193.6 42.1 195.1 42.2 198.9 42.2 195.7 42.3 195.6 42.4 194.1 42.4 194.1 42.5 195.7 42.6 194.0 42.6 197.8 42.7 197.0 42.7 195.8 42.8 194.8 42.9 196.6 42.9 193.9 43.0 195.4 43.1 198.4 43.1 196.2 43.2 198.5 43.2 198.9 43.3 200.5 43.4 194.3 43.4 195.2 43.5 201.6 43.6 195.0 43.6 195.4 43.7 198.2 43.7 196.4 43.8 193.7 43.9 197.0 43.9 196.8 44.0 195.6 44.1 200.8 44.1 201.8 44.2 202.5 44.2 198.4 44.3 196.4 44.4 200.8 44.4 202.9 44.5 198.0 44.6 199.6 44.6 197.3 44.7 199.1 44.7 199.3 44.8 199.1 44.9 198.9 44.9 202.1 45.0 202.9 45.1 196.0 45.1 193.9 45.2 197.0 45.2 206.1 45.3 199.5 45.4 197.0 45.4 206.6 45.5 201.4 45.6 201.2 45.6 203.2 45.7 203.0 45.8 197.8 45.8 201.8 45.9 201.1 45.9 196.7 46.0 203.7 46.1 211.7 46.1 199.1 46.2 196.4 46.3 200.3 46.3 200.2 46.4 206.9 46.4 205.0 46.5 197.7 46.6 198.2 46.6 199.8 46.7 204.0 46.8 207.1 46.8 206.3 46.9 207.3 46.9 200.0 47.0 205.2 47.1 203.9 47.1 200.0 47.2 200.2 47.3 202.1 47.3 200.8 47.4 202.4 47.4 219.4 47.5 202.9 47.6 204.4 47.6 204.2 47.7 202.0 47.8 205.4 47.8 199.4 47.9 203.8 47.9 202.5 48.0 202.1 48.1 204.0 48.1 201.2 48.2 200.9 48.3 201.4 48.3 207.2 48.4 208.8 48.4 206.8 48.5 203.8 48.6 219.4 48.6 208.9 48.7 212.1 48.8 207.9 48.8 210.0 48.9 201.5 48.9 202.7 49.0 201.2 49.1 211.3 49.1 209.4 49.2 206.2 49.3 199.6 49.3 199.6 49.4 208.5 49.4 202.5 49.5 198.7 49.6 213.0 49.6 206.2 49.7 200.7 49.8 202.5 49.8 213.2 49.9 200.3 49.9 201.8 50.0 202.8 50.1 219.1 50.1 206.6 50.2 201.0 50.3 203.7 50.3 202.7 50.4 207.5 50.5 200.7 50.5 207.5 50.6 202.4 50.6 204.7 50.7 215.0 50.8 200.9 50.8 219.4 50.9 212.1 51.0 205.7 51.0 219.4 51.1 219.4 51.1 207.3 51.2 209.6 51.3 208.5 51.3 204.4 51.4 199.4 51.5 209.8 51.5 199.1 51.6 205.8 51.6 207.7 51.7 219.4 51.8 219.4 51.8 205.9 51.9 204.6 52.0 216.0 52.0 205.9 52.1 203.5 52.1 212.5 52.2 219.4 52.3 219.4 52.3 210.1 52.4 206.3 52.5 204.1 52.5 219.4 52.6 207.9 52.6 210.1 52.7 208.0 52.8 203.2 52.8 202.6 52.9 212.6 53.0 214.5 53.0 216.0 53.1 213.5 53.1 212.2 53.2 209.9 53.3 213.5 53.3 219.4 53.4 219.4 53.5 208.4 53.5 199.9 53.6 205.7 53.6 205.4 53.7 206.9 53.8 210.4 53.8 201.0 53.9 212.0 54.0 219.4 54.0 219.4 54.1 208.1 54.1 219.4 54.2 219.4 54.3 219.4 54.3 219.4 54.4 208.4 54.5 219.4 54.5 200.6 54.6 219.4 54.6 219.4 54.7 209.4 54.8 207.2 54.8 213.5 54.9 208.0 55.0 208.7 55.0 209.1 55.1 206.4 55.1 208.4 55.2 211.0 55.3 211.5 55.3 205.1 55.4 212.0 55.5 206.6 55.5 202.7 55.6 207.7 55.7 204.0 55.7 215.6 55.8 208.5 55.8 207.1 55.9 208.8 56.0 207.3 56.0 203.4 56.1 214.3 56.2 219.4 56.2 208.4 56.3 219.4 56.3 211.2 56.4 204.4 56.5 211.3 56.5 207.3 56.6 208.3 56.7 204.4 56.7 207.7 56.8 209.7 56.8 219.4 56.9 219.4 57.0 206.8 57.0 213.4 57.1 219.4 57.2 206.0 57.2 219.4 57.3 217.1 57.3 207.2 57.4 219.4 57.5 210.8 57.5 212.8 57.6 219.4 57.7 219.4 57.7 219.1 57.8 219.4 57.8 205.6 57.9 213.5 58.0 219.4 58.0 219.4 58.1 219.3 58.2 204.9 58.2 219.2 58.3 207.6 58.3 209.5 58.4 219.4 58.5 219.4 58.5 209.1 58.6 219.4 58.7 208.9 58.7 219.4 58.8 207.3 58.8 219.4 58.9 215.8 59.0 206.4 59.0 219.4 59.1 213.9 59.2 219.4 59.2 209.6 59.3 208.2 59.3 211.5 59.4 212.3 59.5 219.4 59.5 209.1 59.6 219.4 59.7 213.3 59.7 212.7 59.8 219.4 59.8 219.4 59.9 212.5 60.0 215.6 60.0 205.8 60.1 219.4 60.2 212.7 60.2 206.6 60.3 214.2 60.4 208.3 60.4 215.3 60.5 216.7 60.5 207.7 60.6 219.4 60.7 219.4 60.7 210.5 60.8 214.2 60.9 214.4 60.9 212.4 61.0 209.6 61.0 219.4 61.1 210.8 61.2 212.2 61.2 219.4 61.3 219.4 61.4 212.8 61.4 219.4 61.5 207.3 61.5 219.4 61.6 208.6 61.7 205.4 61.7 219.4 61.8 219.4 61.9 210.2 61.9 219.4 62.0 210.8 62.0 204.5 62.1 219.4 62.2 208.4 62.2 219.4 62.3 219.4 62.4 211.3 62.4 213.4 62.5 207.3 62.5 212.9 62.6 208.5 62.7 210.9 62.7 219.4 62.8 219.4 62.9 219.4 62.9 208.4 63.0 219.4 63.0 214.6 63.1 219.4 63.2 219.4 63.2 219.4 63.3 210.2 63.4 219.4 63.4 208.4 63.5 212.5 63.5 213.3 63.6 219.4 63.7 219.4 63.7 211.8 63.8 217.9 63.9 219.4 63.9 219.4 64.0 212.6 64.0 207.5 64.1 209.1 64.2 219.4 64.2 210.1 64.3 219.4 64.4 219.4 64.4 219.4 64.5 205.7 64.5 210.3 64.6 214.1 64.7 219.4 64.7 207.0 64.8 219.4 64.9 212.2 64.9 207.8 65.0 219.4 65.1 211.7 65.1 219.4 65.2 211.3 65.2 219.4 65.3 213.0 65.4 214.4 65.4 212.3 65.5 203.2 65.6 219.4 65.6 212.6 65.7 219.4 65.7 210.1 65.8 214.3 65.9 217.6 65.9 219.4 66.0 219.4 66.1 213.9 66.1 219.4 66.2 208.1 66.2 219.4 66.3 212.7 66.4 219.4 66.4 212.8 66.5 219.4 66.6 210.1 66.6 207.4 66.7 219.4 66.7 218.0 66.8 215.6 66.9 206.3 66.9 219.4 67.0 211.6 67.1 219.4 67.1 219.4 67.2 219.4 67.2 219.4 67.3 208.1 67.4 219.4 67.4 208.6 67.5 219.4 67.6 211.0 67.6 219.4 67.7 219.4 67.7 217.3 67.8 219.4 67.9 219.4 67.9 219.4 68.0 210.3 68.1 219.4 68.1 219.4 68.2 213.8 68.2 219.4 68.3 209.3 68.4 208.3 68.4 219.4 68.5 208.6 68.6 211.2 68.6 215.4 68.7 211.1 68.7 206.7 68.8 204.7 68.9 205.8 68.9 219.4 69.0 207.1 69.1 219.4 69.1 209.5 69.2 211.0 69.2 209.0 69.3 219.4 69.4 206.6 69.4 207.4 69.5 216.7 69.6 219.4 69.6 214.9 69.7 219.4 69.7 219.4 69.8 219.4 69.9 203.4 69.9 219.4 70.0 219.4 70.1 217.7 70.1 209.5 70.2 219.4 70.3 219.4 70.3 210.0 70.4 216.7 70.4 208.0 70.5 219.4 70.6 219.4 70.6 209.9 70.7 219.4 70.8 219.4 70.8 219.4 70.9 219.4 70.9 219.4 71.0 211.2 71.1 210.3 71.1 215.3 71.2 212.0 71.3 219.4 71.3 219.4 71.4 209.4 71.4 203.9 71.5 214.8 71.6 219.4 71.6 219.4 71.7 208.4 71.8 209.1 71.8 219.4 71.9 219.4 71.9 207.5 72.0 207.4 72.1 219.4 72.1 219.4 72.2 214.6 72.3 219.4 72.3 219.4 72.4 219.4 72.4 208.4 72.5 209.2 72.6 214.6 72.6 219.4 72.7 219.4 72.8 219.4 72.8 219.4 72.9 209.8 72.9 219.4 73.0 219.4 73.1 219.4 73.1 219.4 73.2 219.4 73.3 219.4 73.3 219.4 73.4 219.4 73.4 211.9 73.5 219.4 73.6 219.4 73.6 219.4 73.7 219.4 73.8 208.4 73.8 219.4 73.9 219.4 73.9 211.5 74.0 215.6 74.1 208.2 74.1 219.4 74.2 208.3 74.3 219.4 74.3 219.4 74.4 214.5 74.4 215.3 74.5 219.4 74.6 211.7 74.6 219.4 74.7 219.4 74.8 219.4 74.8 209.8 74.9 215.2 75.0 219.4 75.0 219.4 75.1 219.4 75.1 209.3 75.2 219.4 75.3 219.4 75.3 216.4 75.4 213.4 75.5 219.4 75.5 207.6 75.6 219.4 75.6 219.4 75.7 219.4 75.8 209.0 75.8 219.4 75.9 217.6 76.0 215.4 76.0 207.9 76.1 209.7 76.1 210.0 76.2 217.9 76.3 219.4 76.3 218.0 76.4 219.4 76.5 216.1 76.5 209.3 76.6 211.9 76.6 219.4 76.7 219.4 76.8 219.4 76.8 219.4 76.9 219.4 77.0 214.9 77.0 214.3 77.1 213.4 77.1 209.7 77.2 219.4 77.3 219.4 77.3 213.9 77.4 211.3 77.5 219.4 77.5 219.4 77.6 208.9 77.6 212.3 77.7 215.0 77.8 219.4 77.8 219.4 77.9 219.4 78.0 217.2 78.0 214.3 78.1 210.8 78.1 219.4 78.2 208.3 78.3 219.4 78.3 216.7 78.4 219.4 78.5 219.4 78.5 219.4 78.6 219.4 78.6 219.4 78.7 217.0 78.8 208.2 78.8 219.4 78.9 219.4 79.0 217.3 79.0 219.4 79.1 219.4 79.1 219.4 79.2 219.4 79.3 219.4 79.3 219.4 79.4 205.5 79.5 209.3 79.5 203.6 79.6 219.4 79.6 219.4 79.7 219.4 79.8 219.4 79.8 219.4 79.9 219.4 80.0 219.4 80.0 219.4 80.1 219.4 80.2 219.4 80.2 219.4 80.3 219.4 80.3 219.4 80.4 219.4 80.5 218.2 80.5 204.5 80.6 217.1 80.7 210.8 80.7 219.4 80.8 219.4 80.8 219.4 80.9 219.4 81.0 215.0 81.0 219.4 81.1 207.5 81.2 219.4 81.2 216.0 81.3 219.4 81.3 219.4 81.4 212.9 81.5 219.4 81.5 208.4 81.6 219.4 81.7 219.4 81.7 205.4 81.8 219.4 81.8 219.4 81.9 214.6 82.0 213.6 82.0 219.4 82.1 204.6 82.2 219.4 82.2 219.4 82.3 210.8 82.3 219.4 82.4 219.4 82.5 211.9 82.5 219.4 82.6 219.4 82.7 219.4 82.7 211.3 82.8 219.4 82.8 207.5 82.9 216.9 83.0 219.4 83.0 219.4 83.1 214.0 83.2 208.7 83.2 211.1 83.3 209.3 83.3 219.4 83.4 212.3 83.5 219.4 83.5 210.0 83.6 219.4 83.7 206.8 83.7 219.4 83.8 219.4 83.8 219.4 83.9 211.5 84.0 217.5 84.0 209.9 84.1 219.4 84.2 209.8 84.2 202.7 84.3 208.5 84.3 213.3 84.4 219.4 84.5 213.2 84.5 209.5 84.6 219.4 84.7 209.7 84.7 219.4 84.8 219.4 84.9 219.4 84.9 214.2 85.0 219.4 85.0 219.4 85.1 207.3 85.2 219.4 85.2 214.6 85.3 209.4 85.4 219.4 85.4 219.4 85.5 219.4 85.5 219.4 85.6 219.4 85.7 219.4 85.7 219.4 85.8 201.9 85.9 208.2 85.9 219.4 86.0 213.9 86.0 206.4 86.1 208.9 86.2 219.4 86.2 219.4 86.3 206.0 86.4 219.4 86.4 219.0 86.5 207.8 86.5 219.4 86.6 208.1 86.7 219.4 86.7 219.4 86.8 219.4 86.9 204.7 86.9 219.4 87.0 219.4 87.0 219.4 87.1 219.4 87.2 219.4 87.2 219.4 87.3 208.8 87.4 207.5 87.4 219.4 87.5 219.4 87.5 219.4 87.6 206.7 87.7 219.4 87.7 219.4 87.8 211.4 87.9 219.4 87.9 213.8 88.0 216.7 88.0 219.4 88.1 210.1 88.2 213.2 88.2 219.4 88.3 219.4 88.4 219.4 88.4 219.4 88.5 213.1 88.5 219.4 88.6 219.4 88.7 219.4 88.7 219.4 88.8 217.2 88.9 218.7 88.9 210.8 89.0 219.4 89.0 217.9 89.1 219.4 89.2 204.9 89.2 207.6 89.3 219.4 89.4 210.7 89.4 219.4 89.5 219.4 89.6 219.4 89.6 219.4 89.7 219.4 89.7 219.4 89.8 208.7 89.9 219.4 89.9 219.4 90.0 219.4 90.1 209.4 90.1 219.4 90.2 219.4 90.2 219.4 90.3 219.4 90.4 219.4 90.4 219.4 90.5 219.4 90.6 207.0 90.6 219.4 90.7 219.4 90.7 219.4 90.8 219.4 90.9 211.8 90.9 206.1 91.0 219.4 91.1 203.9 91.1 219.4 91.2 219.4 91.2 219.4 91.3 219.4 91.4 219.4 91.4 219.4 91.5 213.7 91.6 219.4 91.6 218.3 91.7 219.4 91.7 219.4 91.8 219.4 91.9 214.7 91.9 213.4 92.0 219.4 92.1 219.4 92.1 219.4 92.2 219.4 92.2 219.4 92.3 219.1 92.4 219.4 92.4 219.4 92.5 219.4 92.6 214.5 92.6 207.6 92.7 219.4 92.7 219.4 92.8 215.2 92.9 209.5 92.9 217.9 93.0 219.4 93.1 219.4 93.1 219.4 93.2 219.4 93.2 219.4 93.3 219.4 93.4 203.6 93.4 219.4 93.5 219.4 93.6 213.4 93.6 219.4 93.7 219.4 93.7 219.4 93.8 219.4 93.9 219.4 93.9 211.2 94.0 214.1 94.1 219.4 94.1 207.5 94.2 219.4 94.2 219.4 94.3 212.9 94.4 213.5 94.4 218.6 94.5 219.4 94.6 209.0 94.6 215.0 94.7 217.7 94.8 219.4 94.8 217.3 94.9 204.5 94.9 219.4 95.0 218.6 95.1 209.3 95.1 211.9 95.2 219.4 95.3 219.4 95.3 219.4 95.4 219.4 95.4 219.4 95.5 210.4 95.6 218.4 95.6 209.4 95.7 215.6 95.8 219.4 95.8 214.4 95.9 219.4 95.9 208.5 96.0 219.4 96.1 206.6 96.1 219.4 96.2 219.4 96.3 219.4 96.3 219.4 96.4 219.4 96.4 219.4 96.5 215.6 96.6 219.4 96.6 211.4 96.7 206.8 96.8 219.4 96.8 219.4 96.9 206.3 96.9 209.8 97.0 219.4 97.1 217.4 97.1 206.6 97.2 219.4 97.3 217.5 97.3 209.8 97.4 219.4 97.4 219.4 97.5 212.3 97.6 219.4 97.6 214.4 97.7 208.8 97.8 219.4 97.8 219.4 97.9 206.9 97.9 219.4 98.0 214.3 98.1 219.4 98.1 219.4 98.2 209.6 98.3 219.4 98.3 219.4 98.4 219.4 98.4 216.2 98.5 216.2 98.6 219.4 98.6 218.2 98.7 219.4 98.8 205.5 98.8 219.4 98.9 219.4 98.9 219.4 99.0 206.0 99.1 216.2 99.1 219.4 99.2 216.5 99.3 219.4 99.3 219.4 99.4 217.2 99.5 219.4 99.5 219.4 99.6 219.4 99.6 209.5 99.7 210.5 99.8 219.4 99.8 219.4 99.9 219.4 100.0 219.4 100.0 219.4 100.1 214.0 100.1 219.4 100.2 207.7 100.3 214.5 100.3 213.0 100.4 219.4 100.5 219.4 100.5 219.4 100.6 219.4 100.6 219.4 100.7 207.9 100.8 219.4 100.8 206.6 100.9 212.6 101.0 219.4 101.0 208.4 101.1 216.7 101.1 219.4 101.2 219.4 101.3 219.4 101.3 219.4 101.4 219.4 101.5 219.4 101.5 219.4 101.6 219.4 101.6 212.1 101.7 219.4 101.8 219.4 101.8 219.4 101.9 219.4 102.0 219.4 102.0 219.4 102.1 212.0 102.1 211.4 102.2 219.4 102.3 219.4 102.3 219.4 102.4 218.4 102.5 219.4 102.5 219.4 102.6 218.5 102.6 219.4 102.7 218.6 102.8 216.7 102.8 219.4 102.9 209.0 103.0 219.4 103.0 218.4 103.1 219.4 103.1 219.4 103.2 219.4 103.3 219.4 103.3 219.4 103.4 219.4 103.5 212.0 103.5 213.0 103.6 219.4 103.6 219.4 103.7 210.3 103.8 212.6 103.8 212.8 103.9 219.4 104.0 219.4 104.0 205.7 104.1 216.3 104.1 206.7 104.2 219.4 104.3 210.8 104.3 211.7 104.4 211.9 104.5 219.4 104.5 204.0 104.6 218.3 104.7 219.4 104.7 218.5 104.8 219.4 104.8 207.9 104.9 219.4 105.0 218.6 105.0 219.4 105.1 219.4 105.2 219.4 105.2 208.5 105.3 219.4 105.3 219.0 105.4 210.0 105.5 206.8 105.5 219.4 105.6 209.7 105.7 212.6 105.7 214.0 105.8 210.1 105.8 211.9 105.9 219.4 106.0 214.6 106.0 219.4 106.1 216.8 106.2 219.4 106.2 207.1 106.3 210.3 106.3 214.4 106.4 219.4 106.5 215.3 106.5 219.4 106.6 219.4 106.7 219.4 106.7 210.7 106.8 219.4 106.8 210.4 106.9 209.0 107.0 209.7 107.0 219.4 107.1 207.3 107.2 208.7 107.2 219.4 107.3 215.9 107.3 219.4 107.4 219.4 107.5 208.5 107.5 216.7 107.6 206.6 107.7 212.8 107.7 211.6 107.8 206.3 107.8 208.3 107.9 211.1 108.0 207.6 108.0 208.3 108.1 219.4 108.2 219.4 108.2 219.4 108.3 209.1 108.3 219.4 108.4 219.4 108.5 219.4 108.5 219.4 108.6 207.1 108.7 219.4 108.7 211.1 108.8 212.6 108.8 219.4 108.9 219.4 109.0 219.4 109.0 216.2 109.1 219.4 109.2 213.1 109.2 219.4 109.3 219.4 109.4 206.4 109.4 217.8 109.5 219.4 109.5 214.6 109.6 219.4 109.7 219.4 109.7 219.4 109.8 219.4 109.9 219.4 109.9 219.4 110.0 219.4 110.0 214.8 110.1 217.8 110.2 219.4 110.2 219.4 110.3 219.4 110.4 206.9 110.4 219.4 110.5 211.1 110.5 216.8 110.6 214.6 110.7 219.4 110.7 219.4 110.8 219.4 110.9 219.4 110.9 207.8 111.0 219.4 111.0 219.4 111.1 206.0 111.2 207.3 111.2 219.4 111.3 214.5 111.4 209.8 111.4 219.4 111.5 205.0 111.5 214.1 111.6 219.4 111.7 219.4 111.7 219.4 111.8 212.4 111.9 206.8 111.9 219.4 112.0 206.7 112.0 212.6 112.1 219.4 112.2 213.8 112.2 219.4 112.3 219.4 112.4 212.9 112.4 213.8 112.5 219.4 112.5 219.4 112.6 219.4 112.7 209.9 112.7 219.4 112.8 219.4 112.9 200.9 112.9 218.0 113.0 219.4 113.0 205.0 113.1 217.4 113.2 219.4 113.2 206.8 113.3 219.4 113.4 219.4 113.4 219.4 113.5 219.4 113.5 210.1 113.6 207.9 113.7 219.4 113.7 208.0 113.8 219.4 113.9 219.4 113.9 219.4 114.0 206.2 114.1 212.9 114.1 219.4 114.2 219.4 114.2 209.7 114.3 219.4 114.4 219.4 114.4 217.1 114.5 219.4 114.6 219.4 114.6 219.4 114.7 210.5 114.7 219.4 114.8 203.9 114.9 219.4 114.9 219.4 115.0 219.4 115.1 219.4 115.1 219.4 115.2 219.4 115.2 219.4 115.3 210.9 115.4 216.9 115.4 219.4 115.5 219.4 115.6 216.3 115.6 204.0 115.7 219.4 115.7 219.4 115.8 214.3 115.9 219.4 115.9 219.4 116.0 211.8 116.1 215.4 116.1 216.2 116.2 219.4 116.2 219.4 116.3 207.2 116.4 202.9 116.4 209.7 116.5 219.4 116.6 219.4 116.6 219.4 116.7 204.4 116.7 219.4 116.8 219.4 116.9 219.4 116.9 219.4 117.0 219.4 117.1 210.2 117.1 210.9 117.2 218.2 117.2 219.4 117.3 219.4 117.4 206.2 117.4 219.4 117.5 219.4 117.6 219.4 117.6 219.4 117.7 219.4 117.7 219.4 117.8 210.0 117.9 219.4 117.9 219.4 118.0 219.4 118.1 219.4 118.1 219.4 118.2 219.4 118.2 219.4 118.3 219.4 118.4 219.4 118.4 219.4 118.5 204.3 118.6 206.3 118.6 211.8 118.7 206.7 118.7 219.4 118.8 219.4 118.9 214.6 118.9 210.5 119.0 211.0 119.1 205.5 119.1 219.4 119.2 207.7 119.3 219.4 119.3 213.5 119.4 219.4 119.4 208.2 119.5 219.4 119.6 207.9 119.6 219.4 119.7 205.6 119.8 219.4 119.8 214.9 119.9 217.4 119.9 219.4 120.0 219.4 120.1 219.4 120.1 219.4 120.2 219.4 120.3 219.4 120.3 219.4 120.4 209.1 120.4 212.1 120.5 219.4 120.6 210.9 120.6 206.7 120.7 211.6 120.8 219.4 120.8 219.4 120.9 219.4 120.9 206.5 121.0 219.4 121.1 219.4 121.1 210.6 121.2 219.4 121.3 219.4 121.3 219.4 121.4 209.2 121.4 219.4 121.5 219.4 121.6 219.4 121.6 205.9 121.7 207.0 121.8 219.4 121.8 219.4 121.9 219.4 121.9 213.5 122.0 219.4 122.1 206.8 122.1 217.6 122.2 219.4 122.3 219.4 122.3 219.4 122.4 203.7 122.4 206.5 122.5 219.0 122.6 219.4 122.6 219.4 122.7 219.4 122.8 219.4 122.8 219.4 122.9 212.4 122.9 219.4 123.0 219.4 123.1 219.4 123.1 219.4 123.2 219.4 123.3 209.2 123.3 219.4 123.4 219.4 123.4 219.4 123.5 219.4 123.6 219.4 123.6 210.8 123.7 219.4 123.8 219.4 123.8 207.5 123.9 219.4 124.0 215.0 124.0 218.4 124.1 219.4 124.1 215.5 124.2 219.4 124.3 219.4 124.3 213.0 124.4 219.4 124.5 211.3 124.5 219.4 124.6 210.9 124.6 208.5 124.7 219.4 124.8 205.6 124.8 219.4 124.9 219.4 125.0 219.4 125.0 219.4 125.1 219.4 125.1 219.4 125.2 211.1 125.3 219.4 125.3 219.4 125.4 219.4 125.5 219.4 125.5 219.4 125.6 219.4 125.6 219.4 125.7 219.4 125.8 217.5 125.8 219.4 125.9 219.4 126.0 219.4 126.0 219.4 126.1 219.4 126.1 219.4 126.2 209.7 126.3 216.3 126.3 219.4 126.4 219.4 126.5 219.4 126.5 216.5 126.6 215.0 126.6 219.4 126.7 219.4 126.8 219.4 126.8 219.4 126.9 219.4 127.0 217.9 127.0 206.3 127.1 219.4 127.1 219.0 127.2 219.4 127.3 219.4 127.3 219.4 127.4 219.4 127.5 207.9 127.5 219.4 127.6 212.2 127.6 219.4 127.7 219.4 127.8 210.2 127.8 219.4 127.9 219.0 128.0 219.4 128.0 212.8 128.1 219.4 128.1 219.3 128.2 215.5 128.3 219.4 128.3 219.4 128.4 219.4 128.5 219.4 128.5 219.4 128.6 214.8 128.7 219.4 128.7 219.4 128.8 219.4 128.8 219.4 128.9 219.4 129.0 214.3 129.0 209.3 129.1 216.3 129.2 215.0 129.2 207.3 129.3 207.2 129.3 219.4 129.4 219.4 129.5 209.0 129.5 219.4 129.6 219.4 129.7 219.4 129.7 219.4 129.8 219.4 129.8 219.4 129.9 209.3 130.0 203.4 130.0 215.1 130.1 211.5 130.2 210.7 130.2 219.4 130.3 219.4 130.3 216.1 130.4 209.0 130.5 219.4 130.5 216.3 130.6 219.4 130.7 219.4 130.7 219.4 130.8 209.2 130.8 210.8 130.9 219.4 131.0 217.1 131.0 212.6 131.1 208.9 131.2 205.1 131.2 205.8 131.3 219.4 131.3 217.2 131.4 219.4 131.5 210.9 131.5 208.8 131.6 219.4 131.7 219.4 131.7 207.0 131.8 219.4 131.8 206.7 131.9 208.7 132.0 219.4 132.0 219.4 132.1 205.9 132.2 219.4 132.2 219.4 132.3 219.4 132.3 219.4 132.4 219.4 132.5 205.9 132.5 219.4 132.6 219.4 132.7 219.4 132.7 219.4 132.8 209.8 132.8 216.0 132.9 209.7 133.0 210.3 133.0 219.4 133.1 219.4 133.2 219.4 133.2 209.5 133.3 219.4 133.3 203.4 133.4 219.4 133.5 219.4 133.5 219.4 133.6 219.4 133.7 219.4 133.7 218.0 133.8 219.4 133.9 219.4 133.9 219.4 134.0 209.3 134.0 210.3 134.1 219.4 134.2 219.4 134.2 219.4 134.3 219.4 134.4 209.9 134.4 219.4 134.5 216.7 134.5 219.4 134.6 219.4 134.7 203.2 134.7 219.4 134.8 215.6 134.9 219.4 134.9 209.0 135.0 216.5 135.0 219.4 135.1 207.3 135.2 211.0 135.2 212.6 135.3 219.4 135.4 219.4 135.4 207.3 135.5 219.4 135.5 206.6 135.6 206.7 135.7 219.4 135.7 219.4 135.8 219.4 135.9 211.8 135.9 214.6 136.0 219.4 136.0 219.4 136.1 215.9 136.2 219.4 136.2 219.4 136.3 219.4 136.4 217.2 136.4 219.4 136.5 219.4 136.5 219.4 136.6 219.4 136.7 218.6 136.7 217.6 136.8 219.4 136.9 219.4 136.9 213.9 137.0 209.7 137.0 219.4 137.1 219.4 137.2 207.9 137.2 219.4 137.3 219.4 137.4 212.3 137.4 219.4 137.5 219.4 137.5 219.4 137.6 219.4 137.7 219.4 137.7 219.4 137.8 210.1 137.9 219.4 137.9 219.4 138.0 219.4 138.0 219.4 138.1 219.4 138.2 219.4 138.2 210.1 138.3 219.4 138.4 213.6 138.4 207.7 138.5 219.4 138.6 211.7 138.6 209.2 138.7 219.4 138.7 219.4 138.8 219.4 138.9 206.6 138.9 211.6 139.0 215.6 139.1 219.4 139.1 210.7 139.2 219.4 139.2 219.4 139.3 219.4 139.4 210.5 139.4 219.4 139.5 219.4 139.6 216.1 139.6 219.4 139.7 219.4 139.7 205.4 139.8 210.2 139.9 219.4 139.9 219.4 140.0 219.4 140.1 219.4 140.1 218.2 140.2 206.9 140.2 219.4 140.3 219.4 140.4 219.4 140.4 219.4 140.5 219.4 140.6 219.4 140.6 219.4 140.7 219.4 140.7 217.6 140.8 219.4 140.9 216.2 140.9 210.4 141.0 215.0 141.1 214.0 141.1 214.1 141.2 219.4 141.2 210.7 141.3 219.4 141.4 219.4 141.4 210.9 141.5 219.4 141.6 219.4 141.6 206.5 141.7 219.4 141.7 219.4 141.8 211.9 141.9 216.4 141.9 218.7 142.0 206.1 142.1 209.0 142.1 219.4 142.2 219.4 142.2 219.4 142.3 214.7 142.4 219.4 142.4 209.0 142.5 218.1 142.6 211.5 142.6 207.5 142.7 219.4 142.7 219.4 142.8 219.4 142.9 219.4 142.9 219.4 143.0 219.4 143.1 207.1 143.1 219.4 143.2 208.2 143.2 219.4 143.3 219.4 143.4 219.4 143.4 219.4 143.5 219.4 143.6 219.4 143.6 219.4 143.7 210.2 143.8 218.7 143.8 206.4 143.9 206.8 143.9 219.4 144.0 205.3 144.1 219.4 144.1 219.4 144.2 219.4 144.3 219.4 144.3 219.4 144.4 214.3 144.4 219.4 144.5 212.5 144.6 216.0 144.6 217.2 144.7 211.7 144.8 213.9 144.8 219.4 144.9 206.7 144.9 219.4 145.0 219.4 145.1 211.8 145.1 219.4 145.2 219.4 145.3 219.4 145.3 212.4 145.4 212.4 145.4 219.4 145.5 219.4 145.6 219.4 145.6 215.1 145.7 219.4 145.8 219.4 145.8 219.4 145.9 219.4 145.9 219.4 146.0 213.9 146.1 219.4 146.1 219.4 146.2 219.4 146.3 219.4 146.3 219.4 146.4 219.4 146.4 211.2 146.5 212.3 146.6 214.8 146.6 213.5 146.7 219.4 146.8 219.4 146.8 207.3 146.9 219.4 146.9 219.4 147.0 219.4 147.1 217.4 147.1 219.4 147.2 219.4 147.3 219.4 147.3 219.4 147.4 216.1 147.4 215.4 147.5 219.4 147.6 215.3 147.6 219.4 147.7 219.4 147.8 219.4 147.8 219.4 147.9 219.4 147.9 219.4 148.0 209.3 148.1 219.4 148.1 218.7 148.2 212.1" fill="none" stroke="#08088c" stroke-width="0.6" stroke-linejoin="bevel"/>
<rect x="181.2" y="123.5" width="127.10" height="92.80" fill="none" stroke="#a6a6a6" stroke-width="0.6"/>
<line x1="180.40" y1="216.25" x2="181.20" y2="216.25" stroke="#a6a6a6" stroke-width="0.4"/>
<line x1="180.40" y1="212.93" x2="181.20" y2="212.93" stroke="#a6a6a6" stroke-width="0.4"/>
<line x1="180.40" y1="210.21" x2="181.20" y2="210.21" stroke="#a6a6a6" stroke-width="0.4"/>
<line x1="180.40" y1="207.91" x2="181.20" y2="207.91" stroke="#a6a6a6" stroke-width="0.4"/>
<line x1="180.40" y1="205.92" x2="181.20" y2="205.92" stroke="#a6a6a6" stroke-width="0.4"/>
<line x1="180.40" y1="204.17" x2="181.20" y2="204.17" stroke="#a6a6a6" stroke-width="0.4"/>
<line x1="179.60" y1="202.60" x2="181.20" y2="202.60" stroke="#a6a6a6" stroke-width="0.6"/>
<text x="174.20" y="204.60" font-size="4.8" text-anchor="end" >10</text>
<text x="174.40" y="202.80" font-size="3.0" text-anchor="start" >-2</text>
<line x1="180.40" y1="192.27" x2="181.20" y2="192.27" stroke="#a6a6a6" stroke-width="0.4"/>
<line x1="180.40" y1="186.23" x2="181.20" y2="186.23" stroke="#a6a6a6" stroke-width="0.4"/>
<line x1="180.40" y1="181.95" x2="181.20" y2="181.95" stroke="#a6a6a6" stroke-width="0.4"/>
<line x1="180.40" y1="178.63" x2="181.20" y2="178.63" stroke="#a6a6a6" stroke-width="0.4"/>
<line x1="180.40" y1="175.91" x2="181.20" y2="175.91" stroke="#a6a6a6" stroke-width="0.4"/>
<line x1="180.40" y1="173.61" x2="181.20" y2="173.61" stroke="#a6a6a6" stroke-width="0.4"/>
<line x1="180.40" y1="171.62" x2="181.20" y2="171.62" stroke="#a6a6a6" stroke-width="0.4"/>
<line x1="180.40" y1="169.87" x2="181.20" y2="169.87" stroke="#a6a6a6" stroke-width="0.4"/>
<line x1="179.60" y1="168.30" x2="181.20" y2="168.30" stroke="#a6a6a6" stroke-width="0.6"/>
<text x="174.20" y="170.30" font-size="4.8" text-anchor="end" >10</text>
<text x="174.40" y="168.50" font-size="3.0" text-anchor="start" >-1</text>
<line x1="180.40" y1="157.97" x2="181.20" y2="157.97" stroke="#a6a6a6" stroke-width="0.4"/>
<line x1="180.40" y1="151.93" x2="181.20" y2="151.93" stroke="#a6a6a6" stroke-width="0.4"/>
<line x1="180.40" y1="147.65" x2="181.20" y2="147.65" stroke="#a6a6a6" stroke-width="0.4"/>
<line x1="180.40" y1="144.33" x2="181.20" y2="144.33" stroke="#a6a6a6" stroke-width="0.4"/>
<line x1="180.40" y1="141.61" x2="181.20" y2="141.61" stroke="#a6a6a6" stroke-width="0.4"/>
<line x1="180.40" y1="139.31" x2="181.20" y2="139.31" stroke="#a6a6a6" stroke-width="0.4"/>
<line x1="180.40" y1="137.32" x2="181.20" y2="137.32" stroke="#a6a6a6" stroke-width="0.4"/>
<line x1="180.40" y1="135.57" x2="181.20" y2="135.57" stroke="#a6a6a6" stroke-width="0.4"/>
<line x1="179.60" y1="134.00" x2="181.20" y2="134.00" stroke="#a6a6a6" stroke-width="0.6"/>
<text x="174.20" y="136.00" font-size="4.8" text-anchor="end" >10</text>
<text x="174.40" y="134.20" font-size="3.0" text-anchor="start" >0</text>
<line x1="180.40" y1="123.67" x2="181.20" y2="123.67" stroke="#a6a6a6" stroke-width="0.4"/>
<line x1="187.30" y1="216.30" x2="187.30" y2="217.50" stroke="#a6a6a6" stroke-width="0.6"/>
<text x="187.30" y="223.40" font-size="4.5" text-anchor="middle" >0</text>
<line x1="217.55" y1="216.30" x2="217.55" y2="217.50" stroke="#a6a6a6" stroke-width="0.6"/>
<text x="217.55" y="223.40" font-size="4.5" text-anchor="middle" >50</text>
<line x1="247.80" y1="216.30" x2="247.80" y2="217.50" stroke="#a6a6a6" stroke-width="0.6"/>
<text x="247.80" y="223.40" font-size="4.5" text-anchor="middle" >100</text>
<line x1="278.05" y1="216.30" x2="278.05" y2="217.50" stroke="#a6a6a6" stroke-width="0.6"/>
<text x="278.05" y="223.40" font-size="4.5" text-anchor="middle" >150</text>
<line x1="308.30" y1="216.30" x2="308.30" y2="217.50" stroke="#a6a6a6" stroke-width="0.6"/>
<text x="308.30" y="223.40" font-size="4.5" text-anchor="middle" >200</text>
<line x1="202.43" y1="216.30" x2="202.43" y2="217.10" stroke="#a6a6a6" stroke-width="0.6"/>
<line x1="232.68" y1="216.30" x2="232.68" y2="217.10" stroke="#a6a6a6" stroke-width="0.6"/>
<line x1="262.93" y1="216.30" x2="262.93" y2="217.10" stroke="#a6a6a6" stroke-width="0.6"/>
<line x1="293.18" y1="216.30" x2="293.18" y2="217.10" stroke="#a6a6a6" stroke-width="0.6"/>
<text transform="translate(164.4,170.05) rotate(-90)" font-size="4.7" text-anchor="middle">Normalized intensity (a. u.)</text>
<text x="245.00" y="231.50" font-size="4.6" text-anchor="middle" >Time (&#956;s)</text>
<text x="159.6" y="123.2" font-size="5.4" font-weight="bold" style="stroke-width:0.25px">d</text>
<clipPath id="k7"><rect x="181.2" y="123.5" width="127.10" height="92.80"/></clipPath>
<path clip-path="url(#k7)" d="M186.9 134.0 187.0 134.0 187.1 134.0 187.1 134.1 187.2 134.0 187.2 134.1 187.3 134.0 187.4 133.5 187.4 132.5 187.5 131.1 187.5 129.8 187.6 129.2 187.7 129.2 187.7 129.4 187.8 129.5 187.8 129.7 187.9 130.1 188.0 130.4 188.0 130.9 188.1 131.2 188.1 131.7 188.2 132.0 188.3 132.6 188.3 132.9 188.4 133.4 188.4 133.9 188.5 134.7 188.5 134.9 188.6 135.3 188.7 135.7 188.7 136.3 188.8 136.5 188.8 136.9 188.9 137.2 189.0 137.2 189.0 137.7 189.1 137.8 189.1 138.0 189.2 138.4 189.3 138.6 189.3 138.8 189.4 139.0 189.4 139.4 189.5 139.5 189.6 139.6 189.6 140.1 189.7 140.1 189.7 140.4 189.8 140.7 189.9 140.6 189.9 140.9 190.0 141.4 190.0 141.4 190.1 141.5 190.2 141.8 190.2 141.9 190.3 142.2 190.3 142.3 190.4 142.4 190.5 142.8 190.5 142.9 190.6 143.2 190.6 143.3 190.7 143.6 190.8 143.7 190.8 143.8 190.9 143.8 190.9 143.9 191.0 144.5 191.1 144.5 191.1 144.5 191.2 145.0 191.2 145.0 191.3 145.0 191.4 145.0 191.4 145.2 191.5 145.5 191.5 145.7 191.6 145.8 191.7 145.7 191.7 146.1 191.8 146.2 191.8 146.3 191.9 146.5 192.0 146.6 192.0 146.9 192.1 146.9 192.1 147.1 192.2 146.9 192.3 147.2 192.3 147.4 192.4 147.4 192.4 147.7 192.5 147.6 192.6 147.9 192.6 147.9 192.7 148.4 192.7 148.2 192.8 148.7 192.8 148.9 192.9 148.7 193.0 148.9 193.0 148.9 193.1 148.6 193.1 149.3 193.2 149.4 193.3 149.3 193.3 149.4 193.4 149.6 193.4 149.7 193.5 149.7 193.6 149.8 193.6 150.2 193.7 150.2 193.7 150.2 193.8 150.5 193.9 150.4 193.9 150.7 194.0 150.5 194.0 150.7 194.1 150.9 194.2 151.1 194.2 151.1 194.3 151.6 194.3 151.5 194.4 151.3 194.5 151.9 194.5 151.4 194.6 152.0 194.6 151.6 194.7 152.0 194.8 151.8 194.8 152.0 194.9 152.4 194.9 151.9 195.0 152.0 195.1 152.4 195.1 152.5 195.2 152.6 195.2 152.8 195.3 152.5 195.4 152.9 195.4 152.9 195.5 153.1 195.5 153.1 195.6 153.3 195.7 152.9 195.7 153.2 195.8 153.1 195.8 153.4 195.9 153.6 196.0 153.6 196.0 153.7 196.1 153.6 196.1 153.8 196.2 153.8 196.3 154.1 196.3 154.1 196.4 153.6 196.4 154.2 196.5 154.3 196.6 154.1 196.6 153.9 196.7 154.6 196.7 154.4 196.8 154.6 196.9 154.9 196.9 154.4 197.0 154.6 197.0 154.7 197.1 154.9 197.2 154.7 197.2 155.0 197.3 155.0 197.3 155.3 197.4 155.3 197.4 154.8 197.5 155.3 197.6 155.2 197.6 155.3 197.7 155.5 197.7 155.5 197.8 155.3 197.9 155.6 197.9 155.6 198.0 155.6 198.0 155.4 198.1 155.6 198.2 155.7 198.2 156.0 198.3 156.2 198.3 155.7 198.4 155.8 198.5 156.1 198.5 156.0 198.6 156.0 198.6 156.0 198.7 156.1 198.8 156.5 198.8 156.0 198.9 156.7 198.9 156.3 199.0 156.4 199.1 156.4 199.1 156.2 199.2 156.3 199.2 157.0 199.3 157.2 199.4 156.6 199.4 157.1 199.5 156.9 199.5 156.8 199.6 157.4 199.7 157.6 199.7 157.1 199.8 157.2 199.8 157.3 199.9 157.3 200.0 157.5 200.0 157.8 200.1 157.5 200.1 157.7 200.2 157.9 200.3 157.4 200.3 157.6 200.4 157.5 200.4 157.9 200.5 157.9 200.6 158.0 200.6 158.0 200.7 157.8 200.7 158.1 200.8 157.9 200.9 157.9 200.9 157.5 201.0 158.4 201.0 157.9 201.1 158.2 201.2 158.2 201.2 158.6 201.3 158.4 201.3 158.1 201.4 158.4 201.5 158.4 201.5 158.5 201.6 158.2 201.6 158.5 201.7 159.2 201.7 158.8 201.8 159.2 201.9 159.6 201.9 158.9 202.0 158.4 202.0 158.8 202.1 159.2 202.2 159.2 202.2 158.7 202.3 159.0 202.3 159.0 202.4 159.1 202.5 159.1 202.5 158.9 202.6 159.0 202.6 159.2 202.7 159.6 202.8 159.2 202.8 159.5 202.9 159.1 202.9 159.8 203.0 159.5 203.1 159.5 203.1 159.9 203.2 159.1 203.2 159.2 203.3 159.8 203.4 159.5 203.4 159.6 203.5 160.5 203.5 159.7 203.6 159.9 203.7 159.9 203.7 160.2 203.8 160.0 203.8 160.0 203.9 159.7 204.0 160.0 204.0 160.1 204.1 159.7 204.1 160.3 204.2 160.3 204.3 160.8 204.3 159.8 204.4 160.0 204.4 160.1 204.5 160.2 204.6 160.4 204.6 160.4 204.7 160.6 204.7 160.6 204.8 160.5 204.9 160.2 204.9 160.5 205.0 160.7 205.0 160.9 205.1 160.9 205.2 160.3 205.2 160.6 205.3 160.8 205.3 161.0 205.4 161.2 205.5 160.9 205.5 160.7 205.6 161.1 205.6 161.1 205.7 161.1 205.8 161.1 205.8 161.6 205.9 161.2 205.9 161.4 206.0 160.9 206.0 161.5 206.1 161.1 206.2 160.9 206.2 161.4 206.3 161.5 206.3 161.3 206.4 161.4 206.5 161.8 206.5 161.4 206.6 160.9 206.6 161.6 206.7 161.6 206.8 161.9 206.8 161.5 206.9 162.1 206.9 162.0 207.0 161.3 207.1 162.0 207.1 161.5 207.2 161.4 207.2 161.8 207.3 161.7 207.4 161.3 207.4 162.0 207.5 162.2 207.5 162.4 207.6 162.0 207.7 161.6 207.7 161.8 207.8 162.4 207.8 162.4 207.9 162.3 208.0 162.1 208.0 162.3 208.1 162.2 208.1 162.2 208.2 162.4 208.3 162.4 208.3 162.3 208.4 162.4 208.4 162.3 208.5 161.9 208.6 162.3 208.6 162.5 208.7 163.1 208.7 162.5 208.8 163.3 208.9 163.1 208.9 162.4 209.0 162.5 209.0 162.8 209.1 163.3 209.2 162.9 209.2 163.1 209.3 162.7 209.3 162.2 209.4 162.9 209.5 163.2 209.5 163.4 209.6 163.0 209.6 163.1 209.7 163.5 209.8 163.1 209.8 163.5 209.9 162.8 209.9 162.8 210.0 162.9 210.1 163.4 210.1 163.1 210.2 163.4 210.2 163.5 210.3 163.5 210.3 163.8 210.4 163.9 210.5 163.2 210.5 163.6 210.6 163.5 210.6 163.2 210.7 164.2 210.8 163.9 210.8 163.6 210.9 163.5 210.9 163.8 211.0 163.4 211.1 163.7 211.1 164.2 211.2 164.2 211.2 163.6 211.3 163.7 211.4 164.6 211.4 163.5 211.5 163.8 211.5 163.6 211.6 164.2 211.7 164.2 211.7 164.5 211.8 163.3 211.8 164.2 211.9 163.7 212.0 164.5 212.0 164.2 212.1 164.9 212.1 164.5 212.2 164.0 212.3 164.8 212.3 164.1 212.4 164.4 212.4 164.9 212.5 164.7 212.6 164.7 212.6 164.6 212.7 164.8 212.7 165.0 212.8 164.8 212.9 165.1 212.9 165.2 213.0 164.8 213.0 164.5 213.1 165.4 213.2 164.9 213.2 165.1 213.3 165.3 213.3 164.7 213.4 165.2 213.5 164.5 213.5 165.4 213.6 165.0 213.6 165.2 213.7 165.4 213.8 165.0 213.8 165.3 213.9 165.1 213.9 165.3 214.0 165.7 214.1 165.4 214.1 165.4 214.2 165.1 214.2 165.8 214.3 165.5 214.4 166.2 214.4 165.3 214.5 166.0 214.5 166.3 214.6 165.7 214.6 165.3 214.7 166.3 214.8 166.2 214.8 166.1 214.9 166.2 214.9 165.7 215.0 166.2 215.1 166.2 215.1 165.7 215.2 166.3 215.2 165.8 215.3 166.4 215.4 166.5 215.4 166.8 215.5 165.4 215.5 166.3 215.6 166.1 215.7 166.2 215.7 166.2 215.8 166.3 215.8 165.6 215.9 166.8 216.0 167.0 216.0 166.8 216.1 167.0 216.1 166.2 216.2 166.2 216.3 166.9 216.3 167.1 216.4 166.8 216.4 166.1 216.5 167.8 216.6 166.5 216.6 167.2 216.7 166.4 216.7 167.2 216.8 167.0 216.9 167.5 216.9 167.3 217.0 166.4 217.0 166.6 217.1 167.2 217.2 167.4 217.2 167.8 217.3 167.3 217.3 167.1 217.4 167.2 217.5 167.2 217.5 167.7 217.6 167.3 217.6 167.3 217.7 166.8 217.8 166.6 217.8 167.4 217.9 167.7 217.9 167.5 218.0 167.7 218.1 167.8 218.1 167.6 218.2 168.0 218.2 167.4 218.3 167.7 218.4 167.6 218.4 167.8 218.5 168.0 218.5 168.1 218.6 167.9 218.7 168.0 218.7 167.7 218.8 167.9 218.8 168.5 218.9 167.9 219.0 168.5 219.0 168.3 219.1 168.2 219.1 168.9 219.2 168.1 219.2 168.1 219.3 168.2 219.4 168.4 219.4 168.4 219.5 168.7 219.5 168.4 219.6 168.5 219.7 168.3 219.7 168.9 219.8 168.3 219.8 168.4 219.9 168.5 220.0 168.7 220.0 168.3 220.1 169.3 220.1 168.4 220.2 168.5 220.3 168.5 220.3 168.5 220.4 169.0 220.4 168.8 220.5 168.5 220.6 168.6 220.6 168.7 220.7 169.5 220.7 168.6 220.8 168.4 220.9 168.5 220.9 168.9 221.0 169.7 221.0 168.6 221.1 169.1 221.2 170.2 221.2 168.9 221.3 169.8 221.3 169.7 221.4 169.5 221.5 168.7 221.5 169.4 221.6 169.2 221.6 168.5 221.7 168.6 221.8 169.4 221.8 169.5 221.9 170.0 221.9 169.8 222.0 169.3 222.1 169.3 222.1 169.5 222.2 169.1 222.2 169.9 222.3 169.6 222.4 169.3 222.4 169.4 222.5 169.2 222.5 169.5 222.6 169.9 222.7 169.6 222.7 170.3 222.8 170.6 222.8 169.6 222.9 169.9 223.0 169.8 223.0 170.7 223.1 170.1 223.1 170.3 223.2 170.4 223.3 171.1 223.3 170.2 223.4 169.7 223.4 170.0 223.5 170.4 223.5 170.2 223.6 169.9 223.7 171.6 223.7 170.3 223.8 170.0 223.8 170.0 223.9 169.6 224.0 169.8 224.0 170.2 224.1 170.3 224.1 170.1 224.2 170.7 224.3 170.5 224.3 170.1 224.4 169.6 224.4 170.6 224.5 170.6 224.6 170.5 224.6 170.0 224.7 170.7 224.7 170.0 224.8 171.2 224.9 170.8 224.9 170.9 225.0 170.4 225.0 170.3 225.1 171.6 225.2 171.3 225.2 170.7 225.3 171.2 225.3 171.7 225.4 170.5 225.5 170.7 225.5 170.8 225.6 171.3 225.6 170.6 225.7 171.2 225.8 170.6 225.8 171.6 225.9 171.6 225.9 171.1 226.0 171.5 226.1 170.9 226.1 171.1 226.2 171.7 226.2 171.3 226.3 171.5 226.4 170.9 226.4 171.7 226.5 171.6 226.5 170.8 226.6 170.4 226.7 170.5 226.7 171.4 226.8 171.4 226.8 170.8 226.9 171.6 227.0 172.1 227.0 171.5 227.1 171.4 227.1 172.1 227.2 172.5 227.3 172.4 227.3 171.4 227.4 172.1 227.4 171.8 227.5 171.7 227.6 171.5 227.6 172.0 227.7 171.6 227.7 172.3 227.8 172.1 227.8 172.4 227.9 171.4 228.0 172.0 228.0 172.4 228.1 172.2 228.1 172.1 228.2 171.7 228.3 172.9 228.3 172.6 228.4 172.3 228.4 170.9 228.5 171.7 228.6 172.2 228.6 171.8 228.7 171.2 228.7 172.4 228.8 172.5 228.9 171.7 228.9 172.1 229.0 172.0 229.0 172.6 229.1 171.4 229.2 171.5 229.2 172.1 229.3 172.1 229.3 173.6 229.4 172.2 229.5 172.6 229.5 172.3 229.6 172.2 229.6 172.7 229.7 173.5 229.8 172.4 229.8 173.0 229.9 172.8 229.9 173.0 230.0 172.9 230.1 174.0 230.1 172.1 230.2 172.6 230.2 172.2 230.3 171.8 230.4 172.8 230.4 173.8 230.5 173.4 230.5 173.5 230.6 173.2 230.7 172.9 230.7 174.1 230.8 172.8 230.8 173.8 230.9 172.9 231.0 173.1 231.0 173.2 231.1 173.1 231.1 173.4 231.2 173.5 231.3 174.1 231.3 173.2 231.4 172.2 231.4 172.2 231.5 172.5 231.6 172.9 231.6 173.6 231.7 172.5 231.7 173.3 231.8 173.4 231.9 173.5 231.9 173.3 232.0 173.6 232.0 173.5 232.1 174.0 232.1 173.7 232.2 172.3 232.3 173.5 232.3 173.7 232.4 173.3 232.4 173.2 232.5 174.2 232.6 173.7 232.6 173.1 232.7 173.5 232.7 173.6 232.8 172.8 232.9 174.1 232.9 173.7 233.0 174.0 233.0 173.0 233.1 174.9 233.2 174.2 233.2 174.1 233.3 173.5 233.3 173.5 233.4 173.1 233.5 174.8 233.5 173.5 233.6 174.1 233.6 174.4 233.7 173.7 233.8 174.6 233.8 175.3 233.9 174.3 233.9 175.0 234.0 174.5 234.1 173.9 234.1 174.0 234.2 173.3 234.2 174.3 234.3 175.1 234.4 174.7 234.4 174.8 234.5 175.0 234.5 174.0 234.6 174.7 234.7 175.5 234.7 174.0 234.8 174.4 234.8 174.2 234.9 174.4 235.0 174.1 235.0 174.4 235.1 173.8 235.1 174.3 235.2 174.3 235.3 174.3 235.3 175.4 235.4 174.7 235.4 174.8 235.5 174.5 235.6 175.5 235.6 173.7 235.7 174.6 235.7 175.5 235.8 175.8 235.9 174.9 235.9 174.8 236.0 175.2 236.0 174.8 236.1 175.2 236.2 174.5 236.2 175.3 236.3 174.9 236.3 174.4 236.4 173.5 236.4 175.6 236.5 175.3 236.6 175.5 236.6 174.6 236.7 175.8 236.7 175.4 236.8 175.1 236.9 175.7 236.9 175.7 237.0 175.5 237.0 176.5 237.1 176.1 237.2 175.5 237.2 175.2 237.3 175.4 237.3 176.4 237.4 175.6 237.5 174.9 237.5 175.0 237.6 175.4 237.6 176.0 237.7 175.0 237.8 175.8 237.8 176.2 237.9 176.0 237.9 174.6 238.0 175.4 238.1 174.9 238.1 175.9 238.2 175.0 238.2 176.0 238.3 175.7 238.4 174.2 238.4 175.2 238.5 176.0 238.5 175.8 238.6 175.5 238.7 175.0 238.7 176.1 238.8 176.9 238.8 176.0 238.9 175.8 239.0 175.8 239.0 175.1 239.1 175.7 239.1 175.4 239.2 176.7 239.3 175.4 239.3 174.7 239.4 175.5 239.4 175.9 239.5 176.0 239.6 175.0 239.6 176.7 239.7 176.2 239.7 175.9 239.8 175.7 239.9 176.5 239.9 176.0 240.0 176.4 240.0 176.2 240.1 176.4 240.2 177.0 240.2 176.3 240.3 175.8 240.3 177.0 240.4 176.5 240.5 176.0 240.5 177.1 240.6 176.3 240.6 177.2 240.7 175.8 240.8 175.1 240.8 175.3 240.9 176.7 240.9 176.1 241.0 176.5 241.0 176.5 241.1 175.7 241.2 177.5 241.2 176.0 241.3 176.7 241.3 175.8 241.4 176.6 241.5 177.2 241.5 176.6 241.6 176.3 241.6 176.8 241.7 176.5 241.8 177.2 241.8 178.4 241.9 176.3 241.9 176.5 242.0 176.8 242.1 176.9 242.1 176.3 242.2 177.3 242.2 177.5 242.3 177.2 242.4 176.3 242.4 178.1 242.5 176.3 242.5 177.6 242.6 177.9 242.7 176.4 242.7 177.3 242.8 178.1 242.8 177.5 242.9 176.6 243.0 176.5 243.0 177.6 243.1 177.0 243.1 176.9 243.2 177.8 243.3 177.1 243.3 177.4 243.4 177.8 243.4 177.8 243.5 177.4 243.6 177.5 243.6 177.9 243.7 177.8 243.7 176.8 243.8 177.4 243.9 177.0 243.9 176.8 244.0 177.2 244.0 176.2 244.1 178.3 244.2 177.1 244.2 177.9 244.3 176.5 244.3 176.6 244.4 179.2 244.5 178.5 244.5 177.4 244.6 177.3 244.6 177.4 244.7 177.9 244.8 177.6 244.8 177.5 244.9 178.0 244.9 177.3 245.0 179.7 245.1 177.6 245.1 178.8 245.2 177.4 245.2 178.2 245.3 178.7 245.3 177.8 245.4 178.8 245.5 178.8 245.5 179.3 245.6 178.2 245.6 177.9 245.7 177.5 245.8 178.3 245.8 177.5 245.9 178.3 245.9 178.4 246.0 177.9 246.1 177.6 246.1 178.6 246.2 178.6 246.2 178.5 246.3 178.4 246.4 179.1 246.4 177.7 246.5 178.8 246.5 178.2 246.6 179.1 246.7 178.3 246.7 178.3 246.8 178.9 246.8 177.2 246.9 178.4 247.0 177.4 247.0 178.0 247.1 179.2 247.1 179.0 247.2 178.4 247.3 178.7 247.3 178.7 247.4 179.0 247.4 180.2 247.5 179.0 247.6 180.6 247.6 178.6 247.7 179.4 247.7 179.5 247.8 179.1 247.9 178.8 247.9 180.1 248.0 180.4 248.0 179.8 248.1 180.6 248.2 179.8 248.2 177.9 248.3 179.9 248.3 178.6 248.4 180.2 248.5 178.9 248.5 179.4 248.6 179.2 248.6 178.8 248.7 178.0 248.8 179.1 248.8 179.2 248.9 180.0 248.9 178.9 249.0 179.5 249.1 178.7 249.1 179.4 249.2 178.1 249.2 181.0 249.3 179.7 249.4 178.8 249.4 179.7 249.5 180.1 249.5 179.7 249.6 180.6 249.6 179.5 249.7 177.8 249.8 178.7 249.8 180.5 249.9 180.3 249.9 180.0 250.0 178.9 250.1 180.3 250.1 180.3 250.2 179.1 250.2 179.1 250.3 180.1 250.4 180.7 250.4 181.1 250.5 180.4 250.5 181.7 250.6 179.3 250.7 180.4 250.7 179.5 250.8 178.5 250.8 179.1 250.9 180.9 251.0 179.3 251.0 179.1 251.1 180.6 251.1 180.8 251.2 180.2 251.3 181.4 251.3 179.0 251.4 182.2 251.4 181.1 251.5 180.4 251.6 180.4 251.6 180.1 251.7 180.0 251.7 180.4 251.8 179.4 251.9 182.1 251.9 180.3 252.0 180.9 252.0 180.2 252.1 180.2 252.2 181.1 252.2 180.9 252.3 179.8 252.3 180.2 252.4 181.0 252.5 178.9 252.5 178.7 252.6 181.8 252.6 180.3 252.7 178.6 252.8 180.0 252.8 180.4 252.9 180.8 252.9 181.1 253.0 180.8 253.1 181.1 253.1 180.1 253.2 181.0 253.2 181.1 253.3 181.8 253.4 180.8 253.4 181.5 253.5 181.0 253.5 180.0 253.6 180.5 253.7 180.5 253.7 180.6 253.8 180.9 253.8 181.0 253.9 181.2 253.9 180.3 254.0 181.9 254.1 179.9 254.1 181.0 254.2 181.7 254.2 181.5 254.3 181.7 254.4 181.0 254.4 181.7 254.5 180.2 254.5 181.8 254.6 183.2 254.7 181.8 254.7 183.0 254.8 181.3 254.8 180.4 254.9 180.7 255.0 182.5 255.0 182.0 255.1 179.9 255.1 181.1 255.2 181.4 255.3 180.5 255.3 179.4 255.4 180.4 255.4 181.3 255.5 181.2 255.6 181.0 255.6 182.0 255.7 182.5 255.7 181.5 255.8 182.4 255.9 181.6 255.9 181.5 256.0 179.7 256.0 182.4 256.1 181.8 256.2 181.8 256.2 181.3 256.3 180.8 256.3 182.2 256.4 182.5 256.5 183.3 256.5 182.6 256.6 181.3 256.6 181.8 256.7 182.8 256.8 182.2 256.8 181.8 256.9 181.5 256.9 182.4 257.0 182.2 257.1 183.6 257.1 183.0 257.2 180.6 257.2 184.1 257.3 182.3 257.4 181.8 257.4 182.4 257.5 182.8 257.5 182.2 257.6 182.1 257.7 182.2 257.7 183.9 257.8 182.3 257.8 183.0 257.9 182.7 258.0 182.0 258.0 181.7 258.1 181.5 258.1 182.7 258.2 181.5 258.2 181.3 258.3 181.3 258.4 181.2 258.4 182.5 258.5 182.5 258.5 181.7 258.6 183.7 258.7 182.3 258.7 183.0 258.8 182.8 258.8 184.2 258.9 183.4 259.0 182.6 259.0 181.8 259.1 181.7 259.1 182.7 259.2 182.8 259.3 183.4 259.3 182.3 259.4 182.9 259.4 182.1 259.5 181.2 259.6 182.7 259.6 184.2 259.7 183.6 259.7 184.2 259.8 183.9 259.9 181.6 259.9 182.6 260.0 184.3 260.0 182.3 260.1 181.7 260.2 183.2 260.2 183.6 260.3 183.2 260.3 182.7 260.4 182.4 260.5 181.9 260.5 181.9 260.6 181.9 260.6 181.8 260.7 182.4 260.8 184.6 260.8 183.2 260.9 182.8 260.9 183.5 261.0 182.3 261.1 183.5 261.1 184.1 261.2 181.9 261.2 182.6 261.3 183.0 261.4 182.4 261.4 182.3 261.5 183.0 261.5 185.8 261.6 184.0 261.7 183.8 261.7 184.3 261.8 183.2 261.8 182.3 261.9 183.9 262.0 184.6 262.0 181.6 262.1 183.9 262.1 184.7 262.2 183.3 262.3 183.1 262.3 184.2 262.4 182.8 262.4 184.0 262.5 184.5 262.5 183.4 262.6 182.9 262.7 184.3 262.7 183.3 262.8 183.8 262.8 181.2 262.9 184.4 263.0 182.4 263.0 183.8 263.1 183.9 263.1 183.1 263.2 182.9 263.3 182.6 263.3 183.5 263.4 184.4 263.4 184.4 263.5 183.4 263.6 183.3 263.6 182.6 263.7 183.5 263.7 182.9 263.8 182.5 263.9 183.8 263.9 185.6 264.0 185.2 264.0 185.5 264.1 182.6 264.2 184.9 264.2 182.9 264.3 183.5 264.3 182.5 264.4 183.2 264.5 184.3 264.5 184.4 264.6 184.1 264.6 184.0 264.7 184.8 264.8 184.3 264.8 182.7 264.9 186.1 264.9 184.0 265.0 185.3 265.1 184.1 265.1 183.5 265.2 184.4 265.2 183.6 265.3 186.1 265.4 183.3 265.4 185.1 265.5 183.8 265.5 184.3 265.6 187.4 265.7 185.3 265.7 184.3 265.8 183.0 265.8 184.3 265.9 184.3 266.0 186.1 266.0 183.2 266.1 182.9 266.1 184.6 266.2 184.9 266.3 186.5 266.3 183.8 266.4 182.2 266.4 184.0 266.5 183.5 266.6 184.2 266.6 185.8 266.7 183.5 266.7 186.2 266.8 185.1 266.9 184.6 266.9 184.0 267.0 184.5 267.0 184.5 267.1 185.7 267.1 186.4 267.2 184.9 267.3 185.7 267.3 186.4 267.4 186.4 267.4 185.6 267.5 187.1 267.6 186.6 267.6 186.9 267.7 184.9 267.7 184.7 267.8 183.1 267.9 186.8 267.9 185.9 268.0 184.2 268.0 185.4 268.1 185.6 268.2 183.5 268.2 185.6 268.3 186.6 268.3 186.8 268.4 184.9 268.5 185.0 268.5 186.9 268.6 186.5 268.6 184.8 268.7 184.8 268.8 186.1 268.8 184.8 268.9 184.8 268.9 187.5 269.0 185.8 269.1 185.0 269.1 186.1 269.2 188.0 269.2 185.9 269.3 184.8 269.4 183.9 269.4 188.2 269.5 183.0 269.5 186.9 269.6 184.6 269.7 184.4 269.7 184.6 269.8 185.5 269.8 187.0 269.9 185.1 270.0 186.6 270.0 188.8 270.1 182.9 270.1 185.0 270.2 183.9 270.3 186.9 270.3 184.3 270.4 184.2 270.4 184.2 270.5 185.9 270.6 187.3 270.6 186.1 270.7 188.6 270.7 188.0 270.8 185.9 270.9 187.1 270.9 186.2 271.0 186.2 271.0 184.0 271.1 184.7 271.2 186.1 271.2 184.8 271.3 187.0 271.3 186.5 271.4 185.2 271.4 187.6 271.5 186.5 271.6 187.8 271.6 186.1 271.7 184.5 271.7 187.1 271.8 186.0 271.9 187.3 271.9 187.7 272.0 187.8 272.0 184.8 272.1 183.9 272.2 185.8 272.2 187.2 272.3 185.6 272.3 186.8 272.4 185.5 272.5 186.1 272.5 186.1 272.6 185.8 272.6 187.2 272.7 187.0 272.8 188.7 272.8 187.1 272.9 188.3 272.9 186.7 273.0 187.7 273.1 186.5 273.1 186.1 273.2 188.4 273.2 187.6 273.3 187.8 273.4 185.8 273.4 184.8 273.5 185.8 273.5 187.2 273.6 185.1 273.7 188.7 273.7 185.1 273.8 187.6 273.8 190.5 273.9 184.0 274.0 185.1 274.0 188.1 274.1 186.7 274.1 187.2 274.2 186.8 274.3 188.8 274.3 187.8 274.4 186.4 274.4 186.7 274.5 185.6 274.6 186.9 274.6 184.5 274.7 187.9 274.7 186.8 274.8 189.6 274.9 188.7 274.9 185.6 275.0 188.3 275.0 186.5 275.1 187.2 275.2 188.5 275.2 187.6 275.3 187.8 275.3 187.8 275.4 186.4 275.5 186.5 275.5 188.0 275.6 188.4 275.6 187.0 275.7 187.4 275.7 186.1 275.8 184.4 275.9 186.4 275.9 187.4 276.0 187.6 276.0 188.5 276.1 188.6 276.2 188.7 276.2 188.0 276.3 188.0 276.3 186.6 276.4 188.0 276.5 187.8 276.5 189.1 276.6 185.7 276.6 187.0 276.7 185.5 276.8 186.7 276.8 185.9 276.9 187.9 276.9 186.8 277.0 184.7 277.1 189.3 277.1 186.3 277.2 185.8 277.2 187.2 277.3 186.8 277.4 186.3 277.4 188.6 277.5 187.3 277.5 189.0 277.6 188.7 277.7 188.6 277.7 188.0 277.8 187.7 277.8 187.3 277.9 189.8 278.0 185.6 278.0 186.5 278.1 187.0 278.1 188.4 278.2 188.1 278.3 187.3 278.3 187.5 278.4 190.4 278.4 187.1 278.5 184.7 278.6 190.7 278.6 186.9 278.7 187.6 278.7 188.3 278.8 186.4 278.9 189.8 278.9 188.0 279.0 186.4 279.0 188.5 279.1 188.8 279.2 188.1 279.2 188.8 279.3 186.4 279.3 189.5 279.4 187.2 279.5 190.0 279.5 187.5 279.6 188.5 279.6 192.2 279.7 188.4 279.8 189.9 279.8 189.0 279.9 186.5 279.9 190.0 280.0 189.9 280.0 186.7 280.1 188.3 280.2 186.6 280.2 188.1 280.3 189.7 280.3 188.6 280.4 187.0 280.5 187.3 280.5 188.6 280.6 188.5 280.6 188.8 280.7 189.4 280.8 186.2 280.8 188.6 280.9 190.3 280.9 189.3 281.0 187.7 281.1 187.9 281.1 188.9 281.2 189.7 281.2 188.7 281.3 191.2 281.4 190.7 281.4 187.7 281.5 189.5 281.5 188.3 281.6 187.3 281.7 188.0 281.7 188.8 281.8 186.2 281.8 188.0 281.9 189.4 282.0 188.0 282.0 188.4 282.1 190.2 282.1 188.9 282.2 189.2 282.3 192.0 282.3 189.3 282.4 189.4 282.4 189.7 282.5 191.5 282.6 189.6 282.6 189.1 282.7 189.0 282.7 190.8 282.8 188.3 282.9 190.9 282.9 189.5 283.0 187.5 283.0 190.2 283.1 189.9 283.2 187.8 283.2 189.8 283.3 189.7 283.3 189.0 283.4 187.9 283.5 192.7 283.5 190.5 283.6 190.8 283.6 190.9 283.7 190.6 283.8 190.6 283.8 189.0 283.9 190.7 283.9 189.2 284.0 188.9 284.1 190.5 284.1 189.3 284.2 187.3 284.2 189.0 284.3 190.4 284.3 189.6 284.4 190.9 284.5 189.1 284.5 188.4 284.6 190.8 284.6 189.9 284.7 188.1 284.8 190.3 284.8 189.3 284.9 191.1 284.9 190.8 285.0 190.4 285.1 186.9 285.1 190.3 285.2 190.4 285.2 190.5 285.3 190.0 285.4 188.8 285.4 189.5 285.5 187.1 285.5 189.5 285.6 187.9 285.7 189.4 285.7 189.0 285.8 192.0 285.8 190.0 285.9 190.0 286.0 190.2 286.0 193.3 286.1 188.7 286.1 190.5 286.2 190.6 286.3 190.3 286.3 190.3 286.4 189.4 286.4 191.9 286.5 191.4 286.6 189.6 286.6 189.8 286.7 190.6 286.7 190.9 286.8 191.3 286.9 190.2 286.9 188.5 287.0 191.7 287.0 188.1 287.1 189.0 287.2 190.8 287.2 189.1 287.3 192.4 287.3 192.9 287.4 192.2 287.5 190.8 287.5 190.7 287.6 191.0 287.6 190.1 287.7 193.7 287.8 189.6 287.8 192.5 287.9 191.3 287.9 190.9 288.0 192.1 288.1 192.5 288.1 191.9 288.2 190.4 288.2 189.6 288.3 189.6 288.4 191.9 288.4 191.6 288.5 191.8 288.5 189.8 288.6 193.8 288.7 188.8 288.7 191.2 288.8 191.7 288.8 190.0 288.9 189.1 288.9 190.1 289.0 189.1 289.1 190.4 289.1 188.9 289.2 188.9 289.2 190.8 289.3 188.6 289.4 190.4 289.4 190.5 289.5 192.1 289.5 191.1 289.6 189.6 289.7 192.8 289.7 189.8 289.8 190.2 289.8 190.3 289.9 194.5 290.0 190.9 290.0 189.9 290.1 192.0 290.1 190.7 290.2 194.9 290.3 189.9 290.3 191.9 290.4 189.6 290.4 193.9 290.5 189.9 290.6 191.3 290.6 189.8 290.7 192.4 290.7 191.9 290.8 187.9 290.9 192.3 290.9 192.1 291.0 191.4 291.0 192.6 291.1 189.3 291.2 188.6 291.2 192.2 291.3 193.9 291.3 189.4 291.4 189.5 291.5 189.9 291.5 189.5 291.6 192.5 291.6 191.4 291.7 193.4 291.8 193.5 291.8 189.8 291.9 192.3 291.9 188.1 292.0 191.1 292.1 192.2 292.1 190.1 292.2 188.7 292.2 190.5 292.3 193.3 292.4 190.7 292.4 189.3 292.5 192.1 292.5 192.6 292.6 189.9 292.7 191.1 292.7 193.2 292.8 192.0 292.8 192.6 292.9 191.0 293.0 191.3 293.0 189.7 293.1 190.4 293.1 194.1 293.2 190.9 293.2 190.2 293.3 190.8 293.4 190.0 293.4 192.4 293.5 193.1 293.5 190.2 293.6 193.3 293.7 195.4 293.7 190.1 293.8 192.8 293.8 192.1 293.9 194.0 294.0 193.9 294.0 193.6 294.1 192.2 294.1 191.1 294.2 195.8 294.3 190.6 294.3 193.7 294.4 193.5 294.4 190.7 294.5 191.9 294.6 194.4 294.6 189.1 294.7 193.2 294.7 191.4 294.8 191.5 294.9 189.7 294.9 192.6 295.0 190.3 295.0 193.1 295.1 190.2 295.2 193.2 295.2 192.5 295.3 189.2 295.3 191.4 295.4 191.8 295.5 188.7 295.5 191.4 295.6 193.3 295.6 190.9 295.7 194.0 295.8 190.3 295.8 190.2 295.9 193.0 295.9 193.1 296.0 191.8 296.1 192.0 296.1 193.7 296.2 191.2 296.2 195.8 296.3 192.8 296.4 192.8 296.4 192.6 296.5 191.7 296.5 194.3 296.6 191.3 296.7 192.5 296.7 193.3 296.8 194.6 296.8 194.3 296.9 191.7 297.0 193.9 297.0 192.2 297.1 190.6 297.1 190.7 297.2 189.9 297.3 192.8 297.3 194.2 297.4 190.8 297.4 191.9 297.5 190.6 297.5 192.4 297.6 190.5 297.7 191.1 297.7 191.3 297.8 191.6 297.8 191.8 297.9 192.1 298.0 192.1 298.0 190.9 298.1 193.4 298.1 189.9 298.2 192.7 298.3 191.0 298.3 192.7 298.4 193.0 298.4 189.5 298.5 193.1 298.6 194.9 298.6 193.8 298.7 193.1 298.7 189.4 298.8 192.3 298.9 191.2 298.9 194.4 299.0 192.1 299.0 191.6 299.1 189.9 299.2 193.9 299.2 191.7 299.3 192.2 299.3 194.6 299.4 192.8 299.5 193.2 299.5 197.3 299.6 191.8 299.6 191.9 299.7 193.6 299.8 195.3 299.8 190.5 299.9 192.4 299.9 191.2 300.0 190.6 300.1 193.8 300.1 191.6 300.2 193.3 300.2 193.0 300.3 193.1 300.4 192.9 300.4 191.2 300.5 192.7 300.5 193.2 300.6 193.5 300.7 192.4 300.7 194.6 300.8 193.9 300.8 193.1 300.9 194.0 301.0 193.2 301.0 194.1 301.1 190.0 301.1 191.0 301.2 192.3 301.3 193.2 301.3 189.8 301.4 192.6 301.4 193.3 301.5 192.6 301.6 192.6 301.6 190.9 301.7 193.2 301.7 189.9 301.8 194.8 301.8 192.1 301.9 195.1 302.0 190.4 302.0 193.8 302.1 193.4 302.1 191.7 302.2 191.2 302.3 195.4 302.3 193.9 302.4 196.0 302.4 193.1 302.5 193.5 302.6 194.0 302.6 194.6 302.7 194.1 302.7 194.7 302.8 192.5 302.9 191.0 302.9 197.2 303.0 193.6 303.0 194.2 303.1 192.6 303.2 195.2 303.2 193.7 303.3 195.4 303.3 192.3 303.4 193.3 303.5 193.8 303.5 192.9 303.6 194.0 303.6 196.6 303.7 192.5 303.8 193.1 303.8 193.9 303.9 191.9 303.9 191.6 304.0 195.7 304.1 195.1 304.1 191.1 304.2 191.3 304.2 195.0 304.3 195.9 304.4 194.9 304.4 194.6 304.5 196.8 304.5 193.7 304.6 196.2 304.7 196.1 304.7 192.2 304.8 195.0 304.8 193.9 304.9 192.7 305.0 192.4 305.0 194.4 305.1 193.7 305.1 195.4 305.2 191.0 305.3 192.7 305.3 196.0 305.4 193.9 305.4 192.6 305.5 193.0 305.6 190.9 305.6 191.6 305.7 194.9 305.7 194.1 305.8 196.5 305.9 193.5 305.9 193.7 306.0 189.7 306.0 193.8 306.1 198.4 306.1 195.3 306.2 193.8 306.3 196.5 306.3 195.7 306.4 194.7 306.4 193.4 306.5 194.4 306.6 195.8 306.6 192.7 306.7 195.1 306.7 195.0 306.8 196.9 306.9 195.6 306.9 193.0 307.0 197.4 307.0 194.3 307.1 192.9 307.2 194.9 307.2 193.8 307.3 196.4 307.3 192.0 307.4 192.3 307.5 193.8 307.5 197.9 307.6 196.3 307.6 192.6 307.7 191.4 307.8 193.7 307.8 192.1 307.9 195.5 307.9 194.7 308.0 194.3 308.1 193.6 308.1 197.5 308.2 192.7 308.2 192.1 308.3 196.7" fill="none" stroke="#ff0a84" stroke-width="0.55" stroke-linejoin="bevel"/>
<clipPath id="k8"><rect x="181.2" y="123.5" width="127.10" height="92.80"/></clipPath>
<path clip-path="url(#k8)" d="M187.3 134.2 187.4 134.2 187.4 134.2 187.5 134.1 187.5 134.4 187.6 134.2 187.7 134.4 187.7 134.3 187.8 134.4 187.8 134.5 187.9 134.7 188.0 134.9 188.0 135.0 188.1 135.1 188.1 135.5 188.2 135.5 188.3 135.8 188.3 135.8 188.4 136.3 188.4 136.5 188.5 136.6 188.6 136.8 188.6 137.3 188.7 137.3 188.7 137.6 188.8 137.8 188.8 138.0 188.9 138.2 189.0 138.7 189.0 138.5 189.1 139.1 189.1 139.5 189.2 139.4 189.3 139.4 189.3 139.9 189.4 139.9 189.4 140.1 189.5 140.6 189.6 141.1 189.6 141.1 189.7 140.9 189.7 141.4 189.8 141.7 189.9 141.8 189.9 141.8 190.0 142.0 190.0 142.0 190.1 142.2 190.2 142.7 190.2 142.7 190.3 143.1 190.3 143.1 190.4 143.5 190.5 143.7 190.5 143.3 190.6 143.8 190.6 143.9 190.7 143.8 190.8 144.3 190.8 144.6 190.9 144.8 190.9 145.1 191.0 144.9 191.1 145.4 191.1 145.2 191.2 145.7 191.2 145.9 191.3 146.1 191.3 146.1 191.4 146.4 191.5 146.3 191.5 146.9 191.6 146.9 191.6 146.7 191.7 147.3 191.8 147.3 191.8 147.3 191.9 147.6 191.9 148.1 192.0 148.5 192.1 147.8 192.1 148.3 192.2 148.3 192.2 148.8 192.3 148.5 192.4 148.9 192.4 149.1 192.5 149.5 192.5 149.3 192.6 149.7 192.7 149.7 192.7 150.2 192.8 150.1 192.8 150.1 192.9 150.5 193.0 150.3 193.0 150.3 193.1 150.7 193.1 150.9 193.2 151.0 193.3 150.8 193.3 151.5 193.4 151.3 193.4 151.5 193.5 151.5 193.6 151.7 193.6 152.0 193.7 151.4 193.7 152.0 193.8 152.5 193.9 152.5 193.9 152.4 194.0 152.3 194.0 153.0 194.1 152.6 194.1 153.2 194.2 153.2 194.3 152.9 194.3 152.8 194.4 153.3 194.4 153.5 194.5 153.2 194.6 153.9 194.6 153.7 194.7 153.8 194.7 153.7 194.8 154.0 194.9 154.3 194.9 154.1 195.0 154.7 195.0 154.3 195.1 154.8 195.2 155.0 195.2 155.0 195.3 154.9 195.3 154.9 195.4 155.2 195.5 155.1 195.5 155.1 195.6 155.5 195.6 155.9 195.7 155.4 195.8 155.7 195.8 156.5 195.9 156.3 195.9 156.1 196.0 156.6 196.1 156.5 196.1 156.9 196.2 156.4 196.2 156.5 196.3 156.7 196.4 156.4 196.4 157.0 196.5 157.1 196.5 156.5 196.6 157.6 196.6 157.1 196.7 157.8 196.8 157.4 196.8 156.9 196.9 157.6 196.9 158.0 197.0 157.1 197.1 158.2 197.1 158.2 197.2 158.1 197.2 158.7 197.3 158.0 197.4 157.9 197.4 158.3 197.5 158.5 197.5 158.8 197.6 158.5 197.7 160.0 197.7 159.1 197.8 159.0 197.8 159.9 197.9 159.2 198.0 159.4 198.0 159.5 198.1 159.5 198.1 159.5 198.2 159.6 198.3 160.2 198.3 160.0 198.4 160.1 198.4 160.1 198.5 160.4 198.6 159.9 198.6 159.9 198.7 159.9 198.7 159.9 198.8 160.1 198.9 160.9 198.9 161.0 199.0 161.1 199.0 160.8 199.1 161.1 199.1 160.8 199.2 160.6 199.3 161.5 199.3 161.0 199.4 161.6 199.4 162.1 199.5 162.2 199.6 161.9 199.6 162.6 199.7 161.7 199.7 161.4 199.8 162.5 199.9 162.3 199.9 161.6 200.0 162.2 200.0 162.3 200.1 162.6 200.2 162.1 200.2 162.5 200.3 163.2 200.3 163.8 200.4 164.0 200.5 162.7 200.5 163.1 200.6 162.5 200.6 162.9 200.7 163.8 200.8 163.2 200.8 162.9 200.9 163.8 200.9 163.7 201.0 162.9 201.1 164.5 201.1 164.2 201.2 163.4 201.2 163.8 201.3 164.5 201.4 164.7 201.4 163.9 201.5 163.6 201.5 163.9 201.6 164.1 201.7 163.7 201.7 164.3 201.8 164.9 201.8 163.7 201.9 165.2 201.9 164.8 202.0 164.8 202.1 164.2 202.1 165.3 202.2 165.1 202.2 165.9 202.3 165.0 202.4 165.0 202.4 165.0 202.5 165.8 202.5 165.3 202.6 165.9 202.7 165.8 202.7 165.6 202.8 165.0 202.8 165.9 202.9 165.7 203.0 166.3 203.0 166.2 203.1 166.3 203.1 166.1 203.2 165.7 203.3 166.7 203.3 165.9 203.4 166.8 203.4 166.2 203.5 166.7 203.6 166.6 203.6 166.7 203.7 166.1 203.7 166.5 203.8 166.2 203.9 167.0 203.9 167.0 204.0 166.1 204.0 167.8 204.1 167.5 204.2 167.2 204.2 166.2 204.3 167.5 204.3 166.8 204.4 166.5 204.4 167.5 204.5 167.5 204.6 166.6 204.6 167.8 204.7 168.2 204.7 167.2 204.8 168.0 204.9 167.1 204.9 167.5 205.0 168.9 205.0 167.8 205.1 168.0 205.2 168.4 205.2 167.5 205.3 169.2 205.3 168.9 205.4 168.6 205.5 167.9 205.5 169.3 205.6 168.8 205.6 168.9 205.7 169.4 205.8 168.8 205.8 169.3 205.9 169.0 205.9 168.6 206.0 169.3 206.1 169.4 206.1 169.5 206.2 169.5 206.2 170.0 206.3 169.8 206.4 169.1 206.4 169.7 206.5 167.4 206.5 169.8 206.6 169.1 206.7 170.3 206.7 169.6 206.8 169.8 206.8 169.6 206.9 168.8 207.0 169.7 207.0 170.4 207.1 169.7 207.1 170.4 207.2 169.9 207.2 168.9 207.3 169.4 207.4 169.3 207.4 169.7 207.5 170.1 207.5 171.1 207.6 170.5 207.7 170.5 207.7 169.8 207.8 169.7 207.8 170.1 207.9 170.9 208.0 169.3 208.0 169.6 208.1 170.7 208.1 170.5 208.2 170.2 208.3 170.6 208.3 170.8 208.4 170.5 208.4 170.8 208.5 170.7 208.6 172.0 208.6 172.0 208.7 169.9 208.7 172.1 208.8 170.8 208.9 170.9 208.9 171.1 209.0 171.7 209.0 170.6 209.1 171.1 209.2 171.6 209.2 172.4 209.3 171.6 209.3 171.9 209.4 172.4 209.5 171.4 209.5 171.3 209.6 171.2 209.6 171.7 209.7 172.0 209.7 171.1 209.8 171.4 209.9 170.4 209.9 171.6 210.0 172.7 210.0 171.4 210.1 170.6 210.2 171.9 210.2 172.3 210.3 172.6 210.3 171.0 210.4 172.4 210.5 172.5 210.5 172.2 210.6 173.5 210.6 172.7 210.7 173.4 210.8 172.7 210.8 172.3 210.9 172.0 210.9 173.0 211.0 172.2 211.1 173.1 211.1 174.1 211.2 172.4 211.2 173.0 211.3 172.9 211.4 175.0 211.4 172.9 211.5 172.9 211.5 172.9 211.6 172.4 211.7 173.5 211.7 171.7 211.8 172.7 211.8 172.9 211.9 175.3 212.0 174.9 212.0 172.4 212.1 173.2 212.1 172.8 212.2 173.8 212.3 173.7 212.3 173.2 212.4 174.3 212.4 172.7 212.5 174.6 212.5 173.6 212.6 174.0 212.7 173.6 212.7 173.0 212.8 174.8 212.8 173.6 212.9 173.9 213.0 173.4 213.0 174.1 213.1 174.5 213.1 173.8 213.2 173.2 213.3 173.6 213.3 174.2 213.4 174.0 213.4 175.6 213.5 174.8 213.6 174.7 213.6 174.9 213.7 175.1 213.7 174.6 213.8 174.3 213.9 173.2 213.9 175.3 214.0 175.5 214.0 174.0 214.1 174.7 214.2 175.6 214.2 173.7 214.3 175.1 214.3 175.2 214.4 175.5 214.5 175.8 214.5 175.0 214.6 176.0 214.6 173.3 214.7 175.0 214.8 175.5 214.8 176.0 214.9 175.1 214.9 174.6 215.0 175.2 215.0 176.5 215.1 175.7 215.2 177.1 215.2 174.5 215.3 175.1 215.3 175.5 215.4 175.5 215.5 176.3 215.5 175.9 215.6 175.1 215.6 175.9 215.7 175.4 215.8 175.8 215.8 175.8 215.9 175.8 215.9 175.2 216.0 176.4 216.1 175.6 216.1 176.9 216.2 176.8 216.2 176.9 216.3 175.6 216.4 176.6 216.4 175.4 216.5 177.4 216.5 176.2 216.6 177.6 216.7 175.6 216.7 177.2 216.8 176.2 216.8 177.3 216.9 177.4 217.0 176.6 217.0 178.5 217.1 178.0 217.1 175.6 217.2 177.7 217.3 176.2 217.3 177.8 217.4 178.6 217.4 177.5 217.5 176.3 217.6 177.2 217.6 177.5 217.7 176.5 217.7 178.0 217.8 176.7 217.8 177.1 217.9 178.4 218.0 176.6 218.0 176.5 218.1 177.8 218.1 177.5 218.2 177.9 218.3 178.8 218.3 176.9 218.4 178.7 218.4 177.3 218.5 178.3 218.6 178.9 218.6 177.3 218.7 177.7 218.7 176.3 218.8 178.1 218.9 177.9 218.9 178.0 219.0 178.4 219.0 176.9 219.1 176.8 219.2 177.6 219.2 179.3 219.3 177.9 219.3 178.3 219.4 178.8 219.5 180.0 219.5 177.6 219.6 177.3 219.6 178.2 219.7 178.1 219.8 176.9 219.8 176.8 219.9 178.4 219.9 181.9 220.0 178.0 220.1 178.6 220.1 178.1 220.2 179.4 220.2 179.9 220.3 178.4 220.3 179.3 220.4 178.9 220.5 178.6 220.5 178.9 220.6 180.7 220.6 178.5 220.7 179.7 220.8 179.4 220.8 178.8 220.9 180.9 220.9 179.6 221.0 181.4 221.1 180.0 221.1 179.1 221.2 179.6 221.2 179.8 221.3 178.9 221.4 180.0 221.4 181.4 221.5 178.6 221.5 179.5 221.6 178.9 221.7 180.2 221.7 180.3 221.8 180.7 221.8 182.2 221.9 180.5 222.0 180.7 222.0 178.4 222.1 182.3 222.1 180.1 222.2 180.3 222.3 180.3 222.3 180.4 222.4 180.0 222.4 179.4 222.5 182.3 222.6 179.5 222.6 180.7 222.7 181.6 222.7 182.7 222.8 182.7 222.8 180.6 222.9 181.9 223.0 182.0 223.0 181.2 223.1 180.7 223.1 181.3 223.2 182.1 223.3 181.5 223.3 181.0 223.4 182.1 223.4 179.8 223.5 179.5 223.6 179.5 223.6 181.3 223.7 181.3 223.7 182.1 223.8 179.5 223.9 181.6 223.9 178.7 224.0 183.7 224.0 180.8 224.1 180.5 224.2 181.1 224.2 180.5 224.3 179.0 224.3 181.3 224.4 180.3 224.5 181.8 224.5 182.9 224.6 182.6 224.6 180.4 224.7 181.0 224.8 183.2 224.8 181.1 224.9 180.7 224.9 180.9 225.0 180.2 225.1 183.4 225.1 182.7 225.2 182.9 225.2 181.4 225.3 180.1 225.4 182.2 225.4 181.2 225.5 180.7 225.5 182.3 225.6 180.8 225.6 181.9 225.7 179.8 225.8 180.2 225.8 182.4 225.9 182.5 225.9 179.8 226.0 183.0 226.1 180.5 226.1 182.4 226.2 183.4 226.2 180.0 226.3 181.5 226.4 183.4 226.4 182.3 226.5 183.0 226.5 183.3 226.6 182.2 226.7 180.8 226.7 184.0 226.8 181.6 226.8 184.2 226.9 182.3 227.0 184.2 227.0 184.1 227.1 183.2 227.1 181.2 227.2 181.4 227.3 182.6 227.3 182.9 227.4 182.3 227.4 179.3 227.5 182.1 227.6 182.7 227.6 183.2 227.7 183.0 227.7 181.8 227.8 181.9 227.9 186.1 227.9 180.2 228.0 182.2 228.0 182.9 228.1 179.6 228.1 184.9 228.2 184.5 228.3 181.4 228.3 182.9 228.4 181.8 228.4 181.4 228.5 180.7 228.6 182.1 228.6 183.8 228.7 185.4 228.7 182.8 228.8 185.6 228.9 183.0 228.9 184.2 229.0 182.6 229.0 182.2 229.1 183.2 229.2 185.1 229.2 183.0 229.3 184.2 229.3 182.8 229.4 183.9 229.5 180.4 229.5 184.1 229.6 186.2 229.6 184.6 229.7 183.3 229.8 180.0 229.8 181.6 229.9 184.3 229.9 183.4 230.0 185.2 230.1 185.6 230.1 182.3 230.2 183.0 230.2 184.6 230.3 184.6 230.4 183.0 230.4 182.7 230.5 184.8 230.5 186.2 230.6 182.5 230.7 184.8 230.7 186.5 230.8 184.0 230.8 183.5 230.9 182.5 230.9 184.4 231.0 183.5 231.1 185.7 231.1 183.2 231.2 186.2 231.2 183.1 231.3 183.7 231.4 186.3 231.4 184.9 231.5 181.8 231.5 185.6 231.6 186.6 231.7 184.5 231.7 183.9 231.8 183.0 231.8 184.3 231.9 184.8 232.0 184.5 232.0 183.1 232.1 184.5 232.1 183.5 232.2 187.1 232.3 184.8 232.3 184.4 232.4 182.9 232.4 183.7 232.5 184.0 232.6 182.9 232.6 184.1 232.7 180.4 232.7 185.8 232.8 184.3 232.9 182.0 232.9 183.4 233.0 184.0 233.0 183.1 233.1 185.2 233.2 184.4 233.2 184.3 233.3 182.0 233.3 184.1 233.4 181.8 233.4 184.7 233.5 184.3 233.6 187.4 233.6 183.8 233.7 188.0 233.7 183.8 233.8 183.4 233.9 184.2 233.9 186.4 234.0 185.2 234.0 189.4 234.1 186.0 234.2 184.5 234.2 184.9 234.3 185.5 234.3 183.1 234.4 184.4 234.5 185.0 234.5 184.7 234.6 186.7 234.6 185.3 234.7 188.4 234.8 190.0 234.8 185.7 234.9 183.8 234.9 186.9 235.0 184.6 235.1 188.1 235.1 185.3 235.2 185.2 235.2 185.3 235.3 187.7 235.4 184.5 235.4 184.3 235.5 184.5 235.5 182.2 235.6 185.9 235.7 185.1 235.7 183.6 235.8 187.6 235.8 186.9 235.9 183.8 236.0 186.0 236.0 186.8 236.1 184.7 236.1 187.8 236.2 185.3 236.2 187.2 236.3 186.6 236.4 190.4 236.4 185.3 236.5 185.2 236.5 185.9 236.6 186.7 236.7 185.3 236.7 183.5 236.8 184.4 236.8 186.9 236.9 185.3 237.0 186.1 237.0 184.9 237.1 187.1 237.1 183.6 237.2 187.1 237.3 187.5 237.3 185.3 237.4 183.5 237.4 188.8 237.5 185.8 237.6 184.9 237.6 182.1 237.7 188.5 237.7 184.2 237.8 187.2 237.9 186.5 237.9 184.5 238.0 185.9 238.0 188.4 238.1 186.4 238.2 186.7 238.2 185.8 238.3 187.7 238.3 187.3 238.4 186.7 238.5 186.1 238.5 186.5 238.6 185.5 238.6 185.2 238.7 185.7 238.7 187.4 238.8 189.0 238.9 187.8 238.9 187.5 239.0 186.8 239.0 185.0 239.1 186.5 239.2 188.1 239.2 188.8 239.3 186.7 239.3 186.9 239.4 188.4 239.5 189.5 239.5 187.1 239.6 186.0 239.6 186.3 239.7 189.2 239.8 187.4 239.8 187.0 239.9 188.4 239.9 186.8 240.0 187.8 240.1 185.3 240.1 187.9 240.2 184.3 240.2 185.2 240.3 186.1 240.4 186.3 240.4 184.6 240.5 187.4 240.5 186.1 240.6 187.2 240.7 184.4 240.7 187.3 240.8 187.2 240.8 192.1 240.9 186.4 241.0 187.5 241.0 186.0 241.1 189.6 241.1 188.5 241.2 184.9 241.2 188.3 241.3 186.6 241.4 185.5 241.4 186.9 241.5 186.9 241.5 185.1 241.6 188.0 241.7 186.1 241.7 187.5 241.8 189.1 241.8 187.0 241.9 185.0 242.0 187.4 242.0 188.4 242.1 187.5 242.1 188.0 242.2 186.3 242.3 189.0 242.3 185.7 242.4 186.5 242.4 185.3 242.5 188.0 242.6 185.7 242.6 189.1 242.7 186.3 242.7 187.7 242.8 189.4 242.9 186.0 242.9 185.0 243.0 184.5 243.0 186.6 243.1 187.8 243.2 185.0 243.2 189.2 243.3 187.2 243.3 190.3 243.4 187.2 243.5 187.0 243.5 188.2 243.6 185.8 243.6 187.7 243.7 186.7 243.8 186.6 243.8 187.8 243.9 192.9 243.9 188.3 244.0 187.3 244.0 189.5 244.1 187.5 244.2 190.6 244.2 186.6 244.3 186.6 244.3 187.0 244.4 188.6 244.5 187.2 244.5 190.2 244.6 189.2 244.6 187.1 244.7 189.1 244.8 188.3 244.8 187.9 244.9 186.1 244.9 189.1 245.0 188.9 245.1 189.2 245.1 191.2 245.2 187.6 245.2 192.2 245.3 189.5 245.4 185.8 245.4 188.0 245.5 192.8 245.5 190.0 245.6 185.3 245.7 188.6 245.7 185.1 245.8 189.2 245.8 193.4 245.9 187.7 246.0 188.6 246.0 187.7 246.1 190.3 246.1 190.3 246.2 189.4 246.3 190.3 246.3 186.8 246.4 186.4 246.4 188.7 246.5 186.7 246.5 189.7 246.6 188.9 246.7 191.8 246.7 186.2 246.8 189.4 246.8 186.2 246.9 186.3 247.0 187.5 247.0 188.0 247.1 190.5 247.1 186.9 247.2 187.3 247.3 186.5 247.3 187.8 247.4 190.9 247.4 190.7 247.5 186.8 247.6 185.7 247.6 189.0 247.7 188.6 247.7 187.9 247.8 188.2 247.9 188.0 247.9 189.1 248.0 188.2 248.0 189.7 248.1 188.8 248.2 187.4 248.2 188.6 248.3 189.9 248.3 188.2 248.4 191.0 248.5 190.0 248.5 190.9 248.6 188.3 248.6 187.6 248.7 189.5 248.8 190.6 248.8 188.0 248.9 188.4 248.9 192.2 249.0 187.2 249.1 187.2 249.1 189.4 249.2 189.1 249.2 189.2 249.3 189.9 249.3 188.2 249.4 190.5 249.5 189.6 249.5 188.8 249.6 192.8 249.6 190.1 249.7 191.8 249.8 190.1 249.8 190.2 249.9 189.6 249.9 189.0 250.0 191.4 250.1 188.8 250.1 193.1 250.2 187.6 250.2 189.5 250.3 187.9 250.4 193.8 250.4 187.0 250.5 190.1 250.5 188.8 250.6 189.3 250.7 189.7 250.7 190.5 250.8 194.2 250.8 187.3 250.9 186.2 251.0 190.8 251.0 187.1 251.1 187.8 251.1 188.9 251.2 189.8 251.3 188.4 251.3 190.9 251.4 190.3 251.4 190.7 251.5 191.2 251.6 190.8 251.6 188.5 251.7 188.4 251.7 191.4 251.8 189.8 251.8 190.1 251.9 193.6 252.0 187.6 252.0 192.1 252.1 187.6 252.1 195.3 252.2 191.4 252.3 188.3 252.3 188.9 252.4 188.8 252.4 189.8 252.5 186.1 252.6 189.6 252.6 189.1 252.7 191.3 252.7 191.5 252.8 187.3 252.9 187.3 252.9 194.0 253.0 191.0 253.0 187.5 253.1 189.7 253.2 188.0 253.2 194.1 253.3 189.5 253.3 189.9 253.4 189.8 253.5 191.3 253.5 190.0 253.6 186.7 253.6 192.3 253.7 190.1 253.8 190.6 253.8 190.5 253.9 186.7 253.9 187.1 254.0 190.8 254.1 189.0 254.1 191.8 254.2 189.4 254.2 190.9 254.3 187.3 254.4 189.2 254.4 192.5 254.5 194.4 254.5 192.7 254.6 186.3 254.6 192.3 254.7 193.5 254.8 191.7 254.8 191.3 254.9 189.0 254.9 191.9 255.0 187.1 255.1 190.2 255.1 189.6 255.2 187.6 255.2 189.9 255.3 189.6 255.4 189.0 255.4 191.9 255.5 191.5 255.5 189.0 255.6 192.1 255.7 191.6 255.7 188.5 255.8 189.2 255.8 189.7 255.9 193.1 256.0 186.8 256.0 190.8 256.1 191.2 256.1 190.9 256.2 192.4 256.3 191.1 256.3 186.8 256.4 194.2 256.4 186.4 256.5 192.8 256.6 192.8 256.6 188.0 256.7 187.0 256.7 191.5 256.8 189.0 256.9 192.5 256.9 191.5 257.0 192.5 257.0 190.5 257.1 192.3 257.1 190.5 257.2 191.6 257.3 190.9 257.3 190.8 257.4 192.5 257.4 191.8 257.5 193.7 257.6 189.9 257.6 189.5 257.7 191.9 257.7 191.7 257.8 192.4 257.9 192.2 257.9 190.8 258.0 195.4 258.0 194.8 258.1 191.0 258.2 189.4 258.2 192.8 258.3 189.6 258.3 189.3 258.4 191.0 258.5 187.0 258.5 191.6 258.6 191.0 258.6 194.1 258.7 193.8 258.8 191.1 258.8 190.1 258.9 191.9 258.9 191.5 259.0 191.2 259.1 189.8 259.1 195.9 259.2 189.8 259.2 193.6 259.3 190.5 259.4 189.9 259.4 195.2 259.5 189.3 259.5 191.5 259.6 192.9 259.6 188.1 259.7 194.9 259.8 195.7 259.8 191.3 259.9 190.8 259.9 192.3 260.0 190.5 260.1 198.6 260.1 189.7 260.2 191.4 260.2 194.6 260.3 194.9 260.4 190.8 260.4 191.0 260.5 193.5 260.5 191.6 260.6 191.8 260.7 189.6 260.7 194.2 260.8 189.7 260.8 191.6 260.9 191.7 261.0 190.7 261.0 193.0 261.1 195.6 261.1 196.2 261.2 189.7 261.3 196.6 261.3 189.7 261.4 193.7 261.4 189.6 261.5 194.2 261.6 191.3 261.6 191.5 261.7 190.3 261.7 192.9 261.8 191.0 261.9 188.7 261.9 195.5 262.0 189.8 262.0 194.7 262.1 189.9 262.2 192.9 262.2 189.0 262.3 192.6 262.3 193.2 262.4 189.8 262.4 192.6 262.5 192.5 262.6 190.0 262.6 189.0 262.7 190.2 262.7 197.3 262.8 191.3 262.9 191.4 262.9 190.1 263.0 189.8 263.0 189.8 263.1 190.9 263.2 187.9 263.2 192.4 263.3 193.6 263.3 195.2 263.4 192.9 263.5 190.3 263.5 191.9 263.6 189.1 263.6 192.0 263.7 193.3 263.8 188.9 263.8 192.5 263.9 189.6 263.9 198.4 264.0 195.4 264.1 193.3 264.1 194.7 264.2 191.5 264.2 191.9 264.3 191.6 264.4 194.3 264.4 194.3 264.5 193.8 264.5 189.1 264.6 192.9 264.7 190.2 264.7 194.3 264.8 196.1 264.8 192.0 264.9 190.2 264.9 197.0 265.0 193.8 265.1 191.0 265.1 193.1 265.2 193.3 265.2 190.8 265.3 192.2 265.4 192.1 265.4 193.8 265.5 192.0 265.5 193.9 265.6 189.6 265.7 203.0 265.7 192.4 265.8 191.0 265.8 195.2 265.9 191.3 266.0 194.5 266.0 191.1 266.1 189.2 266.1 193.3 266.2 188.1 266.3 192.8 266.3 200.3 266.4 193.8 266.4 192.5 266.5 192.3 266.6 192.9 266.6 192.0 266.7 193.4 266.7 190.0 266.8 192.1 266.9 193.3 266.9 189.0 267.0 196.5 267.0 198.6 267.1 194.8 267.2 201.2 267.2 191.8 267.3 193.8 267.3 188.6 267.4 195.6 267.5 196.4 267.5 191.5 267.6 191.6 267.6 191.5 267.7 194.7 267.7 194.7 267.8 191.9 267.9 193.6 267.9 191.8 268.0 190.6 268.0 193.9 268.1 191.8 268.2 199.0 268.2 189.7 268.3 189.8 268.3 192.8 268.4 193.8 268.5 192.8 268.5 192.6 268.6 193.3 268.6 194.9 268.7 192.5 268.8 190.4 268.8 199.0 268.9 194.5 268.9 195.4 269.0 196.4 269.1 193.3 269.1 200.2 269.2 194.4 269.2 191.3 269.3 191.2 269.4 191.7 269.4 192.5 269.5 191.4 269.5 193.0 269.6 192.2 269.7 191.6 269.7 190.0 269.8 190.9 269.8 191.3 269.9 197.7 270.0 192.7 270.0 193.0 270.1 194.8 270.1 196.3 270.2 191.9 270.2 193.2 270.3 194.3 270.4 196.6 270.4 195.6 270.5 194.9 270.5 192.8 270.6 189.9 270.7 193.1 270.7 199.9 270.8 192.6 270.8 192.5 270.9 196.6 271.0 197.6 271.0 193.7 271.1 191.9 271.1 192.8 271.2 190.2 271.3 194.2 271.3 193.8 271.4 196.4 271.4 191.6 271.5 193.4 271.6 192.6 271.6 201.6 271.7 199.6 271.7 193.1 271.8 192.5 271.9 195.2 271.9 194.9 272.0 192.3 272.0 196.5 272.1 194.1 272.2 197.0 272.2 195.9 272.3 192.2 272.3 199.8 272.4 196.4 272.5 203.1 272.5 193.4 272.6 193.7 272.6 188.1 272.7 195.4 272.8 193.7 272.8 191.6 272.9 192.6 272.9 195.1 273.0 191.3 273.0 204.4 273.1 193.1 273.2 196.5 273.2 196.6 273.3 197.5 273.3 193.5 273.4 197.5 273.5 194.1 273.5 190.4 273.6 196.6 273.6 194.2 273.7 196.3 273.8 198.7 273.8 193.1 273.9 191.6 273.9 196.6 274.0 194.5 274.1 195.0 274.1 196.8 274.2 192.6 274.2 201.6 274.3 191.1 274.4 196.3 274.4 190.5 274.5 193.4 274.5 195.0 274.6 200.4 274.7 199.0 274.7 193.1 274.8 197.1 274.8 192.6 274.9 199.0 275.0 192.2 275.0 195.0 275.1 193.9 275.1 197.7 275.2 196.2 275.3 193.6 275.3 194.6 275.4 198.0 275.4 194.5 275.5 200.0 275.5 190.3 275.6 193.6 275.7 196.6 275.7 196.0 275.8 198.4 275.8 194.9 275.9 206.2 276.0 195.3 276.0 191.0 276.1 202.9 276.1 194.8 276.2 196.9 276.3 195.8 276.3 199.1 276.4 192.7 276.4 199.6 276.5 192.7 276.6 192.5 276.6 194.7 276.7 193.7 276.7 202.3 276.8 197.3 276.9 205.1 276.9 193.6 277.0 192.3 277.0 200.4 277.1 194.8 277.2 196.0 277.2 202.2 277.3 196.4 277.3 195.1 277.4 192.7 277.5 195.7 277.5 193.6 277.6 190.6 277.6 192.4 277.7 197.8 277.8 193.8 277.8 191.1 277.9 188.9 277.9 193.1 278.0 192.2 278.1 192.8 278.1 190.2 278.2 192.7 278.2 192.3 278.3 198.0 278.3 196.1 278.4 200.4 278.5 198.0 278.5 194.3 278.6 192.3 278.6 192.4 278.7 193.9 278.8 190.0 278.8 199.4 278.9 195.3 278.9 191.5 279.0 194.2 279.1 194.7 279.1 192.7 279.2 197.5 279.2 197.4 279.3 196.4 279.4 190.7 279.4 199.6 279.5 197.2 279.5 189.9 279.6 194.2 279.7 196.1 279.7 202.1 279.8 194.9 279.8 195.5 279.9 192.9 280.0 198.1 280.0 197.6 280.1 193.2 280.1 198.6 280.2 191.4 280.3 196.0 280.3 194.3 280.4 197.4 280.4 191.2 280.5 197.3 280.6 192.1 280.6 197.1 280.7 194.4 280.7 198.4 280.8 193.5 280.8 191.6 280.9 197.2 281.0 191.0 281.0 195.3 281.1 198.0 281.1 194.8 281.2 197.0 281.3 195.0 281.3 197.2 281.4 201.3 281.4 192.4 281.5 195.0 281.6 196.8 281.6 194.0 281.7 200.5 281.7 196.5 281.8 193.8 281.9 192.1 281.9 195.2 282.0 193.4 282.0 202.2 282.1 195.9 282.2 193.4 282.2 192.3 282.3 199.9 282.3 191.7 282.4 189.8 282.5 195.3 282.5 202.2 282.6 194.0 282.6 194.0 282.7 197.3 282.8 192.2 282.8 191.3 282.9 199.4 282.9 199.6 283.0 195.3 283.1 192.8 283.1 200.5 283.2 198.8 283.2 197.1 283.3 199.0 283.3 197.0 283.4 193.5 283.5 199.3 283.5 194.2 283.6 196.3 283.6 197.2 283.7 201.5 283.8 195.7 283.8 194.8 283.9 199.1 283.9 193.8 284.0 193.6 284.1 195.9 284.1 199.4 284.2 196.7 284.2 193.7 284.3 193.8 284.4 196.7 284.4 197.1 284.5 194.2 284.5 194.4 284.6 193.5 284.7 200.3 284.7 196.8 284.8 193.9 284.8 198.9 284.9 196.0 285.0 198.9 285.0 193.7 285.1 192.8 285.1 198.2 285.2 190.4 285.3 194.0 285.3 197.4 285.4 194.9 285.4 197.9 285.5 193.5 285.6 196.9 285.6 199.4 285.7 197.3 285.7 201.1 285.8 206.3 285.9 201.9 285.9 195.0 286.0 198.6 286.0 195.5 286.1 198.3 286.1 196.9 286.2 195.8 286.3 194.3 286.3 200.2 286.4 199.8 286.4 196.6 286.5 192.5 286.6 195.9 286.6 197.4 286.7 197.3 286.7 197.6 286.8 198.9 286.9 194.3 286.9 191.8 287.0 196.0 287.0 202.4 287.1 204.2 287.2 191.7 287.2 203.8 287.3 190.8 287.3 195.5 287.4 197.4 287.5 194.4 287.5 196.8 287.6 192.4 287.6 198.6 287.7 196.0 287.8 198.8 287.8 195.4 287.9 194.6 287.9 202.0 288.0 203.5 288.1 194.1 288.1 194.7 288.2 195.6 288.2 199.6 288.3 201.4 288.4 200.8 288.4 197.1 288.5 200.7 288.5 200.8 288.6 196.0 288.6 192.5 288.7 191.9 288.8 196.3 288.8 193.8 288.9 195.6 288.9 196.0 289.0 197.4 289.1 199.3 289.1 199.0 289.2 196.4 289.2 193.1 289.3 202.4 289.4 199.2 289.4 201.6 289.5 195.2 289.5 190.8 289.6 195.8 289.7 202.4 289.7 195.8 289.8 191.9 289.8 200.2 289.9 207.9 290.0 206.2 290.0 196.0 290.1 205.8 290.1 193.0 290.2 209.1 290.3 198.1 290.3 202.7 290.4 194.9 290.4 196.4 290.5 195.6 290.6 195.3 290.6 200.6 290.7 197.3 290.7 201.1 290.8 199.0 290.9 197.1 290.9 199.2 291.0 203.5 291.0 203.1 291.1 202.4 291.2 202.1 291.2 202.4 291.3 193.7 291.3 195.2 291.4 196.8 291.4 193.7 291.5 196.1 291.6 199.6 291.6 194.3 291.7 196.2 291.7 207.7 291.8 191.6 291.9 198.3 291.9 205.6 292.0 193.9 292.0 197.5 292.1 197.4 292.2 193.7 292.2 195.2 292.3 196.8 292.3 197.2 292.4 197.6 292.5 198.6 292.5 203.7 292.6 194.6 292.6 198.0 292.7 198.4 292.8 195.6 292.8 200.6 292.9 199.6 292.9 195.9 293.0 198.9 293.1 202.5 293.1 202.3 293.2 190.3 293.2 200.2 293.3 191.9 293.4 201.0 293.4 196.9 293.5 199.9 293.5 203.1 293.6 199.4 293.7 192.2 293.7 201.3 293.8 202.4 293.8 197.0 293.9 202.5 293.9 201.6 294.0 204.7 294.1 195.3 294.1 196.1 294.2 211.2 294.2 196.2 294.3 199.3 294.4 198.8 294.4 201.5 294.5 197.7 294.5 196.4 294.6 201.8 294.7 198.6 294.7 198.7 294.8 201.8 294.8 200.7 294.9 199.0 295.0 195.9 295.0 201.3 295.1 198.6 295.1 195.4 295.2 194.3 295.3 205.1 295.3 197.9 295.4 199.5 295.4 200.8 295.5 201.6 295.6 193.6 295.6 195.4 295.7 199.7 295.7 198.3 295.8 199.0 295.9 199.5 295.9 196.0 296.0 200.5 296.0 196.3 296.1 205.1 296.2 197.8 296.2 199.2 296.3 201.0 296.3 197.3 296.4 198.3 296.5 200.0 296.5 194.6 296.6 199.2 296.6 199.5 296.7 200.8 296.7 195.2 296.8 195.7 296.9 211.4 296.9 202.5 297.0 197.6 297.0 195.7 297.1 197.1 297.2 199.2 297.2 194.3 297.3 200.8 297.3 198.4 297.4 198.8 297.5 198.3 297.5 202.6 297.6 199.8 297.6 196.5 297.7 195.5 297.8 196.1 297.8 197.2 297.9 199.8 297.9 196.7 298.0 199.0 298.1 198.3 298.1 197.3 298.2 202.2 298.2 197.0 298.3 195.3 298.4 206.3 298.4 200.1 298.5 200.3 298.5 194.1 298.6 198.6 298.7 196.9 298.7 196.5 298.8 202.2 298.8 204.9 298.9 195.4 299.0 195.0 299.0 196.2 299.1 196.4 299.1 202.0 299.2 202.0 299.2 199.1 299.3 196.9 299.4 200.4 299.4 200.3 299.5 197.5 299.5 194.2 299.6 206.6 299.7 200.1 299.7 206.2 299.8 208.2 299.8 195.6 299.9 203.7 300.0 198.0 300.0 195.6 300.1 196.9 300.1 203.6 300.2 198.0 300.3 199.6 300.3 202.3 300.4 200.7 300.4 201.6 300.5 196.0 300.6 199.5 300.6 201.1 300.7 198.0 300.7 198.0 300.8 197.4 300.9 196.2 300.9 202.6 301.0 201.7 301.0 195.8 301.1 202.4 301.2 197.1 301.2 211.8 301.3 199.7 301.3 203.3 301.4 200.4 301.5 198.2 301.5 210.0 301.6 207.0 301.6 199.8 301.7 205.1 301.7 198.9 301.8 199.5 301.9 204.4 301.9 196.6 302.0 197.3 302.0 198.2 302.1 202.2 302.2 202.1 302.2 206.6 302.3 211.2 302.3 201.4 302.4 197.3 302.5 200.9 302.5 197.8 302.6 202.2 302.6 201.8 302.7 201.7 302.8 195.9 302.8 205.2 302.9 202.9 302.9 197.3 303.0 196.6 303.1 197.8 303.1 192.2 303.2 200.5 303.2 199.9 303.3 202.4 303.4 201.3 303.4 194.4 303.5 196.4 303.5 201.4 303.6 195.6 303.7 204.1 303.7 194.2 303.8 201.6 303.8 197.1 303.9 206.3 304.0 199.4 304.0 201.7 304.1 201.0 304.1 200.5 304.2 208.8 304.3 208.6 304.3 195.5 304.4 205.6 304.4 213.4 304.5 198.5 304.5 200.2 304.6 199.6 304.7 202.1 304.7 197.8 304.8 197.0 304.8 201.1 304.9 198.7 305.0 211.1 305.0 201.4 305.1 204.4 305.1 205.7 305.2 196.9 305.3 213.0 305.3 199.4 305.4 207.3 305.4 196.5 305.5 199.9 305.6 197.2 305.6 201.5 305.7 207.7 305.7 193.0 305.8 201.1 305.9 205.8 305.9 196.6 306.0 193.8 306.0 200.4 306.1 202.5 306.2 198.0 306.2 197.3 306.3 197.0 306.3 201.7 306.4 200.5 306.5 198.7 306.5 194.0 306.6 196.0 306.6 202.9 306.7 198.8 306.8 197.4 306.8 203.0 306.9 219.3 306.9 200.0 307.0 202.8 307.0 199.5 307.1 199.0 307.2 199.9 307.2 200.4 307.3 196.6 307.3 202.4 307.4 208.2 307.5 214.8 307.5 198.4 307.6 207.3 307.6 201.2 307.7 200.2 307.8 197.5 307.8 197.3 307.9 200.2 307.9 200.2 308.0 194.9 308.1 213.3 308.1 201.4 308.2 204.2 308.2 201.1 308.3 194.6" fill="none" stroke="#08088c" stroke-width="0.45" stroke-linejoin="bevel"/>
<line x1="181.20" y1="134.00" x2="187.60" y2="134.00" stroke="#8a78d8" stroke-width="0.7"/>
</svg></body></html>
